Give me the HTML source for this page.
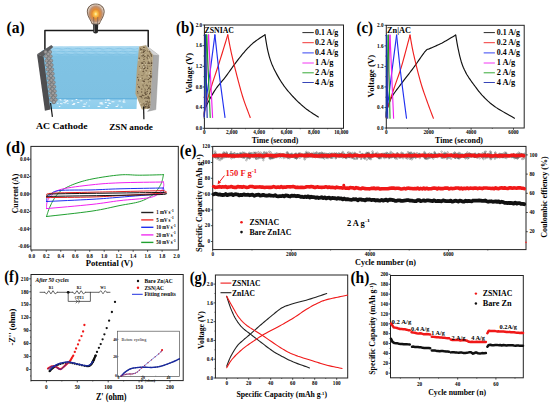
<!DOCTYPE html>
<html><head><meta charset="utf-8"><style>
html,body{margin:0;padding:0;background:#fff;}
body{width:550px;height:405px;overflow:hidden;}
svg{display:block;}
</style></head><body>
<svg width="550" height="405" viewBox="0 0 550 405">
<rect width="550" height="405" fill="#fff"/>
<text x="6.50" y="32.80" font-size="16" fill="#000" style="font-family:'Liberation Serif',serif;font-weight:bold" textLength="18.10" lengthAdjust="spacingAndGlyphs">(a)</text>
<polyline points="44.90,50.00 44.90,30.60 148.20,30.60 148.20,47.00" stroke="#1a1a1a" stroke-width="1.5" fill="none" stroke-linejoin="round" stroke-linecap="round" stroke-linecap="butt"/>
<defs><linearGradient id="wg" x1="0" y1="0" x2="0" y2="1"><stop offset="0" stop-color="#b2dcf2"/><stop offset="0.06" stop-color="#9ed3ee"/><stop offset="0.14" stop-color="#8dcae8"/><stop offset="0.16" stop-color="#80c3e4"/><stop offset="0.82" stop-color="#7ec1e2"/><stop offset="0.83" stop-color="#5eaedb"/><stop offset="0.86" stop-color="#98d1ee"/><stop offset="1" stop-color="#8ccdec"/></linearGradient><radialGradient id="bulb" cx="0.5" cy="0.5" r="0.55"><stop offset="0" stop-color="#fff4b8"/><stop offset="0.18" stop-color="#fcc44a"/><stop offset="0.42" stop-color="#e38a32"/><stop offset="0.68" stop-color="#c09070"/><stop offset="0.88" stop-color="#ddd0c4"/><stop offset="1" stop-color="#7a5a44"/></radialGradient><linearGradient id="plate" x1="0" y1="0" x2="1" y2="0"><stop offset="0" stop-color="#a8a8a8"/><stop offset="0.6" stop-color="#c8c8c8"/><stop offset="1" stop-color="#8a8a8a"/></linearGradient></defs>
<polygon points="41.50,51.00 52.00,46.20 139.50,46.00 136.50,109.00 47.50,109.00" fill="url(#wg)" stroke="none" stroke-width="1" />
<polyline points="53.00,47.40 54.80,47.85 56.60,47.80 58.40,47.32 60.20,46.92 62.00,47.05 63.80,47.56 65.60,47.89 67.40,47.69 69.20,47.17 71.00,46.90 72.80,47.18 74.60,47.70 76.40,47.89 78.20,47.55 80.00,47.04 81.80,46.93 83.60,47.33 85.40,47.81 87.20,47.84 89.00,47.40 90.80,46.95 92.60,47.00 94.40,47.48 96.20,47.88 98.00,47.75 99.80,47.24 101.60,46.91 103.40,47.11 105.20,47.63 107.00,47.90 108.80,47.62 110.60,47.10 112.40,46.91 114.20,47.25 116.00,47.76 117.80,47.87 119.60,47.47 121.40,46.99 123.20,46.96 125.00,47.41 126.80,47.85 128.60,47.80 130.40,47.31 132.20,46.92 134.00,47.05 135.80,47.56 137.60,47.90" stroke="#aad9f0" stroke-width="0.5" fill="none" stroke-linejoin="round" stroke-linecap="round" />
<polyline points="53.00,49.25 54.80,48.82 56.60,48.36 58.40,48.38 60.20,48.86 62.00,49.27 63.80,49.17 65.60,48.66 67.40,48.31 69.20,48.49 71.00,49.01 72.80,49.30 74.60,49.04 76.40,48.52 78.20,48.30 80.00,48.63 81.80,49.14 83.60,49.28 85.40,48.89 87.20,48.41 89.00,48.35 90.80,48.78 92.60,49.24 94.40,49.21 96.20,48.74 98.00,48.33 99.80,48.44 101.60,48.94 103.40,49.29 105.20,49.11 107.00,48.59 108.80,48.30 110.60,48.56 112.40,49.08 114.20,49.30 116.00,48.97 117.80,48.46 119.60,48.32 121.40,48.71 123.20,49.20 125.00,49.25 126.80,48.81 128.60,48.36 130.40,48.39 132.20,48.87 134.00,49.27 135.80,49.16 137.60,48.66" stroke="#6ab6de" stroke-width="0.5" fill="none" stroke-linejoin="round" stroke-linecap="round" />
<polyline points="53.00,49.82 54.80,49.74 56.60,50.16 58.40,50.63 60.20,50.63 62.00,50.16 63.80,49.74 65.60,49.82 67.40,50.32 69.20,50.69 71.00,50.53 72.80,50.01 74.60,49.70 76.40,49.94 78.20,50.46 80.00,50.70 81.80,50.39 83.60,49.87 85.40,49.71 87.20,50.08 89.00,50.58 90.80,50.66 92.60,50.24 94.40,49.77 96.20,49.78 98.00,50.24 99.80,50.66 101.60,50.58 103.40,50.08 105.20,49.71 107.00,49.88 108.80,50.40 110.60,50.70 112.40,50.46 114.20,49.93 116.00,49.70 117.80,50.01 119.60,50.53 121.40,50.68 123.20,50.31 125.00,49.82 126.80,49.74 128.60,50.17 130.40,50.63 132.20,50.62 134.00,50.15 135.80,49.74 137.60,49.82" stroke="#aad9f0" stroke-width="0.5" fill="none" stroke-linejoin="round" stroke-linecap="round" />
<polyline points="53.00,51.46 54.80,51.96 56.60,52.07 58.40,51.66 60.20,51.19 62.00,51.16 63.80,51.62 65.60,52.05 67.40,51.99 69.20,51.50 71.00,51.12 72.80,51.26 74.60,51.77 76.40,52.10 78.20,51.88 80.00,51.36 81.80,51.10 83.60,51.39 85.40,51.91 87.20,52.09 89.00,51.74 90.80,51.23 92.60,51.13 94.40,51.54 96.20,52.02 98.00,52.04 99.80,51.58 101.60,51.15 103.40,51.21 105.20,51.70 107.00,52.08 108.80,51.94 110.60,51.42 112.40,51.10 114.20,51.33 116.00,51.85 117.80,52.10 119.60,51.81 121.40,51.29 123.20,51.11 125.00,51.47 126.80,51.97 128.60,52.07 130.40,51.65 132.20,51.18 134.00,51.17 135.80,51.63 137.60,52.06" stroke="#6ab6de" stroke-width="0.5" fill="none" stroke-linejoin="round" stroke-linecap="round" />
<polyline points="53.00,53.49 54.80,53.16 56.60,52.65 58.40,52.52 60.20,52.92 62.00,53.40 63.80,53.45 65.60,53.00 67.40,52.56 69.20,52.59 71.00,53.07 72.80,53.47 74.60,53.36 76.40,52.85 78.20,52.51 80.00,52.70 81.80,53.23 83.60,53.50 85.40,53.23 87.20,52.71 89.00,52.51 90.80,52.84 92.60,53.35 94.40,53.48 96.20,53.08 98.00,52.60 99.80,52.55 101.60,53.00 103.40,53.45 105.20,53.40 107.00,52.92 108.80,52.52 110.60,52.65 112.40,53.16 114.20,53.49 116.00,53.29 117.80,52.77 119.60,52.50 121.40,52.78 123.20,53.30 125.00,53.49 126.80,53.15 128.60,52.64 130.40,52.53 132.20,52.93 134.00,53.41 135.80,53.44 137.60,53.00" stroke="#aad9f0" stroke-width="0.5" fill="none" stroke-linejoin="round" stroke-linecap="round" />
<polyline points="53.00,54.13 54.80,53.90 56.60,54.22 58.40,54.73 60.20,54.88 62.00,54.50 63.80,54.01 65.60,53.94 67.40,54.38 69.20,54.83 71.00,54.82 72.80,54.35 74.60,53.93 76.40,54.03 78.20,54.53 80.00,54.89 81.80,54.71 83.60,54.19 85.40,53.90 87.20,54.15 89.00,54.68 90.80,54.90 92.60,54.57 94.40,54.06 96.20,53.92 98.00,54.30 99.80,54.79 101.60,54.85 103.40,54.42 105.20,53.96 107.00,53.98 108.80,54.46 110.60,54.87 112.40,54.77 114.20,54.26 116.00,53.91 117.80,54.09 119.60,54.61 121.40,54.90 123.20,54.64 125.00,54.12 126.80,53.90 128.60,54.23 130.40,54.74 132.20,54.88 134.00,54.49 135.80,54.01 137.60,53.95" stroke="#6ab6de" stroke-width="0.5" fill="none" stroke-linejoin="round" stroke-linecap="round" />
<ellipse cx="81.3" cy="100.7" rx="1.3" ry="0.5" fill="#f4fbff"/>
<ellipse cx="61.7" cy="103.8" rx="1.0" ry="0.5" fill="#f4fbff"/>
<ellipse cx="60.5" cy="103.6" rx="0.5" ry="0.5" fill="#f4fbff"/>
<ellipse cx="89.8" cy="100.1" rx="0.6" ry="0.5" fill="#f4fbff"/>
<ellipse cx="89.1" cy="106.1" rx="0.7" ry="0.5" fill="#f4fbff"/>
<ellipse cx="73.4" cy="104.5" rx="1.7" ry="0.5" fill="#f4fbff"/>
<ellipse cx="101.0" cy="102.7" rx="1.8" ry="0.5" fill="#f4fbff"/>
<ellipse cx="59.6" cy="106.4" rx="0.9" ry="0.5" fill="#f4fbff"/>
<ellipse cx="67.3" cy="100.4" rx="0.9" ry="0.5" fill="#f4fbff"/>
<ellipse cx="119.7" cy="100.9" rx="1.3" ry="0.5" fill="#f4fbff"/>
<ellipse cx="105.8" cy="102.5" rx="1.2" ry="0.5" fill="#f4fbff"/>
<ellipse cx="60.9" cy="100.0" rx="0.8" ry="0.5" fill="#f4fbff"/>
<ellipse cx="109.1" cy="102.9" rx="0.9" ry="0.5" fill="#f4fbff"/>
<ellipse cx="101.7" cy="103.1" rx="0.9" ry="0.5" fill="#f4fbff"/>
<ellipse cx="118.0" cy="105.1" rx="0.8" ry="0.5" fill="#f4fbff"/>
<ellipse cx="100.8" cy="103.7" rx="1.6" ry="0.5" fill="#f4fbff"/>
<ellipse cx="112.9" cy="101.8" rx="1.8" ry="0.5" fill="#f4fbff"/>
<ellipse cx="65.2" cy="102.8" rx="1.5" ry="0.5" fill="#f4fbff"/>
<ellipse cx="67.9" cy="103.4" rx="0.6" ry="0.5" fill="#f4fbff"/>
<ellipse cx="108.1" cy="105.6" rx="1.2" ry="0.5" fill="#f4fbff"/>
<ellipse cx="124.3" cy="102.0" rx="1.4" ry="0.5" fill="#f4fbff"/>
<ellipse cx="102.4" cy="104.1" rx="1.1" ry="0.5" fill="#f4fbff"/>
<ellipse cx="121.5" cy="107.1" rx="1.1" ry="0.5" fill="#f4fbff"/>
<ellipse cx="107.8" cy="100.0" rx="1.4" ry="0.5" fill="#f4fbff"/>
<ellipse cx="106.5" cy="107.4" rx="1.6" ry="0.5" fill="#f4fbff"/>
<ellipse cx="78.2" cy="102.6" rx="1.4" ry="0.5" fill="#f4fbff"/>
<ellipse cx="57.8" cy="103.2" rx="0.7" ry="0.5" fill="#f4fbff"/>
<ellipse cx="65.1" cy="100.0" rx="1.5" ry="0.5" fill="#f4fbff"/>
<ellipse cx="66.1" cy="101.5" rx="1.0" ry="0.5" fill="#f4fbff"/>
<ellipse cx="124.0" cy="100.1" rx="1.1" ry="0.5" fill="#f4fbff"/>
<ellipse cx="98.9" cy="106.6" rx="1.6" ry="0.5" fill="#f4fbff"/>
<ellipse cx="123.4" cy="101.7" rx="1.0" ry="0.5" fill="#f4fbff"/>
<ellipse cx="84.0" cy="106.6" rx="1.7" ry="0.5" fill="#f4fbff"/>
<ellipse cx="67.8" cy="100.9" rx="0.8" ry="0.5" fill="#f4fbff"/>
<ellipse cx="74.2" cy="103.4" rx="1.3" ry="0.5" fill="#f4fbff"/>
<ellipse cx="76.5" cy="99.5" rx="1.0" ry="0.5" fill="#f4fbff"/>
<ellipse cx="84.8" cy="104.0" rx="1.7" ry="0.5" fill="#f4fbff"/>
<ellipse cx="109.9" cy="103.6" rx="1.3" ry="0.5" fill="#f4fbff"/>
<ellipse cx="108.7" cy="99.9" rx="1.7" ry="0.5" fill="#f4fbff"/>
<ellipse cx="116.8" cy="106.5" rx="1.5" ry="0.5" fill="#f4fbff"/>
<ellipse cx="86.6" cy="102.7" rx="0.6" ry="0.5" fill="#f4fbff"/>
<ellipse cx="105.5" cy="100.0" rx="0.6" ry="0.5" fill="#f4fbff"/>
<ellipse cx="72.3" cy="100.8" rx="0.9" ry="0.5" fill="#f4fbff"/>
<ellipse cx="60.1" cy="99.5" rx="0.7" ry="0.5" fill="#f4fbff"/>
<ellipse cx="63.9" cy="102.4" rx="0.5" ry="0.5" fill="#f4fbff"/>
<polygon points="37.00,54.20 43.60,56.60 50.40,109.60 44.90,110.80" fill="#4e4e50" stroke="none" stroke-width="1" />
<polygon points="37.00,54.20 51.40,45.00 53.20,47.00 42.90,56.80" fill="#5c5c5e" stroke="none" stroke-width="1" />
<circle cx="45.60" cy="52.00" r="1.7" fill="#a09e9e" stroke="#6a6868" stroke-width="0.5"/>
<circle cx="50.00" cy="52.00" r="1.7" fill="#a09e9e" stroke="#6a6868" stroke-width="0.5"/>
<circle cx="47.93" cy="54.17" r="1.7" fill="#a09e9e" stroke="#6a6868" stroke-width="0.5"/>
<circle cx="48.37" cy="54.17" r="1.7" fill="#a09e9e" stroke="#6a6868" stroke-width="0.5"/>
<circle cx="46.11" cy="56.35" r="1.7" fill="#a09e9e" stroke="#6a6868" stroke-width="0.5"/>
<circle cx="50.51" cy="56.35" r="1.7" fill="#a09e9e" stroke="#6a6868" stroke-width="0.5"/>
<circle cx="48.44" cy="58.52" r="1.7" fill="#a09e9e" stroke="#6a6868" stroke-width="0.5"/>
<circle cx="48.88" cy="58.52" r="1.7" fill="#a09e9e" stroke="#6a6868" stroke-width="0.5"/>
<circle cx="46.63" cy="60.70" r="1.7" fill="#a09e9e" stroke="#6a6868" stroke-width="0.5"/>
<circle cx="51.03" cy="60.70" r="1.7" fill="#a09e9e" stroke="#6a6868" stroke-width="0.5"/>
<circle cx="48.95" cy="62.87" r="1.7" fill="#a09e9e" stroke="#6a6868" stroke-width="0.5"/>
<circle cx="49.39" cy="62.87" r="1.7" fill="#a09e9e" stroke="#6a6868" stroke-width="0.5"/>
<circle cx="47.14" cy="65.04" r="1.7" fill="#a09e9e" stroke="#6a6868" stroke-width="0.5"/>
<circle cx="51.54" cy="65.04" r="1.7" fill="#a09e9e" stroke="#6a6868" stroke-width="0.5"/>
<circle cx="49.47" cy="67.22" r="1.7" fill="#a09e9e" stroke="#6a6868" stroke-width="0.5"/>
<circle cx="49.91" cy="67.22" r="1.7" fill="#a09e9e" stroke="#6a6868" stroke-width="0.5"/>
<circle cx="47.65" cy="69.39" r="1.7" fill="#a09e9e" stroke="#6a6868" stroke-width="0.5"/>
<circle cx="52.05" cy="69.39" r="1.7" fill="#a09e9e" stroke="#6a6868" stroke-width="0.5"/>
<circle cx="49.98" cy="71.57" r="1.7" fill="#a09e9e" stroke="#6a6868" stroke-width="0.5"/>
<circle cx="50.42" cy="71.57" r="1.7" fill="#a09e9e" stroke="#6a6868" stroke-width="0.5"/>
<circle cx="48.17" cy="73.74" r="1.7" fill="#a09e9e" stroke="#6a6868" stroke-width="0.5"/>
<circle cx="52.57" cy="73.74" r="1.7" fill="#a09e9e" stroke="#6a6868" stroke-width="0.5"/>
<circle cx="50.49" cy="75.91" r="1.7" fill="#a09e9e" stroke="#6a6868" stroke-width="0.5"/>
<circle cx="50.93" cy="75.91" r="1.7" fill="#a09e9e" stroke="#6a6868" stroke-width="0.5"/>
<circle cx="48.68" cy="78.09" r="1.7" fill="#a09e9e" stroke="#6a6868" stroke-width="0.5"/>
<circle cx="53.08" cy="78.09" r="1.7" fill="#a09e9e" stroke="#6a6868" stroke-width="0.5"/>
<circle cx="51.00" cy="80.26" r="1.7" fill="#a09e9e" stroke="#6a6868" stroke-width="0.5"/>
<circle cx="51.44" cy="80.26" r="1.7" fill="#a09e9e" stroke="#6a6868" stroke-width="0.5"/>
<circle cx="49.19" cy="82.43" r="1.7" fill="#a09e9e" stroke="#6a6868" stroke-width="0.5"/>
<circle cx="53.59" cy="82.43" r="1.7" fill="#a09e9e" stroke="#6a6868" stroke-width="0.5"/>
<circle cx="51.52" cy="84.61" r="1.7" fill="#a09e9e" stroke="#6a6868" stroke-width="0.5"/>
<circle cx="51.96" cy="84.61" r="1.7" fill="#a09e9e" stroke="#6a6868" stroke-width="0.5"/>
<circle cx="49.70" cy="86.78" r="1.7" fill="#a09e9e" stroke="#6a6868" stroke-width="0.5"/>
<circle cx="54.10" cy="86.78" r="1.7" fill="#a09e9e" stroke="#6a6868" stroke-width="0.5"/>
<circle cx="52.03" cy="88.96" r="1.7" fill="#a09e9e" stroke="#6a6868" stroke-width="0.5"/>
<circle cx="52.47" cy="88.96" r="1.7" fill="#a09e9e" stroke="#6a6868" stroke-width="0.5"/>
<circle cx="50.22" cy="91.13" r="1.7" fill="#a09e9e" stroke="#6a6868" stroke-width="0.5"/>
<circle cx="54.62" cy="91.13" r="1.7" fill="#a09e9e" stroke="#6a6868" stroke-width="0.5"/>
<circle cx="52.54" cy="93.30" r="1.7" fill="#a09e9e" stroke="#6a6868" stroke-width="0.5"/>
<circle cx="52.98" cy="93.30" r="1.7" fill="#a09e9e" stroke="#6a6868" stroke-width="0.5"/>
<circle cx="50.73" cy="95.48" r="1.7" fill="#a09e9e" stroke="#6a6868" stroke-width="0.5"/>
<circle cx="55.13" cy="95.48" r="1.7" fill="#a09e9e" stroke="#6a6868" stroke-width="0.5"/>
<circle cx="53.06" cy="97.65" r="1.7" fill="#a09e9e" stroke="#6a6868" stroke-width="0.5"/>
<circle cx="53.50" cy="97.65" r="1.7" fill="#a09e9e" stroke="#6a6868" stroke-width="0.5"/>
<circle cx="51.24" cy="99.83" r="1.7" fill="#a09e9e" stroke="#6a6868" stroke-width="0.5"/>
<circle cx="55.64" cy="99.83" r="1.7" fill="#a09e9e" stroke="#6a6868" stroke-width="0.5"/>
<circle cx="53.57" cy="102.00" r="1.7" fill="#a09e9e" stroke="#6a6868" stroke-width="0.5"/>
<circle cx="54.01" cy="102.00" r="1.7" fill="#a09e9e" stroke="#6a6868" stroke-width="0.5"/>
<line x1="50.60" y1="103.00" x2="52.40" y2="116.80" stroke="#111" stroke-width="1.2"/>
<polygon points="145.60,45.20 158.80,55.20 155.80,109.60 147.50,111.40 150.20,108.50 153.00,54.80" fill="#a9a9a9" stroke="#8c8c8c" stroke-width="0.4" />
<polygon points="145.60,45.20 158.80,55.20 153.00,54.80" fill="#d4d4d4" stroke="none" stroke-width="1" />
<polygon points="139.10,46.50 145.60,45.20 153.00,54.80 150.20,108.50 141.90,109.40 135.40,93.70 136.80,70.00" fill="#b3a27e" stroke="none" stroke-width="1" />
<circle cx="147.2" cy="100.8" r="0.37" fill="#5e4c36"/>
<circle cx="145.6" cy="62.9" r="0.46" fill="#5e4c36"/>
<circle cx="151.1" cy="55.0" r="0.75" fill="#5e4c36"/>
<circle cx="146.4" cy="75.9" r="0.34" fill="#5e4c36"/>
<circle cx="145.7" cy="53.7" r="0.42" fill="#5e4c36"/>
<circle cx="141.9" cy="98.1" r="0.31" fill="#5e4c36"/>
<circle cx="146.9" cy="105.5" r="0.37" fill="#5e4c36"/>
<circle cx="138.6" cy="80.6" r="0.54" fill="#5e4c36"/>
<circle cx="149.0" cy="107.2" r="0.61" fill="#5e4c36"/>
<circle cx="145.8" cy="63.4" r="0.38" fill="#5e4c36"/>
<circle cx="145.9" cy="94.6" r="0.65" fill="#5e4c36"/>
<circle cx="143.6" cy="67.6" r="0.67" fill="#5e4c36"/>
<circle cx="148.9" cy="107.6" r="0.66" fill="#5e4c36"/>
<circle cx="148.1" cy="97.4" r="0.40" fill="#5e4c36"/>
<circle cx="144.7" cy="79.1" r="0.31" fill="#5e4c36"/>
<circle cx="143.5" cy="49.2" r="0.42" fill="#5e4c36"/>
<circle cx="150.2" cy="89.7" r="0.50" fill="#5e4c36"/>
<circle cx="149.7" cy="104.7" r="0.73" fill="#5e4c36"/>
<circle cx="143.4" cy="69.7" r="0.40" fill="#5e4c36"/>
<circle cx="143.9" cy="59.5" r="0.58" fill="#5e4c36"/>
<circle cx="148.9" cy="102.4" r="0.52" fill="#5e4c36"/>
<circle cx="148.9" cy="87.3" r="0.34" fill="#5e4c36"/>
<circle cx="149.9" cy="87.8" r="0.65" fill="#5e4c36"/>
<circle cx="145.3" cy="93.3" r="0.38" fill="#5e4c36"/>
<circle cx="143.8" cy="95.6" r="0.66" fill="#5e4c36"/>
<circle cx="146.2" cy="106.8" r="0.48" fill="#5e4c36"/>
<circle cx="148.2" cy="105.3" r="0.38" fill="#5e4c36"/>
<circle cx="143.3" cy="55.2" r="0.71" fill="#5e4c36"/>
<circle cx="141.3" cy="96.7" r="0.67" fill="#5e4c36"/>
<circle cx="147.9" cy="107.3" r="0.46" fill="#5e4c36"/>
<circle cx="141.1" cy="81.0" r="0.31" fill="#5e4c36"/>
<circle cx="147.8" cy="106.7" r="0.54" fill="#5e4c36"/>
<circle cx="146.1" cy="104.5" r="0.69" fill="#5e4c36"/>
<circle cx="142.6" cy="97.9" r="0.41" fill="#5e4c36"/>
<circle cx="144.0" cy="65.4" r="0.56" fill="#5e4c36"/>
<circle cx="146.4" cy="63.3" r="0.36" fill="#5e4c36"/>
<circle cx="145.2" cy="103.0" r="0.51" fill="#5e4c36"/>
<circle cx="150.1" cy="83.1" r="0.49" fill="#5e4c36"/>
<circle cx="146.5" cy="103.5" r="0.54" fill="#5e4c36"/>
<circle cx="138.4" cy="79.4" r="0.50" fill="#5e4c36"/>
<circle cx="139.2" cy="58.7" r="0.66" fill="#5e4c36"/>
<circle cx="147.4" cy="58.0" r="0.63" fill="#5e4c36"/>
<circle cx="144.1" cy="81.4" r="0.53" fill="#5e4c36"/>
<circle cx="149.1" cy="81.4" r="0.35" fill="#5e4c36"/>
<circle cx="143.0" cy="81.7" r="0.42" fill="#5e4c36"/>
<circle cx="145.7" cy="94.6" r="0.55" fill="#5e4c36"/>
<circle cx="149.6" cy="93.9" r="0.50" fill="#5e4c36"/>
<circle cx="146.1" cy="84.9" r="0.53" fill="#5e4c36"/>
<circle cx="145.2" cy="89.8" r="0.54" fill="#5e4c36"/>
<circle cx="150.8" cy="76.7" r="0.61" fill="#5e4c36"/>
<circle cx="149.6" cy="101.0" r="0.42" fill="#5e4c36"/>
<circle cx="150.5" cy="81.6" r="0.68" fill="#5e4c36"/>
<circle cx="142.7" cy="55.9" r="0.50" fill="#5e4c36"/>
<circle cx="143.9" cy="51.9" r="0.33" fill="#5e4c36"/>
<circle cx="148.7" cy="88.3" r="0.70" fill="#5e4c36"/>
<circle cx="149.9" cy="56.9" r="0.60" fill="#5e4c36"/>
<circle cx="151.4" cy="56.2" r="0.74" fill="#5e4c36"/>
<circle cx="151.7" cy="60.9" r="0.48" fill="#5e4c36"/>
<circle cx="151.1" cy="77.2" r="0.67" fill="#5e4c36"/>
<circle cx="147.0" cy="57.3" r="0.53" fill="#5e4c36"/>
<circle cx="143.1" cy="68.2" r="0.44" fill="#5e4c36"/>
<circle cx="137.5" cy="91.6" r="0.55" fill="#5e4c36"/>
<circle cx="138.8" cy="74.4" r="0.45" fill="#5e4c36"/>
<circle cx="146.1" cy="85.6" r="0.33" fill="#5e4c36"/>
<circle cx="148.6" cy="107.6" r="0.74" fill="#5e4c36"/>
<circle cx="144.8" cy="53.9" r="0.32" fill="#5e4c36"/>
<circle cx="142.8" cy="95.0" r="0.36" fill="#5e4c36"/>
<circle cx="150.7" cy="73.3" r="0.67" fill="#5e4c36"/>
<circle cx="142.7" cy="63.3" r="0.71" fill="#5e4c36"/>
<circle cx="148.3" cy="82.3" r="0.34" fill="#5e4c36"/>
<circle cx="147.4" cy="51.0" r="0.49" fill="#5e4c36"/>
<circle cx="149.8" cy="51.9" r="0.59" fill="#5e4c36"/>
<circle cx="140.1" cy="96.4" r="0.69" fill="#5e4c36"/>
<circle cx="149.0" cy="51.6" r="0.50" fill="#5e4c36"/>
<circle cx="147.6" cy="68.2" r="0.72" fill="#5e4c36"/>
<circle cx="142.3" cy="63.8" r="0.54" fill="#5e4c36"/>
<circle cx="142.1" cy="62.0" r="0.37" fill="#5e4c36"/>
<circle cx="143.1" cy="50.6" r="0.44" fill="#5e4c36"/>
<circle cx="149.7" cy="66.1" r="0.43" fill="#5e4c36"/>
<circle cx="142.2" cy="78.0" r="0.46" fill="#5e4c36"/>
<circle cx="143.1" cy="48.6" r="0.31" fill="#5e4c36"/>
<circle cx="146.1" cy="92.2" r="0.39" fill="#5e4c36"/>
<circle cx="150.7" cy="76.5" r="0.35" fill="#5e4c36"/>
<circle cx="145.2" cy="97.5" r="0.52" fill="#5e4c36"/>
<circle cx="144.9" cy="98.4" r="0.53" fill="#5e4c36"/>
<circle cx="150.4" cy="89.5" r="0.45" fill="#5e4c36"/>
<circle cx="147.8" cy="98.3" r="0.59" fill="#5e4c36"/>
<circle cx="145.0" cy="72.2" r="0.32" fill="#5e4c36"/>
<circle cx="141.7" cy="55.4" r="0.63" fill="#5e4c36"/>
<circle cx="143.0" cy="63.1" r="0.34" fill="#5e4c36"/>
<circle cx="149.1" cy="98.8" r="0.60" fill="#5e4c36"/>
<circle cx="144.1" cy="64.7" r="0.43" fill="#5e4c36"/>
<circle cx="142.0" cy="75.5" r="0.50" fill="#5e4c36"/>
<circle cx="151.6" cy="63.6" r="0.74" fill="#5e4c36"/>
<circle cx="143.0" cy="80.9" r="0.73" fill="#5e4c36"/>
<circle cx="145.5" cy="66.4" r="0.30" fill="#5e4c36"/>
<circle cx="146.6" cy="70.8" r="0.53" fill="#5e4c36"/>
<circle cx="147.6" cy="59.8" r="0.30" fill="#5e4c36"/>
<circle cx="141.6" cy="63.6" r="0.48" fill="#5e4c36"/>
<circle cx="140.4" cy="50.0" r="0.44" fill="#5e4c36"/>
<circle cx="148.3" cy="61.7" r="0.54" fill="#5e4c36"/>
<circle cx="147.2" cy="93.3" r="0.62" fill="#5e4c36"/>
<circle cx="145.3" cy="101.1" r="0.45" fill="#5e4c36"/>
<circle cx="144.3" cy="107.6" r="0.63" fill="#5e4c36"/>
<circle cx="138.7" cy="86.7" r="0.68" fill="#5e4c36"/>
<circle cx="147.4" cy="101.9" r="0.63" fill="#5e4c36"/>
<circle cx="141.3" cy="97.0" r="0.54" fill="#5e4c36"/>
<circle cx="149.7" cy="78.3" r="0.66" fill="#5e4c36"/>
<circle cx="146.7" cy="97.9" r="0.70" fill="#5e4c36"/>
<circle cx="147.8" cy="89.2" r="0.40" fill="#5e4c36"/>
<circle cx="142.1" cy="49.4" r="0.46" fill="#5e4c36"/>
<circle cx="150.4" cy="53.9" r="0.55" fill="#5e4c36"/>
<circle cx="147.3" cy="85.8" r="0.61" fill="#5e4c36"/>
<circle cx="137.7" cy="77.3" r="0.66" fill="#5e4c36"/>
<circle cx="145.5" cy="93.1" r="0.54" fill="#5e4c36"/>
<circle cx="139.3" cy="87.7" r="0.63" fill="#5e4c36"/>
<circle cx="141.3" cy="62.9" r="0.42" fill="#5e4c36"/>
<circle cx="141.7" cy="92.0" r="0.63" fill="#5e4c36"/>
<circle cx="146.9" cy="107.0" r="0.47" fill="#5e4c36"/>
<circle cx="148.4" cy="76.7" r="0.65" fill="#5e4c36"/>
<circle cx="147.5" cy="85.1" r="0.33" fill="#5e4c36"/>
<circle cx="144.8" cy="56.5" r="0.63" fill="#5e4c36"/>
<circle cx="147.9" cy="66.1" r="0.31" fill="#5e4c36"/>
<circle cx="144.0" cy="51.2" r="0.60" fill="#5e4c36"/>
<circle cx="147.6" cy="89.7" r="0.43" fill="#5e4c36"/>
<circle cx="146.0" cy="79.0" r="0.51" fill="#5e4c36"/>
<circle cx="151.5" cy="54.7" r="0.39" fill="#5e4c36"/>
<circle cx="149.4" cy="107.2" r="0.31" fill="#5e4c36"/>
<circle cx="149.8" cy="75.5" r="0.74" fill="#5e4c36"/>
<circle cx="143.8" cy="74.9" r="0.39" fill="#5e4c36"/>
<circle cx="144.3" cy="105.2" r="0.56" fill="#5e4c36"/>
<circle cx="148.0" cy="56.1" r="0.73" fill="#5e4c36"/>
<circle cx="150.9" cy="55.6" r="0.53" fill="#5e4c36"/>
<circle cx="147.9" cy="101.6" r="0.40" fill="#5e4c36"/>
<circle cx="146.3" cy="102.3" r="0.31" fill="#5e4c36"/>
<circle cx="144.4" cy="47.7" r="0.50" fill="#5e4c36"/>
<circle cx="142.4" cy="65.9" r="0.45" fill="#5e4c36"/>
<circle cx="150.4" cy="66.8" r="0.30" fill="#5e4c36"/>
<circle cx="149.0" cy="93.3" r="0.35" fill="#5e4c36"/>
<circle cx="148.1" cy="104.0" r="0.71" fill="#5e4c36"/>
<circle cx="145.8" cy="65.2" r="0.48" fill="#5e4c36"/>
<circle cx="147.6" cy="108.4" r="0.46" fill="#5e4c36"/>
<circle cx="144.0" cy="73.6" r="0.32" fill="#5e4c36"/>
<circle cx="150.3" cy="53.7" r="0.43" fill="#5e4c36"/>
<circle cx="144.5" cy="104.6" r="0.42" fill="#5e4c36"/>
<circle cx="142.3" cy="78.7" r="0.47" fill="#5e4c36"/>
<circle cx="149.1" cy="105.8" r="0.67" fill="#5e4c36"/>
<circle cx="150.0" cy="86.0" r="0.72" fill="#5e4c36"/>
<circle cx="148.5" cy="81.0" r="0.32" fill="#5e4c36"/>
<circle cx="145.0" cy="92.2" r="0.64" fill="#5e4c36"/>
<circle cx="143.2" cy="86.8" r="0.32" fill="#5e4c36"/>
<circle cx="143.1" cy="104.0" r="0.51" fill="#5e4c36"/>
<circle cx="144.6" cy="68.5" r="0.63" fill="#5e4c36"/>
<circle cx="145.2" cy="107.1" r="0.60" fill="#5e4c36"/>
<circle cx="147.8" cy="65.9" r="0.48" fill="#5e4c36"/>
<circle cx="143.3" cy="57.7" r="0.39" fill="#5e4c36"/>
<circle cx="146.4" cy="102.8" r="0.40" fill="#5e4c36"/>
<circle cx="149.9" cy="102.8" r="0.50" fill="#5e4c36"/>
<circle cx="143.9" cy="56.0" r="0.34" fill="#5e4c36"/>
<circle cx="141.2" cy="68.4" r="0.41" fill="#5e4c36"/>
<circle cx="148.1" cy="63.3" r="0.70" fill="#5e4c36"/>
<circle cx="144.5" cy="93.2" r="0.49" fill="#5e4c36"/>
<circle cx="144.9" cy="79.5" r="0.45" fill="#5e4c36"/>
<circle cx="144.1" cy="51.3" r="0.74" fill="#5e4c36"/>
<circle cx="147.9" cy="55.2" r="0.58" fill="#5e4c36"/>
<circle cx="143.2" cy="100.1" r="0.42" fill="#5e4c36"/>
<circle cx="146.3" cy="62.7" r="0.50" fill="#5e4c36"/>
<circle cx="148.9" cy="105.7" r="0.69" fill="#5e4c36"/>
<circle cx="140.6" cy="48.8" r="0.62" fill="#5e4c36"/>
<circle cx="146.2" cy="102.1" r="0.56" fill="#5e4c36"/>
<circle cx="143.7" cy="47.5" r="0.72" fill="#5e4c36"/>
<circle cx="149.0" cy="97.9" r="0.74" fill="#5e4c36"/>
<circle cx="142.0" cy="62.7" r="0.37" fill="#5e4c36"/>
<circle cx="148.2" cy="79.4" r="0.72" fill="#5e4c36"/>
<circle cx="147.2" cy="91.5" r="0.64" fill="#5e4c36"/>
<circle cx="147.2" cy="75.4" r="0.32" fill="#5e4c36"/>
<circle cx="142.3" cy="95.2" r="0.71" fill="#5e4c36"/>
<circle cx="143.5" cy="86.9" r="0.36" fill="#5e4c36"/>
<circle cx="148.8" cy="62.9" r="0.61" fill="#5e4c36"/>
<circle cx="141.7" cy="54.3" r="0.54" fill="#5e4c36"/>
<circle cx="144.8" cy="83.1" r="0.40" fill="#5e4c36"/>
<circle cx="137.7" cy="84.2" r="0.44" fill="#5e4c36"/>
<circle cx="151.0" cy="75.6" r="0.59" fill="#5e4c36"/>
<circle cx="146.1" cy="101.4" r="0.41" fill="#5e4c36"/>
<circle cx="151.7" cy="62.6" r="0.62" fill="#5e4c36"/>
<circle cx="139.5" cy="66.3" r="0.52" fill="#5e4c36"/>
<circle cx="144.9" cy="88.6" r="0.42" fill="#5e4c36"/>
<circle cx="150.0" cy="88.2" r="0.40" fill="#5e4c36"/>
<circle cx="144.1" cy="49.6" r="0.49" fill="#5e4c36"/>
<circle cx="141.8" cy="89.1" r="0.66" fill="#5e4c36"/>
<circle cx="145.6" cy="92.6" r="0.39" fill="#5e4c36"/>
<circle cx="145.5" cy="106.7" r="0.67" fill="#5e4c36"/>
<circle cx="144.0" cy="61.6" r="0.64" fill="#5e4c36"/>
<circle cx="151.4" cy="65.5" r="0.52" fill="#5e4c36"/>
<circle cx="144.2" cy="58.9" r="0.49" fill="#5e4c36"/>
<circle cx="150.2" cy="88.1" r="0.37" fill="#5e4c36"/>
<circle cx="143.2" cy="71.5" r="0.74" fill="#5e4c36"/>
<circle cx="141.2" cy="56.2" r="0.33" fill="#5e4c36"/>
<circle cx="150.7" cy="71.5" r="0.70" fill="#5e4c36"/>
<circle cx="150.4" cy="92.2" r="0.72" fill="#5e4c36"/>
<circle cx="143.0" cy="67.6" r="0.72" fill="#5e4c36"/>
<circle cx="137.9" cy="93.0" r="0.60" fill="#5e4c36"/>
<circle cx="145.4" cy="70.6" r="0.45" fill="#5e4c36"/>
<circle cx="139.2" cy="57.8" r="0.43" fill="#5e4c36"/>
<circle cx="151.3" cy="68.9" r="0.36" fill="#5e4c36"/>
<circle cx="144.5" cy="106.3" r="0.46" fill="#5e4c36"/>
<circle cx="148.8" cy="97.6" r="0.49" fill="#5e4c36"/>
<circle cx="145.6" cy="50.5" r="0.47" fill="#5e4c36"/>
<circle cx="143.7" cy="103.6" r="0.46" fill="#5e4c36"/>
<circle cx="140.8" cy="102.2" r="0.48" fill="#5e4c36"/>
<circle cx="148.3" cy="97.0" r="0.32" fill="#5e4c36"/>
<circle cx="141.2" cy="49.6" r="0.71" fill="#5e4c36"/>
<circle cx="149.8" cy="63.2" r="0.70" fill="#5e4c36"/>
<circle cx="144.3" cy="68.2" r="0.73" fill="#5e4c36"/>
<circle cx="143.0" cy="85.1" r="0.62" fill="#5e4c36"/>
<circle cx="144.4" cy="66.8" r="0.30" fill="#5e4c36"/>
<circle cx="149.6" cy="93.6" r="0.59" fill="#5e4c36"/>
<circle cx="141.7" cy="105.0" r="0.41" fill="#5e4c36"/>
<circle cx="150.9" cy="76.5" r="0.73" fill="#5e4c36"/>
<circle cx="143.8" cy="71.1" r="0.49" fill="#5e4c36"/>
<circle cx="150.6" cy="77.6" r="0.38" fill="#5e4c36"/>
<circle cx="148.1" cy="96.5" r="0.67" fill="#5e4c36"/>
<circle cx="146.7" cy="94.6" r="0.45" fill="#5e4c36"/>
<circle cx="145.5" cy="67.0" r="0.65" fill="#5e4c36"/>
<circle cx="143.5" cy="52.3" r="0.64" fill="#5e4c36"/>
<circle cx="141.1" cy="62.6" r="0.32" fill="#5e4c36"/>
<circle cx="144.1" cy="81.2" r="0.74" fill="#5e4c36"/>
<circle cx="149.9" cy="101.4" r="0.42" fill="#5e4c36"/>
<circle cx="142.0" cy="52.6" r="0.52" fill="#5e4c36"/>
<circle cx="145.0" cy="90.8" r="0.41" fill="#5e4c36"/>
<circle cx="146.2" cy="72.9" r="0.67" fill="#cfc2a4"/>
<circle cx="148.2" cy="93.1" r="0.67" fill="#cfc2a4"/>
<circle cx="150.3" cy="54.9" r="0.52" fill="#cfc2a4"/>
<circle cx="142.2" cy="82.1" r="0.70" fill="#cfc2a4"/>
<circle cx="142.0" cy="59.7" r="0.50" fill="#cfc2a4"/>
<circle cx="150.7" cy="56.9" r="0.63" fill="#cfc2a4"/>
<circle cx="143.5" cy="67.4" r="0.80" fill="#cfc2a4"/>
<circle cx="140.4" cy="78.4" r="0.72" fill="#cfc2a4"/>
<circle cx="150.6" cy="87.4" r="0.44" fill="#cfc2a4"/>
<circle cx="148.8" cy="76.5" r="0.74" fill="#cfc2a4"/>
<circle cx="140.4" cy="103.3" r="0.52" fill="#cfc2a4"/>
<circle cx="141.6" cy="54.8" r="0.79" fill="#cfc2a4"/>
<circle cx="149.9" cy="83.1" r="0.55" fill="#cfc2a4"/>
<circle cx="143.8" cy="100.3" r="0.50" fill="#cfc2a4"/>
<circle cx="149.6" cy="94.9" r="0.44" fill="#cfc2a4"/>
<circle cx="145.5" cy="83.9" r="0.49" fill="#cfc2a4"/>
<circle cx="139.8" cy="70.0" r="0.48" fill="#cfc2a4"/>
<circle cx="146.5" cy="63.0" r="0.66" fill="#cfc2a4"/>
<circle cx="138.8" cy="59.9" r="0.53" fill="#cfc2a4"/>
<circle cx="139.0" cy="88.9" r="0.52" fill="#cfc2a4"/>
<circle cx="149.4" cy="59.9" r="0.62" fill="#cfc2a4"/>
<circle cx="140.4" cy="51.4" r="0.56" fill="#cfc2a4"/>
<circle cx="146.0" cy="81.1" r="0.44" fill="#cfc2a4"/>
<circle cx="148.2" cy="57.5" r="0.56" fill="#cfc2a4"/>
<circle cx="142.5" cy="64.8" r="0.78" fill="#cfc2a4"/>
<circle cx="145.9" cy="66.6" r="0.54" fill="#cfc2a4"/>
<circle cx="149.6" cy="72.9" r="0.80" fill="#cfc2a4"/>
<circle cx="140.6" cy="69.7" r="0.69" fill="#cfc2a4"/>
<circle cx="138.7" cy="59.9" r="0.76" fill="#cfc2a4"/>
<circle cx="148.9" cy="73.3" r="0.56" fill="#cfc2a4"/>
<circle cx="144.1" cy="101.4" r="0.47" fill="#cfc2a4"/>
<circle cx="143.9" cy="48.4" r="0.66" fill="#cfc2a4"/>
<circle cx="140.7" cy="103.0" r="0.65" fill="#cfc2a4"/>
<circle cx="144.8" cy="70.1" r="0.46" fill="#cfc2a4"/>
<circle cx="145.4" cy="64.8" r="0.77" fill="#cfc2a4"/>
<circle cx="145.4" cy="54.1" r="0.72" fill="#cfc2a4"/>
<circle cx="143.0" cy="106.5" r="0.45" fill="#cfc2a4"/>
<circle cx="149.6" cy="105.0" r="0.59" fill="#cfc2a4"/>
<circle cx="148.6" cy="50.8" r="0.56" fill="#cfc2a4"/>
<circle cx="146.0" cy="102.7" r="0.73" fill="#cfc2a4"/>
<line x1="143.60" y1="106.50" x2="143.90" y2="119.30" stroke="#111" stroke-width="1.2"/>
<path d="M92.2,24 C91.2,20.5 87.3,16.8 87.3,11.8 C87.3,6.8 91,4.0 95.7,4.0 C100.4,4.0 104.2,6.8 104.2,11.8 C104.2,16.8 100.3,20.5 99.3,24 Z" fill="url(#bulb)" stroke="#5e4634" stroke-width="0.8"/>
<path d="M93.6,17 L93.9,24 M97.8,17 L97.5,24" stroke="#6a5a50" stroke-width="0.6" fill="none"/>
<path d="M93.0,24.3 L98.2,24.3 L97.9,32.4 Q95.6,34.4 93.3,32.4 Z" fill="#262626"/>
<path d="M94.2,25 L94.5,32" stroke="#9a9a9a" stroke-width="0.6"/>
<text x="35.90" y="128.80" font-size="8.8" fill="#000" style="font-family:'Liberation Serif',serif;font-weight:bold" textLength="51.70" lengthAdjust="spacingAndGlyphs">AC Cathode</text>
<text x="109.20" y="129.50" font-size="8.8" fill="#000" style="font-family:'Liberation Serif',serif;font-weight:bold" textLength="43.70" lengthAdjust="spacingAndGlyphs">ZSN anode</text>
<rect x="204.40" y="25.00" width="139.10" height="103.30" stroke="#222" stroke-width="1" fill="none"/>
<line x1="202.60" y1="128.30" x2="204.40" y2="128.30" stroke="#222" stroke-width="0.8"/>
<text x="202.20" y="130.02" font-size="5.2" fill="#000" style="font-family:'Liberation Serif',serif;font-weight:bold" text-anchor="end">0.0</text>
<line x1="202.60" y1="107.64" x2="204.40" y2="107.64" stroke="#222" stroke-width="0.8"/>
<text x="202.20" y="109.36" font-size="5.2" fill="#000" style="font-family:'Liberation Serif',serif;font-weight:bold" text-anchor="end">0.4</text>
<line x1="202.60" y1="86.98" x2="204.40" y2="86.98" stroke="#222" stroke-width="0.8"/>
<text x="202.20" y="88.70" font-size="5.2" fill="#000" style="font-family:'Liberation Serif',serif;font-weight:bold" text-anchor="end">0.8</text>
<line x1="202.60" y1="66.32" x2="204.40" y2="66.32" stroke="#222" stroke-width="0.8"/>
<text x="202.20" y="68.04" font-size="5.2" fill="#000" style="font-family:'Liberation Serif',serif;font-weight:bold" text-anchor="end">1.2</text>
<line x1="202.60" y1="45.66" x2="204.40" y2="45.66" stroke="#222" stroke-width="0.8"/>
<text x="202.20" y="47.38" font-size="5.2" fill="#000" style="font-family:'Liberation Serif',serif;font-weight:bold" text-anchor="end">1.6</text>
<line x1="202.60" y1="25.00" x2="204.40" y2="25.00" stroke="#222" stroke-width="0.8"/>
<text x="202.20" y="26.72" font-size="5.2" fill="#000" style="font-family:'Liberation Serif',serif;font-weight:bold" text-anchor="end">2.0</text>
<line x1="203.40" y1="117.97" x2="204.40" y2="117.97" stroke="#222" stroke-width="0.6"/>
<line x1="203.40" y1="97.31" x2="204.40" y2="97.31" stroke="#222" stroke-width="0.6"/>
<line x1="203.40" y1="76.65" x2="204.40" y2="76.65" stroke="#222" stroke-width="0.6"/>
<line x1="203.40" y1="55.99" x2="204.40" y2="55.99" stroke="#222" stroke-width="0.6"/>
<line x1="203.40" y1="35.33" x2="204.40" y2="35.33" stroke="#222" stroke-width="0.6"/>
<line x1="204.40" y1="128.30" x2="204.40" y2="130.10" stroke="#222" stroke-width="0.8"/>
<text x="204.40" y="134.12" font-size="5.2" fill="#000" style="font-family:'Liberation Serif',serif;font-weight:bold" text-anchor="middle">0</text>
<line x1="231.78" y1="128.30" x2="231.78" y2="130.10" stroke="#222" stroke-width="0.8"/>
<text x="231.78" y="134.12" font-size="5.2" fill="#000" style="font-family:'Liberation Serif',serif;font-weight:bold" text-anchor="middle">2,000</text>
<line x1="259.16" y1="128.30" x2="259.16" y2="130.10" stroke="#222" stroke-width="0.8"/>
<text x="259.16" y="134.12" font-size="5.2" fill="#000" style="font-family:'Liberation Serif',serif;font-weight:bold" text-anchor="middle">4,000</text>
<line x1="286.55" y1="128.30" x2="286.55" y2="130.10" stroke="#222" stroke-width="0.8"/>
<text x="286.55" y="134.12" font-size="5.2" fill="#000" style="font-family:'Liberation Serif',serif;font-weight:bold" text-anchor="middle">6,000</text>
<line x1="313.93" y1="128.30" x2="313.93" y2="130.10" stroke="#222" stroke-width="0.8"/>
<text x="313.93" y="134.12" font-size="5.2" fill="#000" style="font-family:'Liberation Serif',serif;font-weight:bold" text-anchor="middle">8,000</text>
<line x1="341.31" y1="128.30" x2="341.31" y2="130.10" stroke="#222" stroke-width="0.8"/>
<text x="341.31" y="134.12" font-size="5.2" fill="#000" style="font-family:'Liberation Serif',serif;font-weight:bold" text-anchor="middle">10,000</text>
<line x1="218.09" y1="128.30" x2="218.09" y2="129.30" stroke="#222" stroke-width="0.6"/>
<line x1="245.47" y1="128.30" x2="245.47" y2="129.30" stroke="#222" stroke-width="0.6"/>
<line x1="272.85" y1="128.30" x2="272.85" y2="129.30" stroke="#222" stroke-width="0.6"/>
<line x1="300.24" y1="128.30" x2="300.24" y2="129.30" stroke="#222" stroke-width="0.6"/>
<line x1="327.62" y1="128.30" x2="327.62" y2="129.30" stroke="#222" stroke-width="0.6"/>
<text x="251.80" y="142.91" font-size="7.6" fill="#000" style="font-family:'Liberation Serif',serif;font-weight:bold" textLength="46.50" lengthAdjust="spacingAndGlyphs">Time (second)</text>
<text transform="translate(191.81,73.10) rotate(-90)" x="0" y="0" font-size="7.6" fill="#000" style="font-family:'Liberation Serif',serif;font-weight:bold" text-anchor="middle" textLength="40.20" lengthAdjust="spacingAndGlyphs">Voltage (V)</text>
<text x="176.00" y="33.00" font-size="16" fill="#000" style="font-family:'Liberation Serif',serif;font-weight:bold" textLength="18.20" lengthAdjust="spacingAndGlyphs">(b)</text>
<text x="204.60" y="33.24" font-size="8.3" fill="#000" style="font-family:'Liberation Serif',serif;font-weight:bold" textLength="29.40" lengthAdjust="spacingAndGlyphs">ZSNIAC</text>
<line x1="302.40" y1="32.60" x2="313.80" y2="32.60" stroke="#111" stroke-width="0.9"/>
<text x="315.00" y="34.98" font-size="7.2" fill="#000" style="font-family:'Liberation Serif',serif;font-weight:bold" textLength="23.30" lengthAdjust="spacingAndGlyphs">0.1 A/g</text>
<line x1="302.40" y1="42.70" x2="313.80" y2="42.70" stroke="#f02020" stroke-width="0.9"/>
<text x="315.00" y="45.08" font-size="7.2" fill="#000" style="font-family:'Liberation Serif',serif;font-weight:bold" textLength="23.30" lengthAdjust="spacingAndGlyphs">0.2 A/g</text>
<line x1="302.40" y1="52.90" x2="313.80" y2="52.90" stroke="#2030f0" stroke-width="0.9"/>
<text x="315.00" y="55.28" font-size="7.2" fill="#000" style="font-family:'Liberation Serif',serif;font-weight:bold" textLength="23.30" lengthAdjust="spacingAndGlyphs">0.4 A/g</text>
<line x1="302.40" y1="63.00" x2="313.80" y2="63.00" stroke="#f020f0" stroke-width="0.9"/>
<text x="315.00" y="65.38" font-size="7.2" fill="#000" style="font-family:'Liberation Serif',serif;font-weight:bold" textLength="18.41" lengthAdjust="spacingAndGlyphs">1 A/g</text>
<line x1="302.40" y1="72.80" x2="313.80" y2="72.80" stroke="#20a020" stroke-width="0.9"/>
<text x="315.00" y="75.18" font-size="7.2" fill="#000" style="font-family:'Liberation Serif',serif;font-weight:bold" textLength="18.41" lengthAdjust="spacingAndGlyphs">2 A/g</text>
<line x1="302.40" y1="82.50" x2="313.80" y2="82.50" stroke="#2030b0" stroke-width="0.9"/>
<text x="315.00" y="84.88" font-size="7.2" fill="#000" style="font-family:'Liberation Serif',serif;font-weight:bold" textLength="18.41" lengthAdjust="spacingAndGlyphs">4 A/g</text>
<polyline points="204.40,116.42 204.41,116.05 204.39,115.58 204.37,115.04 204.35,114.43 204.34,113.76 204.35,113.04 204.39,112.29 204.47,111.51 204.61,110.71 204.80,109.91 205.06,109.09 205.36,108.24 205.71,107.36 206.09,106.44 206.51,105.50 206.96,104.53 207.44,103.53 207.96,102.51 208.49,101.47 209.05,100.41 209.63,99.32 210.24,98.18 210.89,97.01 211.56,95.82 212.26,94.60 212.98,93.38 213.73,92.15 214.51,90.93 215.30,89.72 216.11,88.53 216.96,87.36 217.84,86.20 218.76,85.05 219.70,83.91 220.66,82.76 221.63,81.61 222.61,80.45 223.59,79.27 224.55,78.08 225.50,76.86 226.44,75.61 227.38,74.33 228.32,73.03 229.26,71.71 230.20,70.39 231.14,69.06 232.09,67.74 233.03,66.44 233.97,65.15 234.91,63.89 235.85,62.65 236.79,61.41 237.73,60.17 238.67,58.95 239.61,57.73 240.55,56.54 241.49,55.36 242.43,54.22 243.37,53.10 244.31,52.01 245.24,50.96 246.16,49.94 247.07,48.95 247.98,47.98 248.89,47.03 249.81,46.10 250.74,45.19 251.70,44.30 252.68,43.43 253.70,42.56 254.80,41.68 256.02,40.78 257.31,39.87 258.63,38.97 259.94,38.10 261.21,37.27 262.39,36.51 263.44,35.84 264.33,35.27 265.01,34.81" stroke="#111" stroke-width="1.15" fill="none" stroke-linejoin="round" stroke-linecap="round" />
<polyline points="265.01,34.81 265.17,35.77 265.37,37.01 265.61,38.48 265.87,40.13 266.16,41.90 266.47,43.73 266.80,45.58 267.13,47.38 267.47,49.08 267.81,50.62 268.14,52.04 268.47,53.41 268.82,54.74 269.16,56.05 269.53,57.33 269.91,58.60 270.31,59.86 270.74,61.12 271.21,62.40 271.70,63.69 272.23,64.99 272.80,66.30 273.39,67.62 274.01,68.94 274.66,70.25 275.32,71.55 276.00,72.85 276.69,74.13 277.39,75.40 278.10,76.65 278.81,77.88 279.53,79.08 280.26,80.28 281.00,81.45 281.75,82.62 282.53,83.78 283.33,84.94 284.15,86.10 285.01,87.26 285.90,88.43 286.84,89.61 287.82,90.80 288.84,92.00 289.88,93.20 290.95,94.40 292.03,95.58 293.11,96.75 294.19,97.88 295.26,98.99 296.31,100.05 297.34,101.07 298.35,102.06 299.36,103.01 300.37,103.94 301.38,104.85 302.39,105.74 303.42,106.62 304.46,107.48 305.52,108.34 306.60,109.19 307.77,110.06 309.04,110.97 310.38,111.89 311.74,112.80 313.10,113.69 314.40,114.53 315.61,115.30 316.69,115.99 317.60,116.58 318.30,117.04" stroke="#111" stroke-width="1.15" fill="none" stroke-linejoin="round" stroke-linecap="round" />
<polyline points="204.40,116.94 204.41,116.51 204.38,116.04 204.34,115.50 204.30,114.90 204.28,114.19 204.28,113.38 204.34,112.44 204.46,111.35 204.66,110.10 204.96,108.67 205.35,107.03 205.84,105.17 206.40,103.13 207.02,100.94 207.69,98.63 208.40,96.24 209.14,93.79 209.90,91.33 210.65,88.87 211.40,86.46 212.15,84.06 212.94,81.62 213.76,79.13 214.59,76.61 215.45,74.07 216.31,71.50 217.17,68.92 218.02,66.33 218.87,63.74 219.70,61.16 220.56,58.44 221.46,55.53 222.40,52.50 223.34,49.43 224.27,46.40 225.15,43.50 225.97,40.81 226.70,38.41 227.32,36.39 227.80,34.81" stroke="#f02020" stroke-width="1.15" fill="none" stroke-linejoin="round" stroke-linecap="round" />
<polyline points="227.80,34.81 228.00,35.89 228.25,37.24 228.55,38.83 228.87,40.61 229.24,42.56 229.63,44.62 230.05,46.76 230.48,48.94 230.94,51.12 231.40,53.25 231.89,55.41 232.42,57.68 232.98,60.03 233.56,62.44 234.16,64.88 234.77,67.34 235.39,69.79 236.00,72.21 236.61,74.57 237.20,76.86 237.78,79.08 238.36,81.28 238.93,83.44 239.50,85.59 240.07,87.71 240.65,89.81 241.24,91.89 241.84,93.95 242.46,96.00 243.10,98.03 243.79,100.13 244.56,102.34 245.37,104.60 246.20,106.86 247.02,109.07 247.82,111.17 248.56,113.11 249.22,114.84 249.78,116.31 250.21,117.45" stroke="#f02020" stroke-width="1.15" fill="none" stroke-linejoin="round" stroke-linecap="round" />
<polyline points="204.40,116.94 204.40,116.64 204.38,116.43 204.35,116.24 204.31,116.00 204.29,115.65 204.29,115.10 204.33,114.30 204.42,113.19 204.58,111.67 204.82,109.71 205.14,107.20 205.55,104.19 206.02,100.77 206.55,97.01 207.11,93.02 207.69,88.87 208.29,84.66 208.87,80.47 209.44,76.39 209.96,72.52 210.49,68.60 211.04,64.41 211.62,60.06 212.19,55.66 212.76,51.34 213.29,47.21 213.79,43.37 214.23,39.95 214.61,37.06 214.90,34.81" stroke="#2030f0" stroke-width="1.15" fill="none" stroke-linejoin="round" stroke-linecap="round" />
<polyline points="214.90,34.81 215.18,37.32 215.53,40.55 215.95,44.38 216.41,48.67 216.92,53.30 217.45,58.13 217.99,63.03 218.54,67.87 219.09,72.52 219.60,76.86 220.14,81.16 220.73,85.72 221.34,90.42 221.97,95.15 222.60,99.78 223.20,104.21 223.76,108.30 224.26,111.96 224.68,115.04 225.00,117.45" stroke="#2030f0" stroke-width="1.15" fill="none" stroke-linejoin="round" stroke-linecap="round" />
<polyline points="204.40,116.94 204.67,111.68 205.04,104.45 205.48,95.75 205.98,86.06 206.50,75.88 207.02,65.69 207.52,56.00 207.96,47.30 208.33,40.07 208.60,34.81" stroke="#f020f0" stroke-width="1.15" fill="none" stroke-linejoin="round" stroke-linecap="round" />
<polyline points="208.60,34.81 208.71,37.31 208.86,40.52 209.03,44.32 209.22,48.59 209.43,53.18 209.65,57.98 209.87,62.86 210.10,67.68 210.31,72.32 210.52,76.65 210.73,80.96 210.96,85.53 211.20,90.25 211.44,95.00 211.68,99.67 211.91,104.12 212.12,108.24 212.31,111.92 212.47,115.03 212.59,117.45" stroke="#f020f0" stroke-width="1.15" fill="none" stroke-linejoin="round" stroke-linecap="round" />
<polyline points="204.40,116.94 204.55,111.68 204.75,104.45 204.99,95.75 205.26,86.06 205.55,75.88 205.83,65.69 206.10,56.00 206.35,47.30 206.55,40.07 206.70,34.81" stroke="#20a020" stroke-width="1.15" fill="none" stroke-linejoin="round" stroke-linecap="round" />
<polyline points="206.70,34.81 206.92,40.10 207.23,47.37 207.60,56.13 208.01,65.89 208.45,76.13 208.88,86.38 209.30,96.13 209.67,104.89 209.98,112.16 210.20,117.45" stroke="#20a020" stroke-width="1.15" fill="none" stroke-linejoin="round" stroke-linecap="round" />
<polyline points="204.40,116.94 204.46,111.68 204.54,104.45 204.63,95.75 204.74,86.06 204.85,75.88 204.96,65.69 205.07,56.00 205.17,47.30 205.25,40.07 205.30,34.81" stroke="#2030b0" stroke-width="1.15" fill="none" stroke-linejoin="round" stroke-linecap="round" />
<polyline points="205.30,34.81 205.42,40.10 205.59,47.37 205.79,56.13 206.01,65.89 206.24,76.13 206.48,86.38 206.70,96.13 206.90,104.89 207.06,112.16 207.18,117.45" stroke="#2030b0" stroke-width="1.15" fill="none" stroke-linejoin="round" stroke-linecap="round" />
<rect x="386.30" y="25.30" width="137.90" height="102.70" stroke="#222" stroke-width="1" fill="none"/>
<line x1="384.50" y1="128.00" x2="386.30" y2="128.00" stroke="#222" stroke-width="0.8"/>
<text x="383.50" y="129.72" font-size="5.2" fill="#000" style="font-family:'Liberation Serif',serif;font-weight:bold" text-anchor="end">0.0</text>
<line x1="384.50" y1="107.46" x2="386.30" y2="107.46" stroke="#222" stroke-width="0.8"/>
<text x="383.50" y="109.18" font-size="5.2" fill="#000" style="font-family:'Liberation Serif',serif;font-weight:bold" text-anchor="end">0.4</text>
<line x1="384.50" y1="86.92" x2="386.30" y2="86.92" stroke="#222" stroke-width="0.8"/>
<text x="383.50" y="88.64" font-size="5.2" fill="#000" style="font-family:'Liberation Serif',serif;font-weight:bold" text-anchor="end">0.8</text>
<line x1="384.50" y1="66.38" x2="386.30" y2="66.38" stroke="#222" stroke-width="0.8"/>
<text x="383.50" y="68.10" font-size="5.2" fill="#000" style="font-family:'Liberation Serif',serif;font-weight:bold" text-anchor="end">1.2</text>
<line x1="384.50" y1="45.84" x2="386.30" y2="45.84" stroke="#222" stroke-width="0.8"/>
<text x="383.50" y="47.56" font-size="5.2" fill="#000" style="font-family:'Liberation Serif',serif;font-weight:bold" text-anchor="end">1.6</text>
<line x1="384.50" y1="25.30" x2="386.30" y2="25.30" stroke="#222" stroke-width="0.8"/>
<text x="383.50" y="27.02" font-size="5.2" fill="#000" style="font-family:'Liberation Serif',serif;font-weight:bold" text-anchor="end">2.0</text>
<line x1="385.30" y1="117.73" x2="386.30" y2="117.73" stroke="#222" stroke-width="0.6"/>
<line x1="385.30" y1="97.19" x2="386.30" y2="97.19" stroke="#222" stroke-width="0.6"/>
<line x1="385.30" y1="76.65" x2="386.30" y2="76.65" stroke="#222" stroke-width="0.6"/>
<line x1="385.30" y1="56.11" x2="386.30" y2="56.11" stroke="#222" stroke-width="0.6"/>
<line x1="385.30" y1="35.57" x2="386.30" y2="35.57" stroke="#222" stroke-width="0.6"/>
<line x1="386.30" y1="128.00" x2="386.30" y2="129.80" stroke="#222" stroke-width="0.8"/>
<text x="386.30" y="133.82" font-size="5.2" fill="#000" style="font-family:'Liberation Serif',serif;font-weight:bold" text-anchor="middle">0</text>
<line x1="428.70" y1="128.00" x2="428.70" y2="129.80" stroke="#222" stroke-width="0.8"/>
<text x="428.70" y="133.82" font-size="5.2" fill="#000" style="font-family:'Liberation Serif',serif;font-weight:bold" text-anchor="middle">2000</text>
<line x1="471.10" y1="128.00" x2="471.10" y2="129.80" stroke="#222" stroke-width="0.8"/>
<text x="471.10" y="133.82" font-size="5.2" fill="#000" style="font-family:'Liberation Serif',serif;font-weight:bold" text-anchor="middle">4000</text>
<line x1="513.49" y1="128.00" x2="513.49" y2="129.80" stroke="#222" stroke-width="0.8"/>
<text x="513.49" y="133.82" font-size="5.2" fill="#000" style="font-family:'Liberation Serif',serif;font-weight:bold" text-anchor="middle">6000</text>
<line x1="407.50" y1="128.00" x2="407.50" y2="129.00" stroke="#222" stroke-width="0.6"/>
<line x1="449.90" y1="128.00" x2="449.90" y2="129.00" stroke="#222" stroke-width="0.6"/>
<line x1="492.30" y1="128.00" x2="492.30" y2="129.00" stroke="#222" stroke-width="0.6"/>
<text x="435.00" y="143.31" font-size="7.6" fill="#000" style="font-family:'Liberation Serif',serif;font-weight:bold" textLength="48.00" lengthAdjust="spacingAndGlyphs">Time (second)</text>
<text transform="translate(374.01,76.05) rotate(-90)" x="0" y="0" font-size="7.6" fill="#000" style="font-family:'Liberation Serif',serif;font-weight:bold" text-anchor="middle" textLength="42.70" lengthAdjust="spacingAndGlyphs">Voltage (V)</text>
<text x="356.50" y="33.00" font-size="16" fill="#000" style="font-family:'Liberation Serif',serif;font-weight:bold" textLength="16.60" lengthAdjust="spacingAndGlyphs">(c)</text>
<text x="387.00" y="33.24" font-size="8.3" fill="#000" style="font-family:'Liberation Serif',serif;font-weight:bold" textLength="24.00" lengthAdjust="spacingAndGlyphs">Zn|AC</text>
<line x1="483.70" y1="32.60" x2="494.90" y2="32.60" stroke="#111" stroke-width="0.9"/>
<text x="496.80" y="34.98" font-size="7.2" fill="#000" style="font-family:'Liberation Serif',serif;font-weight:bold" textLength="23.20" lengthAdjust="spacingAndGlyphs">0.1 A/g</text>
<line x1="483.70" y1="42.70" x2="494.90" y2="42.70" stroke="#f02020" stroke-width="0.9"/>
<text x="496.80" y="45.08" font-size="7.2" fill="#000" style="font-family:'Liberation Serif',serif;font-weight:bold" textLength="23.20" lengthAdjust="spacingAndGlyphs">0.2 A/g</text>
<line x1="483.70" y1="52.90" x2="494.90" y2="52.90" stroke="#2030f0" stroke-width="0.9"/>
<text x="496.80" y="55.28" font-size="7.2" fill="#000" style="font-family:'Liberation Serif',serif;font-weight:bold" textLength="23.20" lengthAdjust="spacingAndGlyphs">0.4 A/g</text>
<line x1="483.70" y1="63.00" x2="494.90" y2="63.00" stroke="#f020f0" stroke-width="0.9"/>
<text x="496.80" y="65.38" font-size="7.2" fill="#000" style="font-family:'Liberation Serif',serif;font-weight:bold" textLength="18.33" lengthAdjust="spacingAndGlyphs">1 A/g</text>
<line x1="483.70" y1="72.80" x2="494.90" y2="72.80" stroke="#20a020" stroke-width="0.9"/>
<text x="496.80" y="75.18" font-size="7.2" fill="#000" style="font-family:'Liberation Serif',serif;font-weight:bold" textLength="18.33" lengthAdjust="spacingAndGlyphs">2 A/g</text>
<line x1="483.70" y1="82.50" x2="494.90" y2="82.50" stroke="#2030b0" stroke-width="0.9"/>
<text x="496.80" y="84.88" font-size="7.2" fill="#000" style="font-family:'Liberation Serif',serif;font-weight:bold" textLength="18.33" lengthAdjust="spacingAndGlyphs">4 A/g</text>
<polyline points="386.30,116.70 386.30,116.37 386.29,115.96 386.27,115.46 386.26,114.91 386.24,114.31 386.25,113.68 386.26,113.02 386.31,112.36 386.38,111.70 386.49,111.05 386.64,110.42 386.81,109.77 387.02,109.11 387.24,108.44 387.49,107.75 387.75,107.05 388.03,106.34 388.31,105.61 388.61,104.87 388.90,104.12 389.18,103.37 389.44,102.64 389.68,101.90 389.94,101.15 390.21,100.38 390.52,99.59 390.87,98.75 391.30,97.87 391.80,96.92 392.39,95.91 393.08,94.82 393.86,93.67 394.71,92.47 395.62,91.22 396.58,89.93 397.59,88.60 398.62,87.25 399.68,85.87 400.74,84.47 401.80,83.07 402.88,81.64 403.99,80.18 405.14,78.69 406.32,77.18 407.51,75.64 408.71,74.08 409.92,72.51 411.12,70.94 412.32,69.35 413.50,67.77 414.70,66.11 415.95,64.34 417.23,62.50 418.51,60.64 419.78,58.80 421.02,57.01 422.20,55.34 423.30,53.81 424.31,52.48 425.19,51.39 425.91,50.57 426.47,49.99 426.89,49.62 427.23,49.40 427.53,49.29 427.83,49.23 428.18,49.17 428.61,49.07 429.16,48.89 429.89,48.56 430.77,48.14 431.76,47.69 432.84,47.22 433.99,46.72 435.21,46.20 436.47,45.65 437.76,45.07 439.07,44.46 440.39,43.83 441.69,43.17 443.06,42.43 444.57,41.59 446.17,40.68 447.80,39.73 449.43,38.78 450.99,37.85 452.45,36.98 453.75,36.20 454.85,35.55 455.69,35.06" stroke="#111" stroke-width="1.15" fill="none" stroke-linejoin="round" stroke-linecap="round" />
<polyline points="455.69,35.06 455.84,35.89 456.02,36.96 456.23,38.23 456.47,39.66 456.73,41.19 457.01,42.80 457.30,44.43 457.60,46.05 457.90,47.61 458.21,49.08 458.51,50.49 458.82,51.93 459.14,53.37 459.47,54.83 459.82,56.27 460.17,57.70 460.53,59.10 460.91,60.46 461.29,61.78 461.70,63.04 462.11,64.24 462.52,65.38 462.94,66.48 463.37,67.54 463.82,68.57 464.28,69.58 464.77,70.59 465.28,71.60 465.82,72.63 466.39,73.67 466.99,74.73 467.62,75.77 468.28,76.81 468.95,77.85 469.66,78.90 470.38,79.94 471.13,81.00 471.90,82.07 472.69,83.15 473.50,84.25 474.33,85.38 475.18,86.53 476.05,87.70 476.94,88.89 477.86,90.08 478.80,91.27 479.76,92.46 480.75,93.63 481.76,94.78 482.80,95.91 483.85,97.00 484.87,98.06 485.91,99.11 486.96,100.14 488.04,101.16 489.18,102.18 490.39,103.22 491.69,104.26 493.09,105.33 494.60,106.43 496.35,107.62 498.38,108.90 500.60,110.25 502.93,111.63 505.28,113.00 507.58,114.31 509.73,115.53 511.65,116.62 513.27,117.53 514.48,118.24" stroke="#111" stroke-width="1.15" fill="none" stroke-linejoin="round" stroke-linecap="round" />
<polyline points="386.30,116.70 386.36,116.21 386.40,115.63 386.44,114.98 386.49,114.24 386.56,113.40 386.67,112.45 386.82,111.39 387.04,110.21 387.32,108.90 387.70,107.46 388.17,105.83 388.74,104.01 389.38,102.01 390.09,99.89 390.84,97.67 391.62,95.39 392.41,93.09 393.20,90.81 393.97,88.56 394.70,86.41 395.40,84.34 396.09,82.34 396.79,80.38 397.48,78.43 398.17,76.46 398.88,74.44 399.59,72.35 400.31,70.16 401.05,67.83 401.80,65.35 402.62,62.56 403.50,59.40 404.44,55.99 405.40,52.45 406.35,48.89 407.26,45.44 408.11,42.21 408.87,39.32 409.51,36.90 410.01,35.06" stroke="#f02020" stroke-width="1.15" fill="none" stroke-linejoin="round" stroke-linecap="round" />
<polyline points="410.01,35.06 410.20,36.13 410.43,37.45 410.69,39.00 410.98,40.74 411.32,42.65 411.68,44.70 412.08,46.86 412.52,49.11 412.99,51.42 413.50,53.75 414.05,56.20 414.67,58.87 415.34,61.69 416.04,64.63 416.77,67.62 417.52,70.62 418.28,73.59 419.03,76.47 419.78,79.22 420.50,81.78 421.21,84.20 421.93,86.53 422.66,88.79 423.40,90.98 424.13,93.10 424.85,95.16 425.57,97.16 426.26,99.10 426.95,100.99 427.60,102.84 428.26,104.68 428.94,106.53 429.62,108.36 430.29,110.15 430.95,111.86 431.56,113.46 432.13,114.93 432.63,116.24 433.06,117.35 433.40,118.24" stroke="#f02020" stroke-width="1.15" fill="none" stroke-linejoin="round" stroke-linecap="round" />
<polyline points="386.30,116.70 386.51,115.00 386.76,112.92 387.05,110.50 387.37,107.78 387.74,104.76 388.13,101.50 388.56,98.00 389.02,94.30 389.50,90.43 390.00,86.41 390.57,81.89 391.24,76.66 391.98,70.93 392.75,64.92 393.53,58.84 394.30,52.91 395.01,47.35 395.66,42.38 396.19,38.21 396.60,35.06" stroke="#2030f0" stroke-width="1.15" fill="none" stroke-linejoin="round" stroke-linecap="round" />
<polyline points="396.60,35.06 396.83,37.25 397.11,40.02 397.44,43.29 397.82,46.96 398.23,50.94 398.67,55.16 399.13,59.51 399.61,63.92 400.10,68.29 400.60,72.54 401.14,76.99 401.75,81.89 402.41,87.09 403.10,92.42 403.80,97.74 404.47,102.86 405.10,107.63 405.66,111.90 406.14,115.49 406.50,118.24" stroke="#2030f0" stroke-width="1.15" fill="none" stroke-linejoin="round" stroke-linecap="round" />
<polyline points="386.30,116.70 386.54,111.48 386.86,104.29 387.25,95.64 387.69,86.00 388.15,75.88 388.61,65.76 389.05,56.12 389.44,47.47 389.76,40.28 390.00,35.06" stroke="#f020f0" stroke-width="1.15" fill="none" stroke-linejoin="round" stroke-linecap="round" />
<polyline points="390.00,35.06 390.23,40.38 390.55,47.70 390.93,56.52 391.35,66.33 391.80,76.65 392.24,86.97 392.67,96.78 393.05,105.60 393.37,112.92 393.60,118.24" stroke="#f020f0" stroke-width="1.15" fill="none" stroke-linejoin="round" stroke-linecap="round" />
<polyline points="386.30,116.70 386.42,111.48 386.59,104.29 386.79,95.64 387.02,86.00 387.25,75.88 387.49,65.76 387.71,56.12 387.91,47.47 388.08,40.28 388.20,35.06" stroke="#20a020" stroke-width="1.15" fill="none" stroke-linejoin="round" stroke-linecap="round" />
<polyline points="388.20,35.06 388.32,40.38 388.48,47.70 388.67,56.52 388.88,66.33 389.10,76.65 389.32,86.97 389.54,96.78 389.73,105.60 389.89,112.92 390.00,118.24" stroke="#20a020" stroke-width="1.15" fill="none" stroke-linejoin="round" stroke-linecap="round" />
<polyline points="386.30,116.70 386.31,111.48 386.33,104.29 386.35,95.64 386.37,86.00 386.40,75.88 386.42,65.76 386.44,56.12 386.46,47.47 386.48,40.28 386.49,35.06" stroke="#2030b0" stroke-width="1.15" fill="none" stroke-linejoin="round" stroke-linecap="round" />
<polyline points="386.49,35.06 386.57,40.38 386.67,47.70 386.80,56.52 386.94,66.33 387.09,76.65 387.24,86.97 387.38,96.78 387.51,105.60 387.62,112.92 387.70,118.24" stroke="#2030b0" stroke-width="1.15" fill="none" stroke-linejoin="round" stroke-linecap="round" />
<rect x="30.90" y="146.40" width="147.40" height="103.60" stroke="#222" stroke-width="1" fill="none"/>
<text x="6.10" y="152.80" font-size="16" fill="#000" style="font-family:'Liberation Serif',serif;font-weight:bold" textLength="19.20" lengthAdjust="spacingAndGlyphs">(d)</text>
<line x1="29.10" y1="159.20" x2="30.90" y2="159.20" stroke="#222" stroke-width="0.8"/>
<text x="29.00" y="160.92" font-size="5.2" fill="#000" style="font-family:'Liberation Serif',serif;font-weight:bold" text-anchor="end">0.04</text>
<line x1="29.10" y1="176.60" x2="30.90" y2="176.60" stroke="#222" stroke-width="0.8"/>
<text x="29.00" y="178.32" font-size="5.2" fill="#000" style="font-family:'Liberation Serif',serif;font-weight:bold" text-anchor="end">0.02</text>
<line x1="29.10" y1="194.00" x2="30.90" y2="194.00" stroke="#222" stroke-width="0.8"/>
<text x="29.00" y="195.72" font-size="5.2" fill="#000" style="font-family:'Liberation Serif',serif;font-weight:bold" text-anchor="end">0.00</text>
<line x1="29.10" y1="211.40" x2="30.90" y2="211.40" stroke="#222" stroke-width="0.8"/>
<text x="29.00" y="213.12" font-size="5.2" fill="#000" style="font-family:'Liberation Serif',serif;font-weight:bold" text-anchor="end">-0.02</text>
<line x1="29.10" y1="228.80" x2="30.90" y2="228.80" stroke="#222" stroke-width="0.8"/>
<text x="29.00" y="230.52" font-size="5.2" fill="#000" style="font-family:'Liberation Serif',serif;font-weight:bold" text-anchor="end">-0.04</text>
<line x1="29.10" y1="246.20" x2="30.90" y2="246.20" stroke="#222" stroke-width="0.8"/>
<text x="29.00" y="247.92" font-size="5.2" fill="#000" style="font-family:'Liberation Serif',serif;font-weight:bold" text-anchor="end">-0.06</text>
<line x1="31.80" y1="250.00" x2="31.80" y2="251.80" stroke="#222" stroke-width="0.8"/>
<line x1="46.28" y1="250.00" x2="46.28" y2="251.80" stroke="#222" stroke-width="0.8"/>
<line x1="60.76" y1="250.00" x2="60.76" y2="251.80" stroke="#222" stroke-width="0.8"/>
<line x1="75.24" y1="250.00" x2="75.24" y2="251.80" stroke="#222" stroke-width="0.8"/>
<line x1="89.72" y1="250.00" x2="89.72" y2="251.80" stroke="#222" stroke-width="0.8"/>
<line x1="104.20" y1="250.00" x2="104.20" y2="251.80" stroke="#222" stroke-width="0.8"/>
<line x1="118.68" y1="250.00" x2="118.68" y2="251.80" stroke="#222" stroke-width="0.8"/>
<line x1="133.16" y1="250.00" x2="133.16" y2="251.80" stroke="#222" stroke-width="0.8"/>
<line x1="147.64" y1="250.00" x2="147.64" y2="251.80" stroke="#222" stroke-width="0.8"/>
<line x1="162.12" y1="250.00" x2="162.12" y2="251.80" stroke="#222" stroke-width="0.8"/>
<text x="31.80" y="257.72" font-size="5.2" fill="#000" style="font-family:'Liberation Serif',serif;font-weight:bold" text-anchor="middle">0.0</text>
<text x="46.28" y="257.72" font-size="5.2" fill="#000" style="font-family:'Liberation Serif',serif;font-weight:bold" text-anchor="middle">0.2</text>
<text x="60.76" y="257.72" font-size="5.2" fill="#000" style="font-family:'Liberation Serif',serif;font-weight:bold" text-anchor="middle">0.4</text>
<text x="75.24" y="257.72" font-size="5.2" fill="#000" style="font-family:'Liberation Serif',serif;font-weight:bold" text-anchor="middle">0.6</text>
<text x="89.72" y="257.72" font-size="5.2" fill="#000" style="font-family:'Liberation Serif',serif;font-weight:bold" text-anchor="middle">0.8</text>
<text x="104.20" y="257.72" font-size="5.2" fill="#000" style="font-family:'Liberation Serif',serif;font-weight:bold" text-anchor="middle">1.0</text>
<text x="118.68" y="257.72" font-size="5.2" fill="#000" style="font-family:'Liberation Serif',serif;font-weight:bold" text-anchor="middle">1.2</text>
<text x="133.16" y="257.72" font-size="5.2" fill="#000" style="font-family:'Liberation Serif',serif;font-weight:bold" text-anchor="middle">1.4</text>
<text x="147.64" y="257.72" font-size="5.2" fill="#000" style="font-family:'Liberation Serif',serif;font-weight:bold" text-anchor="middle">1.6</text>
<text x="162.12" y="257.72" font-size="5.2" fill="#000" style="font-family:'Liberation Serif',serif;font-weight:bold" text-anchor="middle">1.8</text>
<text x="176.60" y="257.72" font-size="5.2" fill="#000" style="font-family:'Liberation Serif',serif;font-weight:bold" text-anchor="middle">2.0</text>
<text x="85.80" y="266.41" font-size="8.5" fill="#000" style="font-family:'Liberation Serif',serif;font-weight:bold" textLength="47.10" lengthAdjust="spacingAndGlyphs">Potential (V)</text>
<text transform="translate(17.77,193.50) rotate(-90)" x="0" y="0" font-size="7.8" fill="#000" style="font-family:'Liberation Serif',serif;font-weight:bold" text-anchor="middle" textLength="39.40" lengthAdjust="spacingAndGlyphs">Current (A)</text>
<polyline points="46.50,216.50 46.73,215.79 47.03,214.86 47.38,213.75 47.77,212.51 48.21,211.19 48.68,209.85 49.18,208.54 49.70,207.30 50.25,206.09 50.83,204.85 51.45,203.58 52.10,202.31 52.77,201.06 53.47,199.85 54.18,198.69 54.90,197.60 55.60,196.59 56.27,195.65 56.93,194.76 57.62,193.90 58.38,193.07 59.22,192.25 60.19,191.43 61.30,190.60 62.56,189.75 63.93,188.91 65.41,188.06 66.98,187.23 68.65,186.41 70.39,185.61 72.21,184.84 74.10,184.10 76.02,183.39 77.98,182.70 80.00,182.04 82.10,181.40 84.32,180.78 86.70,180.17 89.24,179.58 92.00,179.00 95.07,178.41 98.48,177.80 102.12,177.20 105.88,176.61 109.66,176.07 113.34,175.59 116.82,175.20 120.00,174.90 122.84,174.73 125.44,174.68 127.85,174.73 130.17,174.82 132.45,174.95 134.77,175.08 137.19,175.17 139.80,175.20 142.74,175.17 146.01,175.12 149.44,175.05 152.89,174.97 156.18,174.89 159.15,174.81 161.64,174.74 163.50,174.70" stroke="#20a030" stroke-width="1.0" fill="none" stroke-linejoin="round" stroke-linecap="round" />
<polyline points="163.50,174.70 163.36,175.33 163.19,176.18 162.98,177.20 162.75,178.32 162.48,179.49 162.19,180.67 161.86,181.79 161.50,182.80 161.11,183.73 160.69,184.63 160.23,185.51 159.74,186.38 159.23,187.23 158.68,188.07 158.10,188.89 157.50,189.70 156.89,190.49 156.30,191.27 155.69,192.02 155.04,192.76 154.33,193.50 153.53,194.23 152.63,194.96 151.60,195.70 150.46,196.46 149.25,197.23 147.96,198.01 146.57,198.78 145.07,199.54 143.45,200.27 141.70,200.96 139.80,201.60 137.76,202.17 135.60,202.68 133.32,203.13 130.91,203.57 128.38,204.00 125.71,204.45 122.92,204.94 120.00,205.50 117.01,206.12 113.99,206.79 110.87,207.48 107.61,208.21 104.14,208.94 100.42,209.67 96.39,210.40 92.00,211.10 86.84,211.82 80.79,212.59 74.22,213.38 67.50,214.15 61.00,214.88 55.09,215.53 50.13,216.08 46.50,216.50" stroke="#20a030" stroke-width="1.0" fill="none" stroke-linejoin="round" stroke-linecap="round" />
<polyline points="46.50,208.60 46.52,208.10 46.53,207.43 46.54,206.63 46.56,205.75 46.61,204.82 46.70,203.87 46.86,202.95 47.10,202.10 47.39,201.30 47.69,200.49 48.04,199.69 48.44,198.89 48.92,198.10 49.50,197.30 50.18,196.50 51.00,195.70 51.84,194.89 52.65,194.06 53.50,193.22 54.47,192.38 55.66,191.56 57.14,190.77 58.99,190.01 61.30,189.30 64.18,188.63 67.60,187.98 71.44,187.36 75.54,186.78 79.79,186.22 84.04,185.70 88.15,185.23 92.00,184.80 95.52,184.42 98.83,184.10 102.02,183.81 105.20,183.57 108.48,183.35 111.97,183.16 115.78,182.98 120.00,182.80 124.99,182.64 130.80,182.50 137.09,182.38 143.50,182.28 149.69,182.19 155.32,182.12 160.04,182.05 163.50,182.00" stroke="#f020f0" stroke-width="1.0" fill="none" stroke-linejoin="round" stroke-linecap="round" />
<polyline points="163.50,182.00 163.53,182.36 163.59,182.84 163.68,183.40 163.75,184.03 163.79,184.71 163.78,185.41 163.69,186.11 163.50,186.80 163.23,187.49 162.92,188.22 162.55,188.98 162.12,189.74 161.61,190.51 161.01,191.27 160.31,192.00 159.50,192.70 158.68,193.37 157.90,194.04 157.09,194.69 156.15,195.33 155.01,195.95 153.60,196.53 151.82,197.09 149.60,197.60 146.83,198.06 143.55,198.46 139.87,198.83 135.93,199.17 131.85,199.50 127.75,199.84 123.76,200.20 120.00,200.60 116.54,201.03 113.30,201.48 110.15,201.95 106.99,202.43 103.71,202.91 100.19,203.40 96.33,203.90 92.00,204.40 86.84,204.93 80.79,205.52 74.22,206.13 67.50,206.74 61.00,207.32 55.09,207.84 50.13,208.27 46.50,208.60" stroke="#f020f0" stroke-width="1.0" fill="none" stroke-linejoin="round" stroke-linecap="round" />
<polyline points="46.50,201.50 46.53,201.19 46.56,200.77 46.59,200.26 46.64,199.71 46.70,199.13 46.80,198.57 46.93,198.05 47.10,197.60 47.29,197.23 47.46,196.92 47.65,196.65 47.88,196.39 48.17,196.12 48.55,195.83 49.06,195.50 49.70,195.10 50.35,194.61 50.93,194.03 51.54,193.39 52.28,192.74 53.26,192.10 54.59,191.50 56.37,190.99 58.70,190.60 61.74,190.33 65.44,190.17 69.64,190.08 74.16,190.04 78.83,190.02 83.48,190.01 87.93,189.98 92.00,189.90 95.65,189.78 99.01,189.65 102.21,189.50 105.36,189.36 108.60,189.21 112.03,189.06 115.79,188.93 120.00,188.80 124.99,188.68 130.80,188.56 137.09,188.44 143.50,188.33 149.69,188.23 155.32,188.14 160.04,188.06 163.50,188.00" stroke="#2030f0" stroke-width="1.0" fill="none" stroke-linejoin="round" stroke-linecap="round" />
<polyline points="163.50,188.00 163.53,188.25 163.59,188.59 163.68,189.00 163.75,189.44 163.79,189.91 163.78,190.37 163.69,190.81 163.50,191.20 163.43,191.54 163.61,191.85 163.85,192.14 163.97,192.43 163.78,192.72 163.09,193.02 161.73,193.34 159.50,193.70 156.18,194.10 151.85,194.54 146.78,195.00 141.25,195.47 135.53,195.95 129.90,196.40 124.63,196.82 120.00,197.20 116.07,197.53 112.60,197.82 109.43,198.09 106.38,198.33 103.28,198.57 99.96,198.80 96.26,199.04 92.00,199.30 86.84,199.59 80.79,199.89 74.22,200.21 67.50,200.53 61.00,200.83 55.09,201.10 50.13,201.33 46.50,201.50" stroke="#2030f0" stroke-width="1.0" fill="none" stroke-linejoin="round" stroke-linecap="round" />
<polyline points="46.50,197.60 46.52,197.46 46.53,197.27 46.54,197.05 46.56,196.80 46.61,196.53 46.70,196.25 46.86,195.97 47.10,195.70 47.18,195.42 46.97,195.10 46.69,194.78 46.53,194.45 46.68,194.13 47.34,193.82 48.71,193.54 51.00,193.30 54.44,193.10 58.95,192.92 64.23,192.77 69.99,192.64 75.95,192.52 81.79,192.41 87.24,192.30 92.00,192.20 96.02,192.10 99.55,192.02 102.77,191.96 105.84,191.89 108.94,191.83 112.21,191.77 115.85,191.69 120.00,191.60 124.99,191.49 130.80,191.35 137.09,191.21 143.50,191.06 149.69,190.92 155.32,190.79 160.04,190.68 163.50,190.60" stroke="#e02020" stroke-width="1.0" fill="none" stroke-linejoin="round" stroke-linecap="round" />
<polyline points="163.50,190.60 163.78,190.78 164.47,191.03 165.33,191.32 166.11,191.64 166.54,191.98 166.39,192.33 165.39,192.67 163.30,193.00 159.85,193.32 155.15,193.66 149.55,194.01 143.39,194.36 137.01,194.70 130.76,195.03 124.98,195.33 120.00,195.60 115.89,195.84 112.33,196.05 109.15,196.25 106.14,196.43 103.11,196.59 99.87,196.73 96.23,196.87 92.00,197.00 86.84,197.12 80.79,197.22 74.22,197.31 67.50,197.39 61.00,197.45 55.09,197.51 50.13,197.56 46.50,197.60" stroke="#e02020" stroke-width="1.0" fill="none" stroke-linejoin="round" stroke-linecap="round" />
<polyline points="46.80,196.60 46.86,196.44 46.88,196.21 46.88,195.94 46.93,195.65 47.07,195.35 47.35,195.06 47.81,194.81 48.50,194.60 49.14,194.44 49.55,194.32 49.96,194.21 50.61,194.12 51.70,194.05 53.49,193.97 56.17,193.89 60.00,193.80 65.29,193.70 71.98,193.60 79.67,193.49 88.00,193.39 96.58,193.29 105.02,193.19 112.96,193.09 120.00,193.00 126.52,192.91 133.05,192.82 139.43,192.73 145.50,192.65 151.10,192.57 156.07,192.50 160.26,192.44 163.50,192.40" stroke="#111" stroke-width="1.0" fill="none" stroke-linejoin="round" stroke-linecap="round" />
<polyline points="163.50,192.40 163.78,192.56 164.47,192.79 165.33,193.05 166.11,193.34 166.54,193.64 166.39,193.93 165.39,194.19 163.30,194.40 160.06,194.57 155.90,194.70 150.95,194.82 145.39,194.92 139.35,195.01 133.01,195.10 126.51,195.20 120.00,195.30 112.98,195.42 105.08,195.54 96.67,195.66 88.12,195.78 79.81,195.90 72.10,196.01 65.37,196.11 60.00,196.20 56.02,196.28 53.10,196.34 51.04,196.40 49.65,196.46 48.73,196.50 48.07,196.54 47.50,196.57 46.80,196.60" stroke="#111" stroke-width="1.0" fill="none" stroke-linejoin="round" stroke-linecap="round" />
<line x1="141.20" y1="212.50" x2="153.40" y2="212.50" stroke="#222" stroke-width="1.4"/>
<text x="156.30" y="214.28" font-size="5.4" fill="#000" style="font-family:'Liberation Serif',serif;font-weight:bold" textLength="14.20" lengthAdjust="spacingAndGlyphs">1 mV s</text>
<text x="170.80" y="212.02" font-size="3.4" fill="#000" style="font-family:'Liberation Serif',serif;font-weight:bold" text-anchor="start">-1</text>
<line x1="141.20" y1="219.90" x2="153.40" y2="219.90" stroke="#f03030" stroke-width="1.4"/>
<text x="156.30" y="221.68" font-size="5.4" fill="#000" style="font-family:'Liberation Serif',serif;font-weight:bold" textLength="14.20" lengthAdjust="spacingAndGlyphs">5 mV s</text>
<text x="170.80" y="219.42" font-size="3.4" fill="#000" style="font-family:'Liberation Serif',serif;font-weight:bold" text-anchor="start">-1</text>
<line x1="141.20" y1="227.30" x2="153.40" y2="227.30" stroke="#2030f0" stroke-width="1.4"/>
<text x="156.30" y="229.08" font-size="5.4" fill="#000" style="font-family:'Liberation Serif',serif;font-weight:bold" textLength="16.20" lengthAdjust="spacingAndGlyphs">10 mV s</text>
<text x="172.80" y="226.82" font-size="3.4" fill="#000" style="font-family:'Liberation Serif',serif;font-weight:bold" text-anchor="start">-1</text>
<line x1="141.20" y1="234.90" x2="153.40" y2="234.90" stroke="#f030f0" stroke-width="1.4"/>
<text x="156.30" y="236.68" font-size="5.4" fill="#000" style="font-family:'Liberation Serif',serif;font-weight:bold" textLength="16.20" lengthAdjust="spacingAndGlyphs">20 mV s</text>
<text x="172.80" y="234.42" font-size="3.4" fill="#000" style="font-family:'Liberation Serif',serif;font-weight:bold" text-anchor="start">-1</text>
<line x1="141.20" y1="242.40" x2="153.40" y2="242.40" stroke="#20a030" stroke-width="1.4"/>
<text x="156.30" y="244.18" font-size="5.4" fill="#000" style="font-family:'Liberation Serif',serif;font-weight:bold" textLength="16.20" lengthAdjust="spacingAndGlyphs">50 mV s</text>
<text x="172.80" y="241.92" font-size="3.4" fill="#000" style="font-family:'Liberation Serif',serif;font-weight:bold" text-anchor="start">-1</text>
<rect x="212.70" y="146.40" width="313.30" height="103.20" stroke="#222" stroke-width="1" fill="none"/>
<text x="179.80" y="156.00" font-size="16" fill="#000" style="font-family:'Liberation Serif',serif;font-weight:bold" textLength="16.70" lengthAdjust="spacingAndGlyphs">(e)</text>
<line x1="210.90" y1="241.50" x2="212.70" y2="241.50" stroke="#222" stroke-width="0.8"/>
<text x="210.00" y="243.22" font-size="5.2" fill="#000" style="font-family:'Liberation Serif',serif;font-weight:bold" text-anchor="end">0</text>
<line x1="210.90" y1="225.70" x2="212.70" y2="225.70" stroke="#222" stroke-width="0.8"/>
<text x="210.00" y="227.42" font-size="5.2" fill="#000" style="font-family:'Liberation Serif',serif;font-weight:bold" text-anchor="end">20</text>
<line x1="210.90" y1="209.90" x2="212.70" y2="209.90" stroke="#222" stroke-width="0.8"/>
<text x="210.00" y="211.62" font-size="5.2" fill="#000" style="font-family:'Liberation Serif',serif;font-weight:bold" text-anchor="end">40</text>
<line x1="210.90" y1="194.10" x2="212.70" y2="194.10" stroke="#222" stroke-width="0.8"/>
<text x="210.00" y="195.82" font-size="5.2" fill="#000" style="font-family:'Liberation Serif',serif;font-weight:bold" text-anchor="end">60</text>
<line x1="210.90" y1="178.30" x2="212.70" y2="178.30" stroke="#222" stroke-width="0.8"/>
<text x="210.00" y="180.02" font-size="5.2" fill="#000" style="font-family:'Liberation Serif',serif;font-weight:bold" text-anchor="end">80</text>
<line x1="210.90" y1="162.50" x2="212.70" y2="162.50" stroke="#222" stroke-width="0.8"/>
<text x="210.00" y="164.22" font-size="5.2" fill="#000" style="font-family:'Liberation Serif',serif;font-weight:bold" text-anchor="end">100</text>
<line x1="210.90" y1="146.70" x2="212.70" y2="146.70" stroke="#222" stroke-width="0.8"/>
<text x="210.00" y="148.42" font-size="5.2" fill="#000" style="font-family:'Liberation Serif',serif;font-weight:bold" text-anchor="end">120</text>
<line x1="526.00" y1="231.70" x2="527.80" y2="231.70" stroke="#222" stroke-width="0.8"/>
<text x="529.50" y="233.42" font-size="5.2" fill="#000" style="font-family:'Liberation Serif',serif;font-weight:bold" text-anchor="start">20</text>
<line x1="526.00" y1="212.50" x2="527.80" y2="212.50" stroke="#222" stroke-width="0.8"/>
<text x="529.50" y="214.22" font-size="5.2" fill="#000" style="font-family:'Liberation Serif',serif;font-weight:bold" text-anchor="start">40</text>
<line x1="526.00" y1="193.30" x2="527.80" y2="193.30" stroke="#222" stroke-width="0.8"/>
<text x="529.50" y="195.02" font-size="5.2" fill="#000" style="font-family:'Liberation Serif',serif;font-weight:bold" text-anchor="start">60</text>
<line x1="526.00" y1="174.10" x2="527.80" y2="174.10" stroke="#222" stroke-width="0.8"/>
<text x="529.50" y="175.82" font-size="5.2" fill="#000" style="font-family:'Liberation Serif',serif;font-weight:bold" text-anchor="start">80</text>
<line x1="526.00" y1="154.90" x2="527.80" y2="154.90" stroke="#222" stroke-width="0.8"/>
<text x="529.50" y="156.62" font-size="5.2" fill="#000" style="font-family:'Liberation Serif',serif;font-weight:bold" text-anchor="start">100</text>
<line x1="212.70" y1="249.60" x2="212.70" y2="251.40" stroke="#222" stroke-width="0.8"/>
<text x="212.70" y="255.92" font-size="5.2" fill="#000" style="font-family:'Liberation Serif',serif;font-weight:bold" text-anchor="middle">0</text>
<line x1="291.30" y1="249.60" x2="291.30" y2="251.40" stroke="#222" stroke-width="0.8"/>
<text x="291.30" y="255.92" font-size="5.2" fill="#000" style="font-family:'Liberation Serif',serif;font-weight:bold" text-anchor="middle">2000</text>
<line x1="369.90" y1="249.60" x2="369.90" y2="251.40" stroke="#222" stroke-width="0.8"/>
<text x="369.90" y="255.92" font-size="5.2" fill="#000" style="font-family:'Liberation Serif',serif;font-weight:bold" text-anchor="middle">4000</text>
<line x1="448.50" y1="249.60" x2="448.50" y2="251.40" stroke="#222" stroke-width="0.8"/>
<text x="448.50" y="255.92" font-size="5.2" fill="#000" style="font-family:'Liberation Serif',serif;font-weight:bold" text-anchor="middle">6000</text>
<line x1="252.00" y1="249.60" x2="252.00" y2="250.60" stroke="#222" stroke-width="0.6"/>
<line x1="330.60" y1="249.60" x2="330.60" y2="250.60" stroke="#222" stroke-width="0.6"/>
<line x1="409.20" y1="249.60" x2="409.20" y2="250.60" stroke="#222" stroke-width="0.6"/>
<line x1="487.80" y1="249.60" x2="487.80" y2="250.60" stroke="#222" stroke-width="0.6"/>
<text x="355.00" y="265.41" font-size="8.5" fill="#000" style="font-family:'Liberation Serif',serif;font-weight:bold" textLength="61.00" lengthAdjust="spacingAndGlyphs">Cycle number (n)</text>
<text transform="translate(201.81,203.10) rotate(-90)" x="0" y="0" font-size="7.6" fill="#000" style="font-family:'Liberation Serif',serif;font-weight:bold" text-anchor="middle" textLength="97.80" lengthAdjust="spacingAndGlyphs">Specific Capacity (mAh g<tspan baseline-shift="super" font-size="5">-1</tspan>)</text>
<text transform="translate(547.44,197.05) rotate(-90)" x="0" y="0" font-size="8.0" fill="#000" style="font-family:'Liberation Serif',serif;font-weight:bold" text-anchor="middle" textLength="81.50" lengthAdjust="spacingAndGlyphs">Coulombic effiency (%)</text>
<circle cx="263.6" cy="155.8" r="0.8" fill="none" stroke="#5a5a5a" stroke-width="0.4"/>
<circle cx="339.6" cy="154.6" r="0.8" fill="none" stroke="#5a5a5a" stroke-width="0.4"/>
<circle cx="477.2" cy="156.1" r="0.8" fill="none" stroke="#5a5a5a" stroke-width="0.4"/>
<circle cx="281.6" cy="154.8" r="0.8" fill="none" stroke="#5a5a5a" stroke-width="0.4"/>
<circle cx="338.1" cy="154.1" r="0.8" fill="none" stroke="#5a5a5a" stroke-width="0.4"/>
<circle cx="252.0" cy="155.4" r="0.8" fill="none" stroke="#5a5a5a" stroke-width="0.4"/>
<circle cx="290.6" cy="155.1" r="0.8" fill="none" stroke="#5a5a5a" stroke-width="0.4"/>
<circle cx="226.5" cy="152.4" r="0.8" fill="none" stroke="#5a5a5a" stroke-width="0.4"/>
<circle cx="388.8" cy="155.6" r="0.8" fill="none" stroke="#5a5a5a" stroke-width="0.4"/>
<circle cx="474.6" cy="155.2" r="0.8" fill="none" stroke="#5a5a5a" stroke-width="0.4"/>
<circle cx="250.3" cy="154.1" r="0.8" fill="none" stroke="#5a5a5a" stroke-width="0.4"/>
<circle cx="408.9" cy="154.5" r="0.8" fill="none" stroke="#5a5a5a" stroke-width="0.4"/>
<circle cx="309.0" cy="153.9" r="0.8" fill="none" stroke="#5a5a5a" stroke-width="0.4"/>
<circle cx="346.2" cy="156.6" r="0.8" fill="none" stroke="#5a5a5a" stroke-width="0.4"/>
<circle cx="418.8" cy="154.1" r="0.8" fill="none" stroke="#5a5a5a" stroke-width="0.4"/>
<circle cx="221.0" cy="156.1" r="0.8" fill="none" stroke="#5a5a5a" stroke-width="0.4"/>
<circle cx="406.4" cy="154.5" r="0.8" fill="none" stroke="#5a5a5a" stroke-width="0.4"/>
<circle cx="451.4" cy="155.7" r="0.8" fill="none" stroke="#5a5a5a" stroke-width="0.4"/>
<circle cx="456.5" cy="154.7" r="0.8" fill="none" stroke="#5a5a5a" stroke-width="0.4"/>
<circle cx="361.0" cy="155.8" r="0.8" fill="none" stroke="#5a5a5a" stroke-width="0.4"/>
<circle cx="247.0" cy="156.7" r="0.8" fill="none" stroke="#5a5a5a" stroke-width="0.4"/>
<circle cx="242.3" cy="156.7" r="0.8" fill="none" stroke="#5a5a5a" stroke-width="0.4"/>
<circle cx="351.3" cy="155.2" r="0.8" fill="none" stroke="#5a5a5a" stroke-width="0.4"/>
<circle cx="411.8" cy="155.6" r="0.8" fill="none" stroke="#5a5a5a" stroke-width="0.4"/>
<circle cx="239.3" cy="155.3" r="0.8" fill="none" stroke="#5a5a5a" stroke-width="0.4"/>
<circle cx="372.9" cy="153.0" r="0.8" fill="none" stroke="#5a5a5a" stroke-width="0.4"/>
<circle cx="230.6" cy="154.1" r="0.8" fill="none" stroke="#5a5a5a" stroke-width="0.4"/>
<circle cx="509.7" cy="155.6" r="0.8" fill="none" stroke="#5a5a5a" stroke-width="0.4"/>
<circle cx="256.1" cy="158.7" r="0.8" fill="none" stroke="#5a5a5a" stroke-width="0.4"/>
<circle cx="441.6" cy="151.7" r="0.8" fill="none" stroke="#5a5a5a" stroke-width="0.4"/>
<circle cx="467.4" cy="157.1" r="0.8" fill="none" stroke="#5a5a5a" stroke-width="0.4"/>
<circle cx="366.8" cy="159.6" r="0.8" fill="none" stroke="#5a5a5a" stroke-width="0.4"/>
<circle cx="511.5" cy="156.4" r="0.8" fill="none" stroke="#5a5a5a" stroke-width="0.4"/>
<circle cx="459.1" cy="155.1" r="0.8" fill="none" stroke="#5a5a5a" stroke-width="0.4"/>
<circle cx="503.4" cy="156.9" r="0.8" fill="none" stroke="#5a5a5a" stroke-width="0.4"/>
<circle cx="449.1" cy="156.2" r="0.8" fill="none" stroke="#5a5a5a" stroke-width="0.4"/>
<circle cx="263.1" cy="156.6" r="0.8" fill="none" stroke="#5a5a5a" stroke-width="0.4"/>
<circle cx="467.6" cy="154.9" r="0.8" fill="none" stroke="#5a5a5a" stroke-width="0.4"/>
<circle cx="258.4" cy="152.2" r="0.8" fill="none" stroke="#5a5a5a" stroke-width="0.4"/>
<circle cx="278.6" cy="155.6" r="0.8" fill="none" stroke="#5a5a5a" stroke-width="0.4"/>
<circle cx="295.5" cy="154.3" r="0.8" fill="none" stroke="#5a5a5a" stroke-width="0.4"/>
<circle cx="225.2" cy="155.6" r="0.8" fill="none" stroke="#5a5a5a" stroke-width="0.4"/>
<circle cx="270.4" cy="157.5" r="0.8" fill="none" stroke="#5a5a5a" stroke-width="0.4"/>
<circle cx="425.3" cy="158.6" r="0.8" fill="none" stroke="#5a5a5a" stroke-width="0.4"/>
<circle cx="492.4" cy="156.9" r="0.8" fill="none" stroke="#5a5a5a" stroke-width="0.4"/>
<circle cx="249.5" cy="157.9" r="0.8" fill="none" stroke="#5a5a5a" stroke-width="0.4"/>
<circle cx="378.9" cy="154.7" r="0.8" fill="none" stroke="#5a5a5a" stroke-width="0.4"/>
<circle cx="485.4" cy="154.5" r="0.8" fill="none" stroke="#5a5a5a" stroke-width="0.4"/>
<circle cx="386.5" cy="152.9" r="0.8" fill="none" stroke="#5a5a5a" stroke-width="0.4"/>
<circle cx="246.3" cy="154.1" r="0.8" fill="none" stroke="#5a5a5a" stroke-width="0.4"/>
<circle cx="522.8" cy="154.6" r="0.8" fill="none" stroke="#5a5a5a" stroke-width="0.4"/>
<circle cx="462.0" cy="154.5" r="0.8" fill="none" stroke="#5a5a5a" stroke-width="0.4"/>
<circle cx="296.1" cy="157.6" r="0.8" fill="none" stroke="#5a5a5a" stroke-width="0.4"/>
<circle cx="325.8" cy="155.5" r="0.8" fill="none" stroke="#5a5a5a" stroke-width="0.4"/>
<circle cx="451.7" cy="154.7" r="0.8" fill="none" stroke="#5a5a5a" stroke-width="0.4"/>
<circle cx="445.2" cy="155.9" r="0.8" fill="none" stroke="#5a5a5a" stroke-width="0.4"/>
<circle cx="228.7" cy="156.1" r="0.8" fill="none" stroke="#5a5a5a" stroke-width="0.4"/>
<circle cx="412.7" cy="154.6" r="0.8" fill="none" stroke="#5a5a5a" stroke-width="0.4"/>
<circle cx="520.0" cy="153.7" r="0.8" fill="none" stroke="#5a5a5a" stroke-width="0.4"/>
<circle cx="311.0" cy="154.5" r="0.8" fill="none" stroke="#5a5a5a" stroke-width="0.4"/>
<circle cx="214.3" cy="156.4" r="0.8" fill="none" stroke="#5a5a5a" stroke-width="0.4"/>
<circle cx="405.5" cy="155.8" r="0.8" fill="none" stroke="#5a5a5a" stroke-width="0.4"/>
<circle cx="348.3" cy="152.4" r="0.8" fill="none" stroke="#5a5a5a" stroke-width="0.4"/>
<circle cx="254.8" cy="155.3" r="0.8" fill="none" stroke="#5a5a5a" stroke-width="0.4"/>
<circle cx="284.4" cy="155.4" r="0.8" fill="none" stroke="#5a5a5a" stroke-width="0.4"/>
<circle cx="214.5" cy="155.3" r="0.8" fill="none" stroke="#5a5a5a" stroke-width="0.4"/>
<circle cx="324.2" cy="156.7" r="0.8" fill="none" stroke="#5a5a5a" stroke-width="0.4"/>
<circle cx="283.5" cy="156.5" r="0.8" fill="none" stroke="#5a5a5a" stroke-width="0.4"/>
<circle cx="395.4" cy="154.7" r="0.8" fill="none" stroke="#5a5a5a" stroke-width="0.4"/>
<circle cx="407.9" cy="155.1" r="0.8" fill="none" stroke="#5a5a5a" stroke-width="0.4"/>
<circle cx="361.5" cy="157.9" r="0.8" fill="none" stroke="#5a5a5a" stroke-width="0.4"/>
<circle cx="289.5" cy="158.2" r="0.8" fill="none" stroke="#5a5a5a" stroke-width="0.4"/>
<circle cx="260.2" cy="157.4" r="0.8" fill="none" stroke="#5a5a5a" stroke-width="0.4"/>
<circle cx="484.9" cy="156.8" r="0.8" fill="none" stroke="#5a5a5a" stroke-width="0.4"/>
<circle cx="457.2" cy="154.6" r="0.8" fill="none" stroke="#5a5a5a" stroke-width="0.4"/>
<circle cx="217.3" cy="156.3" r="0.8" fill="none" stroke="#5a5a5a" stroke-width="0.4"/>
<circle cx="414.5" cy="154.3" r="0.8" fill="none" stroke="#5a5a5a" stroke-width="0.4"/>
<circle cx="414.7" cy="155.1" r="0.8" fill="none" stroke="#5a5a5a" stroke-width="0.4"/>
<circle cx="351.8" cy="157.9" r="0.8" fill="none" stroke="#5a5a5a" stroke-width="0.4"/>
<circle cx="291.1" cy="154.7" r="0.8" fill="none" stroke="#5a5a5a" stroke-width="0.4"/>
<circle cx="495.0" cy="157.4" r="0.8" fill="none" stroke="#5a5a5a" stroke-width="0.4"/>
<circle cx="340.1" cy="156.1" r="0.8" fill="none" stroke="#5a5a5a" stroke-width="0.4"/>
<circle cx="287.7" cy="158.0" r="0.8" fill="none" stroke="#5a5a5a" stroke-width="0.4"/>
<circle cx="217.5" cy="156.5" r="0.8" fill="none" stroke="#5a5a5a" stroke-width="0.4"/>
<circle cx="385.2" cy="156.4" r="0.8" fill="none" stroke="#5a5a5a" stroke-width="0.4"/>
<circle cx="275.8" cy="155.3" r="0.8" fill="none" stroke="#5a5a5a" stroke-width="0.4"/>
<circle cx="403.0" cy="153.5" r="0.8" fill="none" stroke="#5a5a5a" stroke-width="0.4"/>
<circle cx="466.9" cy="155.5" r="0.8" fill="none" stroke="#5a5a5a" stroke-width="0.4"/>
<circle cx="268.1" cy="155.1" r="0.8" fill="none" stroke="#5a5a5a" stroke-width="0.4"/>
<circle cx="228.8" cy="156.8" r="0.8" fill="none" stroke="#5a5a5a" stroke-width="0.4"/>
<circle cx="490.6" cy="156.1" r="0.8" fill="none" stroke="#5a5a5a" stroke-width="0.4"/>
<circle cx="215.7" cy="153.3" r="0.8" fill="none" stroke="#5a5a5a" stroke-width="0.4"/>
<circle cx="476.6" cy="155.5" r="0.8" fill="none" stroke="#5a5a5a" stroke-width="0.4"/>
<circle cx="444.6" cy="153.9" r="0.8" fill="none" stroke="#5a5a5a" stroke-width="0.4"/>
<circle cx="354.6" cy="155.7" r="0.8" fill="none" stroke="#5a5a5a" stroke-width="0.4"/>
<circle cx="286.0" cy="156.3" r="0.8" fill="none" stroke="#5a5a5a" stroke-width="0.4"/>
<circle cx="225.8" cy="154.3" r="0.8" fill="none" stroke="#5a5a5a" stroke-width="0.4"/>
<circle cx="430.1" cy="157.7" r="0.8" fill="none" stroke="#5a5a5a" stroke-width="0.4"/>
<circle cx="476.9" cy="155.3" r="0.8" fill="none" stroke="#5a5a5a" stroke-width="0.4"/>
<circle cx="386.1" cy="154.5" r="0.8" fill="none" stroke="#5a5a5a" stroke-width="0.4"/>
<circle cx="349.4" cy="156.0" r="0.8" fill="none" stroke="#5a5a5a" stroke-width="0.4"/>
<circle cx="296.3" cy="153.8" r="0.8" fill="none" stroke="#5a5a5a" stroke-width="0.4"/>
<circle cx="413.6" cy="156.6" r="0.8" fill="none" stroke="#5a5a5a" stroke-width="0.4"/>
<circle cx="487.7" cy="155.4" r="0.8" fill="none" stroke="#5a5a5a" stroke-width="0.4"/>
<circle cx="218.4" cy="155.5" r="0.8" fill="none" stroke="#5a5a5a" stroke-width="0.4"/>
<circle cx="445.3" cy="156.7" r="0.8" fill="none" stroke="#5a5a5a" stroke-width="0.4"/>
<circle cx="507.8" cy="155.6" r="0.8" fill="none" stroke="#5a5a5a" stroke-width="0.4"/>
<circle cx="487.7" cy="154.3" r="0.8" fill="none" stroke="#5a5a5a" stroke-width="0.4"/>
<circle cx="316.0" cy="155.8" r="0.8" fill="none" stroke="#5a5a5a" stroke-width="0.4"/>
<circle cx="410.0" cy="158.9" r="0.8" fill="none" stroke="#5a5a5a" stroke-width="0.4"/>
<circle cx="429.4" cy="153.5" r="0.8" fill="none" stroke="#5a5a5a" stroke-width="0.4"/>
<circle cx="359.9" cy="152.0" r="0.8" fill="none" stroke="#5a5a5a" stroke-width="0.4"/>
<circle cx="475.1" cy="154.6" r="0.8" fill="none" stroke="#5a5a5a" stroke-width="0.4"/>
<circle cx="349.8" cy="152.8" r="0.8" fill="none" stroke="#5a5a5a" stroke-width="0.4"/>
<circle cx="439.3" cy="154.4" r="0.8" fill="none" stroke="#5a5a5a" stroke-width="0.4"/>
<circle cx="279.7" cy="155.0" r="0.8" fill="none" stroke="#5a5a5a" stroke-width="0.4"/>
<circle cx="407.5" cy="158.5" r="0.8" fill="none" stroke="#5a5a5a" stroke-width="0.4"/>
<circle cx="258.7" cy="157.1" r="0.8" fill="none" stroke="#5a5a5a" stroke-width="0.4"/>
<circle cx="222.1" cy="158.3" r="0.8" fill="none" stroke="#5a5a5a" stroke-width="0.4"/>
<circle cx="321.1" cy="157.7" r="0.8" fill="none" stroke="#5a5a5a" stroke-width="0.4"/>
<circle cx="257.9" cy="156.0" r="0.8" fill="none" stroke="#5a5a5a" stroke-width="0.4"/>
<circle cx="429.3" cy="155.7" r="0.8" fill="none" stroke="#5a5a5a" stroke-width="0.4"/>
<circle cx="411.0" cy="154.8" r="0.8" fill="none" stroke="#5a5a5a" stroke-width="0.4"/>
<circle cx="234.2" cy="153.3" r="0.8" fill="none" stroke="#5a5a5a" stroke-width="0.4"/>
<circle cx="397.5" cy="153.8" r="0.8" fill="none" stroke="#5a5a5a" stroke-width="0.4"/>
<circle cx="468.8" cy="157.7" r="0.8" fill="none" stroke="#5a5a5a" stroke-width="0.4"/>
<circle cx="491.2" cy="158.4" r="0.8" fill="none" stroke="#5a5a5a" stroke-width="0.4"/>
<circle cx="498.4" cy="156.8" r="0.8" fill="none" stroke="#5a5a5a" stroke-width="0.4"/>
<circle cx="507.7" cy="156.4" r="0.8" fill="none" stroke="#5a5a5a" stroke-width="0.4"/>
<circle cx="248.6" cy="156.2" r="0.8" fill="none" stroke="#5a5a5a" stroke-width="0.4"/>
<circle cx="224.4" cy="157.2" r="0.8" fill="none" stroke="#5a5a5a" stroke-width="0.4"/>
<circle cx="411.1" cy="153.4" r="0.8" fill="none" stroke="#5a5a5a" stroke-width="0.4"/>
<circle cx="470.5" cy="154.8" r="0.8" fill="none" stroke="#5a5a5a" stroke-width="0.4"/>
<circle cx="244.8" cy="154.7" r="0.8" fill="none" stroke="#5a5a5a" stroke-width="0.4"/>
<circle cx="244.2" cy="155.6" r="0.8" fill="none" stroke="#5a5a5a" stroke-width="0.4"/>
<circle cx="313.0" cy="154.6" r="0.8" fill="none" stroke="#5a5a5a" stroke-width="0.4"/>
<circle cx="345.6" cy="156.7" r="0.8" fill="none" stroke="#5a5a5a" stroke-width="0.4"/>
<circle cx="301.7" cy="155.8" r="0.8" fill="none" stroke="#5a5a5a" stroke-width="0.4"/>
<circle cx="436.5" cy="154.7" r="0.8" fill="none" stroke="#5a5a5a" stroke-width="0.4"/>
<circle cx="513.8" cy="156.6" r="0.8" fill="none" stroke="#5a5a5a" stroke-width="0.4"/>
<circle cx="370.5" cy="156.8" r="0.8" fill="none" stroke="#5a5a5a" stroke-width="0.4"/>
<circle cx="223.3" cy="153.9" r="0.8" fill="none" stroke="#5a5a5a" stroke-width="0.4"/>
<circle cx="342.2" cy="153.2" r="0.8" fill="none" stroke="#5a5a5a" stroke-width="0.4"/>
<circle cx="321.7" cy="156.6" r="0.8" fill="none" stroke="#5a5a5a" stroke-width="0.4"/>
<circle cx="433.1" cy="154.6" r="0.8" fill="none" stroke="#5a5a5a" stroke-width="0.4"/>
<circle cx="482.1" cy="155.4" r="0.8" fill="none" stroke="#5a5a5a" stroke-width="0.4"/>
<circle cx="242.0" cy="156.0" r="0.8" fill="none" stroke="#5a5a5a" stroke-width="0.4"/>
<circle cx="214.1" cy="154.8" r="0.8" fill="none" stroke="#5a5a5a" stroke-width="0.4"/>
<circle cx="276.6" cy="155.9" r="0.8" fill="none" stroke="#5a5a5a" stroke-width="0.4"/>
<circle cx="215.1" cy="151.5" r="0.8" fill="none" stroke="#5a5a5a" stroke-width="0.4"/>
<circle cx="366.5" cy="152.9" r="0.8" fill="none" stroke="#5a5a5a" stroke-width="0.4"/>
<circle cx="271.1" cy="155.7" r="0.8" fill="none" stroke="#5a5a5a" stroke-width="0.4"/>
<circle cx="367.7" cy="154.0" r="0.8" fill="none" stroke="#5a5a5a" stroke-width="0.4"/>
<circle cx="294.8" cy="157.9" r="0.8" fill="none" stroke="#5a5a5a" stroke-width="0.4"/>
<circle cx="507.5" cy="155.4" r="0.8" fill="none" stroke="#5a5a5a" stroke-width="0.4"/>
<circle cx="431.4" cy="156.6" r="0.8" fill="none" stroke="#5a5a5a" stroke-width="0.4"/>
<circle cx="368.8" cy="157.2" r="0.8" fill="none" stroke="#5a5a5a" stroke-width="0.4"/>
<circle cx="238.9" cy="157.0" r="0.8" fill="none" stroke="#5a5a5a" stroke-width="0.4"/>
<circle cx="459.0" cy="154.7" r="0.8" fill="none" stroke="#5a5a5a" stroke-width="0.4"/>
<circle cx="409.2" cy="153.1" r="0.8" fill="none" stroke="#5a5a5a" stroke-width="0.4"/>
<circle cx="324.4" cy="154.4" r="0.8" fill="none" stroke="#5a5a5a" stroke-width="0.4"/>
<circle cx="490.9" cy="156.5" r="0.8" fill="none" stroke="#5a5a5a" stroke-width="0.4"/>
<circle cx="240.5" cy="155.9" r="0.8" fill="none" stroke="#5a5a5a" stroke-width="0.4"/>
<circle cx="277.9" cy="155.4" r="0.8" fill="none" stroke="#5a5a5a" stroke-width="0.4"/>
<circle cx="295.6" cy="157.0" r="0.8" fill="none" stroke="#5a5a5a" stroke-width="0.4"/>
<circle cx="331.8" cy="154.6" r="0.8" fill="none" stroke="#5a5a5a" stroke-width="0.4"/>
<circle cx="488.9" cy="155.8" r="0.8" fill="none" stroke="#5a5a5a" stroke-width="0.4"/>
<circle cx="379.2" cy="157.3" r="0.8" fill="none" stroke="#5a5a5a" stroke-width="0.4"/>
<circle cx="448.6" cy="155.6" r="0.8" fill="none" stroke="#5a5a5a" stroke-width="0.4"/>
<circle cx="322.2" cy="153.4" r="0.8" fill="none" stroke="#5a5a5a" stroke-width="0.4"/>
<circle cx="315.4" cy="157.2" r="0.8" fill="none" stroke="#5a5a5a" stroke-width="0.4"/>
<circle cx="419.8" cy="158.0" r="0.8" fill="none" stroke="#5a5a5a" stroke-width="0.4"/>
<circle cx="444.7" cy="156.4" r="0.8" fill="none" stroke="#5a5a5a" stroke-width="0.4"/>
<circle cx="454.5" cy="157.0" r="0.8" fill="none" stroke="#5a5a5a" stroke-width="0.4"/>
<circle cx="394.0" cy="156.8" r="0.8" fill="none" stroke="#5a5a5a" stroke-width="0.4"/>
<circle cx="489.2" cy="156.8" r="0.8" fill="none" stroke="#5a5a5a" stroke-width="0.4"/>
<circle cx="287.8" cy="156.1" r="0.8" fill="none" stroke="#5a5a5a" stroke-width="0.4"/>
<circle cx="432.6" cy="156.8" r="0.8" fill="none" stroke="#5a5a5a" stroke-width="0.4"/>
<circle cx="476.3" cy="156.1" r="0.8" fill="none" stroke="#5a5a5a" stroke-width="0.4"/>
<circle cx="290.8" cy="156.3" r="0.8" fill="none" stroke="#5a5a5a" stroke-width="0.4"/>
<circle cx="315.4" cy="154.7" r="0.8" fill="none" stroke="#5a5a5a" stroke-width="0.4"/>
<circle cx="315.8" cy="155.5" r="0.8" fill="none" stroke="#5a5a5a" stroke-width="0.4"/>
<circle cx="272.6" cy="158.0" r="0.8" fill="none" stroke="#5a5a5a" stroke-width="0.4"/>
<circle cx="245.4" cy="155.2" r="0.8" fill="none" stroke="#5a5a5a" stroke-width="0.4"/>
<circle cx="513.3" cy="156.8" r="0.8" fill="none" stroke="#5a5a5a" stroke-width="0.4"/>
<circle cx="520.0" cy="156.5" r="0.8" fill="none" stroke="#5a5a5a" stroke-width="0.4"/>
<circle cx="461.1" cy="155.4" r="0.8" fill="none" stroke="#5a5a5a" stroke-width="0.4"/>
<circle cx="274.8" cy="154.0" r="0.8" fill="none" stroke="#5a5a5a" stroke-width="0.4"/>
<circle cx="412.3" cy="156.4" r="0.8" fill="none" stroke="#5a5a5a" stroke-width="0.4"/>
<circle cx="334.6" cy="156.2" r="0.8" fill="none" stroke="#5a5a5a" stroke-width="0.4"/>
<circle cx="224.3" cy="153.5" r="0.8" fill="none" stroke="#5a5a5a" stroke-width="0.4"/>
<circle cx="429.6" cy="157.2" r="0.8" fill="none" stroke="#5a5a5a" stroke-width="0.4"/>
<circle cx="369.5" cy="154.5" r="0.8" fill="none" stroke="#5a5a5a" stroke-width="0.4"/>
<circle cx="257.8" cy="154.4" r="0.8" fill="none" stroke="#5a5a5a" stroke-width="0.4"/>
<circle cx="401.6" cy="153.6" r="0.8" fill="none" stroke="#5a5a5a" stroke-width="0.4"/>
<circle cx="496.4" cy="157.0" r="0.8" fill="none" stroke="#5a5a5a" stroke-width="0.4"/>
<circle cx="347.6" cy="153.4" r="0.8" fill="none" stroke="#5a5a5a" stroke-width="0.4"/>
<circle cx="344.8" cy="154.5" r="0.8" fill="none" stroke="#5a5a5a" stroke-width="0.4"/>
<circle cx="284.9" cy="155.1" r="0.8" fill="none" stroke="#5a5a5a" stroke-width="0.4"/>
<circle cx="454.7" cy="152.6" r="0.8" fill="none" stroke="#5a5a5a" stroke-width="0.4"/>
<circle cx="431.6" cy="157.0" r="0.8" fill="none" stroke="#5a5a5a" stroke-width="0.4"/>
<circle cx="413.4" cy="153.8" r="0.8" fill="none" stroke="#5a5a5a" stroke-width="0.4"/>
<circle cx="355.0" cy="154.8" r="0.8" fill="none" stroke="#5a5a5a" stroke-width="0.4"/>
<circle cx="244.2" cy="157.5" r="0.8" fill="none" stroke="#5a5a5a" stroke-width="0.4"/>
<circle cx="344.3" cy="156.1" r="0.8" fill="none" stroke="#5a5a5a" stroke-width="0.4"/>
<circle cx="409.7" cy="153.3" r="0.8" fill="none" stroke="#5a5a5a" stroke-width="0.4"/>
<circle cx="291.5" cy="154.1" r="0.8" fill="none" stroke="#5a5a5a" stroke-width="0.4"/>
<circle cx="407.2" cy="156.4" r="0.8" fill="none" stroke="#5a5a5a" stroke-width="0.4"/>
<circle cx="341.1" cy="154.0" r="0.8" fill="none" stroke="#5a5a5a" stroke-width="0.4"/>
<circle cx="270.7" cy="152.5" r="0.8" fill="none" stroke="#5a5a5a" stroke-width="0.4"/>
<circle cx="417.4" cy="155.9" r="0.8" fill="none" stroke="#5a5a5a" stroke-width="0.4"/>
<circle cx="366.2" cy="154.1" r="0.8" fill="none" stroke="#5a5a5a" stroke-width="0.4"/>
<circle cx="517.1" cy="157.4" r="0.8" fill="none" stroke="#5a5a5a" stroke-width="0.4"/>
<circle cx="263.8" cy="156.0" r="0.8" fill="none" stroke="#5a5a5a" stroke-width="0.4"/>
<circle cx="457.1" cy="157.3" r="0.8" fill="none" stroke="#5a5a5a" stroke-width="0.4"/>
<circle cx="245.2" cy="154.9" r="0.8" fill="none" stroke="#5a5a5a" stroke-width="0.4"/>
<circle cx="392.6" cy="153.3" r="0.8" fill="none" stroke="#5a5a5a" stroke-width="0.4"/>
<circle cx="373.1" cy="155.0" r="0.8" fill="none" stroke="#5a5a5a" stroke-width="0.4"/>
<circle cx="412.7" cy="156.5" r="0.8" fill="none" stroke="#5a5a5a" stroke-width="0.4"/>
<circle cx="341.4" cy="154.0" r="0.8" fill="none" stroke="#5a5a5a" stroke-width="0.4"/>
<circle cx="508.8" cy="156.2" r="0.8" fill="none" stroke="#5a5a5a" stroke-width="0.4"/>
<circle cx="335.9" cy="157.8" r="0.8" fill="none" stroke="#5a5a5a" stroke-width="0.4"/>
<circle cx="451.1" cy="158.7" r="0.8" fill="none" stroke="#5a5a5a" stroke-width="0.4"/>
<circle cx="324.4" cy="158.6" r="0.8" fill="none" stroke="#5a5a5a" stroke-width="0.4"/>
<circle cx="231.3" cy="155.4" r="0.8" fill="none" stroke="#5a5a5a" stroke-width="0.4"/>
<circle cx="217.8" cy="157.1" r="0.8" fill="none" stroke="#5a5a5a" stroke-width="0.4"/>
<circle cx="344.0" cy="153.6" r="0.8" fill="none" stroke="#5a5a5a" stroke-width="0.4"/>
<circle cx="323.3" cy="156.7" r="0.8" fill="none" stroke="#5a5a5a" stroke-width="0.4"/>
<circle cx="296.2" cy="156.0" r="0.8" fill="none" stroke="#5a5a5a" stroke-width="0.4"/>
<circle cx="506.3" cy="158.0" r="0.8" fill="none" stroke="#5a5a5a" stroke-width="0.4"/>
<circle cx="377.8" cy="156.1" r="0.8" fill="none" stroke="#5a5a5a" stroke-width="0.4"/>
<circle cx="335.7" cy="158.2" r="0.8" fill="none" stroke="#5a5a5a" stroke-width="0.4"/>
<circle cx="279.7" cy="157.4" r="0.8" fill="none" stroke="#5a5a5a" stroke-width="0.4"/>
<circle cx="465.7" cy="157.5" r="0.8" fill="none" stroke="#5a5a5a" stroke-width="0.4"/>
<circle cx="411.2" cy="153.7" r="0.8" fill="none" stroke="#5a5a5a" stroke-width="0.4"/>
<circle cx="284.0" cy="156.0" r="0.8" fill="none" stroke="#5a5a5a" stroke-width="0.4"/>
<circle cx="513.8" cy="154.3" r="0.8" fill="none" stroke="#5a5a5a" stroke-width="0.4"/>
<circle cx="468.6" cy="157.3" r="0.8" fill="none" stroke="#5a5a5a" stroke-width="0.4"/>
<circle cx="467.8" cy="154.4" r="0.8" fill="none" stroke="#5a5a5a" stroke-width="0.4"/>
<circle cx="384.4" cy="155.8" r="0.8" fill="none" stroke="#5a5a5a" stroke-width="0.4"/>
<circle cx="252.7" cy="156.3" r="0.8" fill="none" stroke="#5a5a5a" stroke-width="0.4"/>
<circle cx="478.5" cy="154.4" r="0.8" fill="none" stroke="#5a5a5a" stroke-width="0.4"/>
<circle cx="296.9" cy="154.8" r="0.8" fill="none" stroke="#5a5a5a" stroke-width="0.4"/>
<circle cx="346.3" cy="156.4" r="0.8" fill="none" stroke="#5a5a5a" stroke-width="0.4"/>
<circle cx="271.6" cy="158.0" r="0.8" fill="none" stroke="#5a5a5a" stroke-width="0.4"/>
<circle cx="301.2" cy="155.6" r="0.8" fill="none" stroke="#5a5a5a" stroke-width="0.4"/>
<circle cx="290.0" cy="155.1" r="0.8" fill="none" stroke="#5a5a5a" stroke-width="0.4"/>
<circle cx="347.1" cy="157.2" r="0.8" fill="none" stroke="#5a5a5a" stroke-width="0.4"/>
<circle cx="412.1" cy="154.8" r="0.8" fill="none" stroke="#5a5a5a" stroke-width="0.4"/>
<circle cx="502.8" cy="154.4" r="0.8" fill="none" stroke="#5a5a5a" stroke-width="0.4"/>
<circle cx="479.7" cy="158.2" r="0.8" fill="none" stroke="#5a5a5a" stroke-width="0.4"/>
<circle cx="495.7" cy="156.6" r="0.8" fill="none" stroke="#5a5a5a" stroke-width="0.4"/>
<circle cx="457.8" cy="157.4" r="0.8" fill="none" stroke="#5a5a5a" stroke-width="0.4"/>
<circle cx="410.8" cy="157.8" r="0.8" fill="none" stroke="#5a5a5a" stroke-width="0.4"/>
<circle cx="218.4" cy="159.3" r="0.8" fill="none" stroke="#5a5a5a" stroke-width="0.4"/>
<circle cx="417.9" cy="155.9" r="0.8" fill="none" stroke="#5a5a5a" stroke-width="0.4"/>
<circle cx="291.5" cy="156.3" r="0.8" fill="none" stroke="#5a5a5a" stroke-width="0.4"/>
<circle cx="286.4" cy="156.1" r="0.8" fill="none" stroke="#5a5a5a" stroke-width="0.4"/>
<circle cx="455.4" cy="155.1" r="0.8" fill="none" stroke="#5a5a5a" stroke-width="0.4"/>
<circle cx="495.1" cy="156.3" r="0.8" fill="none" stroke="#5a5a5a" stroke-width="0.4"/>
<circle cx="460.1" cy="157.2" r="0.8" fill="none" stroke="#5a5a5a" stroke-width="0.4"/>
<circle cx="403.1" cy="158.3" r="0.8" fill="none" stroke="#5a5a5a" stroke-width="0.4"/>
<circle cx="456.9" cy="154.0" r="0.8" fill="none" stroke="#5a5a5a" stroke-width="0.4"/>
<circle cx="459.0" cy="152.8" r="0.8" fill="none" stroke="#5a5a5a" stroke-width="0.4"/>
<circle cx="474.8" cy="156.3" r="0.8" fill="none" stroke="#5a5a5a" stroke-width="0.4"/>
<circle cx="378.9" cy="157.8" r="0.8" fill="none" stroke="#5a5a5a" stroke-width="0.4"/>
<circle cx="444.7" cy="152.7" r="0.8" fill="none" stroke="#5a5a5a" stroke-width="0.4"/>
<circle cx="386.5" cy="156.8" r="0.8" fill="none" stroke="#5a5a5a" stroke-width="0.4"/>
<circle cx="296.0" cy="155.7" r="0.8" fill="none" stroke="#5a5a5a" stroke-width="0.4"/>
<circle cx="367.2" cy="156.4" r="0.8" fill="none" stroke="#5a5a5a" stroke-width="0.4"/>
<circle cx="231.9" cy="154.8" r="0.8" fill="none" stroke="#5a5a5a" stroke-width="0.4"/>
<circle cx="366.7" cy="155.8" r="0.8" fill="none" stroke="#5a5a5a" stroke-width="0.4"/>
<circle cx="368.8" cy="152.7" r="0.8" fill="none" stroke="#5a5a5a" stroke-width="0.4"/>
<circle cx="215.8" cy="154.9" r="0.8" fill="none" stroke="#5a5a5a" stroke-width="0.4"/>
<circle cx="475.4" cy="153.7" r="0.8" fill="none" stroke="#5a5a5a" stroke-width="0.4"/>
<circle cx="420.8" cy="156.0" r="0.8" fill="none" stroke="#5a5a5a" stroke-width="0.4"/>
<circle cx="475.4" cy="154.5" r="0.8" fill="none" stroke="#5a5a5a" stroke-width="0.4"/>
<circle cx="512.7" cy="156.7" r="0.8" fill="none" stroke="#5a5a5a" stroke-width="0.4"/>
<circle cx="237.2" cy="154.2" r="0.8" fill="none" stroke="#5a5a5a" stroke-width="0.4"/>
<circle cx="222.6" cy="154.0" r="0.8" fill="none" stroke="#5a5a5a" stroke-width="0.4"/>
<circle cx="403.5" cy="154.2" r="0.8" fill="none" stroke="#5a5a5a" stroke-width="0.4"/>
<circle cx="316.6" cy="152.4" r="0.8" fill="none" stroke="#5a5a5a" stroke-width="0.4"/>
<circle cx="519.3" cy="153.9" r="0.8" fill="none" stroke="#5a5a5a" stroke-width="0.4"/>
<circle cx="493.1" cy="155.5" r="0.8" fill="none" stroke="#5a5a5a" stroke-width="0.4"/>
<circle cx="224.3" cy="155.2" r="0.8" fill="none" stroke="#5a5a5a" stroke-width="0.4"/>
<circle cx="319.1" cy="153.5" r="0.8" fill="none" stroke="#5a5a5a" stroke-width="0.4"/>
<circle cx="481.9" cy="154.5" r="0.8" fill="none" stroke="#5a5a5a" stroke-width="0.4"/>
<circle cx="377.3" cy="156.9" r="0.8" fill="none" stroke="#5a5a5a" stroke-width="0.4"/>
<circle cx="453.6" cy="156.0" r="0.8" fill="none" stroke="#5a5a5a" stroke-width="0.4"/>
<circle cx="345.2" cy="157.2" r="0.8" fill="none" stroke="#5a5a5a" stroke-width="0.4"/>
<circle cx="386.2" cy="156.2" r="0.8" fill="none" stroke="#5a5a5a" stroke-width="0.4"/>
<circle cx="471.4" cy="154.5" r="0.8" fill="none" stroke="#5a5a5a" stroke-width="0.4"/>
<circle cx="339.4" cy="154.4" r="0.8" fill="none" stroke="#5a5a5a" stroke-width="0.4"/>
<circle cx="371.3" cy="155.6" r="0.8" fill="none" stroke="#5a5a5a" stroke-width="0.4"/>
<circle cx="517.2" cy="154.1" r="0.8" fill="none" stroke="#5a5a5a" stroke-width="0.4"/>
<circle cx="316.7" cy="153.4" r="0.8" fill="none" stroke="#5a5a5a" stroke-width="0.4"/>
<circle cx="312.4" cy="155.0" r="0.8" fill="none" stroke="#5a5a5a" stroke-width="0.4"/>
<circle cx="411.3" cy="157.5" r="0.8" fill="none" stroke="#5a5a5a" stroke-width="0.4"/>
<circle cx="457.8" cy="157.9" r="0.8" fill="none" stroke="#5a5a5a" stroke-width="0.4"/>
<circle cx="489.4" cy="156.2" r="0.8" fill="none" stroke="#5a5a5a" stroke-width="0.4"/>
<circle cx="383.5" cy="156.8" r="0.8" fill="none" stroke="#5a5a5a" stroke-width="0.4"/>
<circle cx="215.6" cy="156.0" r="0.8" fill="none" stroke="#5a5a5a" stroke-width="0.4"/>
<circle cx="272.8" cy="157.4" r="0.8" fill="none" stroke="#5a5a5a" stroke-width="0.4"/>
<circle cx="418.5" cy="154.6" r="0.8" fill="none" stroke="#5a5a5a" stroke-width="0.4"/>
<circle cx="459.3" cy="157.3" r="0.8" fill="none" stroke="#5a5a5a" stroke-width="0.4"/>
<circle cx="405.7" cy="154.5" r="0.8" fill="none" stroke="#5a5a5a" stroke-width="0.4"/>
<circle cx="408.8" cy="154.9" r="0.8" fill="none" stroke="#5a5a5a" stroke-width="0.4"/>
<circle cx="425.7" cy="153.7" r="0.8" fill="none" stroke="#5a5a5a" stroke-width="0.4"/>
<circle cx="279.9" cy="154.8" r="0.8" fill="none" stroke="#5a5a5a" stroke-width="0.4"/>
<circle cx="451.1" cy="154.2" r="0.8" fill="none" stroke="#5a5a5a" stroke-width="0.4"/>
<circle cx="245.3" cy="155.8" r="0.8" fill="none" stroke="#5a5a5a" stroke-width="0.4"/>
<circle cx="454.8" cy="156.0" r="0.8" fill="none" stroke="#5a5a5a" stroke-width="0.4"/>
<circle cx="498.3" cy="154.8" r="0.8" fill="none" stroke="#5a5a5a" stroke-width="0.4"/>
<circle cx="469.8" cy="154.4" r="0.8" fill="none" stroke="#5a5a5a" stroke-width="0.4"/>
<circle cx="458.5" cy="154.5" r="0.8" fill="none" stroke="#5a5a5a" stroke-width="0.4"/>
<circle cx="307.7" cy="155.2" r="0.8" fill="none" stroke="#5a5a5a" stroke-width="0.4"/>
<circle cx="345.0" cy="154.9" r="0.8" fill="none" stroke="#5a5a5a" stroke-width="0.4"/>
<circle cx="413.5" cy="157.0" r="0.8" fill="none" stroke="#5a5a5a" stroke-width="0.4"/>
<circle cx="504.4" cy="157.4" r="0.8" fill="none" stroke="#5a5a5a" stroke-width="0.4"/>
<circle cx="226.0" cy="156.3" r="0.8" fill="none" stroke="#5a5a5a" stroke-width="0.4"/>
<circle cx="250.7" cy="156.3" r="0.8" fill="none" stroke="#5a5a5a" stroke-width="0.4"/>
<circle cx="499.7" cy="153.8" r="0.8" fill="none" stroke="#5a5a5a" stroke-width="0.4"/>
<circle cx="352.7" cy="157.1" r="0.8" fill="none" stroke="#5a5a5a" stroke-width="0.4"/>
<circle cx="398.0" cy="155.7" r="0.8" fill="none" stroke="#5a5a5a" stroke-width="0.4"/>
<circle cx="505.6" cy="157.3" r="0.8" fill="none" stroke="#5a5a5a" stroke-width="0.4"/>
<circle cx="342.1" cy="155.4" r="0.8" fill="none" stroke="#5a5a5a" stroke-width="0.4"/>
<circle cx="245.5" cy="155.0" r="0.8" fill="none" stroke="#5a5a5a" stroke-width="0.4"/>
<circle cx="260.9" cy="154.8" r="0.8" fill="none" stroke="#5a5a5a" stroke-width="0.4"/>
<circle cx="218.5" cy="157.9" r="0.8" fill="none" stroke="#5a5a5a" stroke-width="0.4"/>
<circle cx="251.6" cy="155.7" r="0.8" fill="none" stroke="#5a5a5a" stroke-width="0.4"/>
<circle cx="514.5" cy="158.2" r="0.8" fill="none" stroke="#5a5a5a" stroke-width="0.4"/>
<circle cx="253.8" cy="157.2" r="0.8" fill="none" stroke="#5a5a5a" stroke-width="0.4"/>
<circle cx="219.2" cy="155.4" r="0.8" fill="none" stroke="#5a5a5a" stroke-width="0.4"/>
<circle cx="442.1" cy="154.5" r="0.8" fill="none" stroke="#5a5a5a" stroke-width="0.4"/>
<circle cx="272.0" cy="158.1" r="0.8" fill="none" stroke="#5a5a5a" stroke-width="0.4"/>
<circle cx="435.8" cy="156.4" r="0.8" fill="none" stroke="#5a5a5a" stroke-width="0.4"/>
<circle cx="480.0" cy="155.5" r="0.8" fill="none" stroke="#5a5a5a" stroke-width="0.4"/>
<circle cx="409.4" cy="155.0" r="0.8" fill="none" stroke="#5a5a5a" stroke-width="0.4"/>
<circle cx="434.5" cy="152.2" r="0.8" fill="none" stroke="#5a5a5a" stroke-width="0.4"/>
<circle cx="292.8" cy="156.5" r="0.8" fill="none" stroke="#5a5a5a" stroke-width="0.4"/>
<circle cx="513.9" cy="155.6" r="0.8" fill="none" stroke="#5a5a5a" stroke-width="0.4"/>
<circle cx="218.3" cy="155.4" r="0.8" fill="none" stroke="#5a5a5a" stroke-width="0.4"/>
<circle cx="416.3" cy="155.9" r="0.8" fill="none" stroke="#5a5a5a" stroke-width="0.4"/>
<circle cx="310.5" cy="155.0" r="0.8" fill="none" stroke="#5a5a5a" stroke-width="0.4"/>
<circle cx="440.8" cy="157.1" r="0.8" fill="none" stroke="#5a5a5a" stroke-width="0.4"/>
<circle cx="365.1" cy="158.2" r="0.8" fill="none" stroke="#5a5a5a" stroke-width="0.4"/>
<circle cx="232.3" cy="154.3" r="0.8" fill="none" stroke="#5a5a5a" stroke-width="0.4"/>
<circle cx="350.3" cy="157.1" r="0.8" fill="none" stroke="#5a5a5a" stroke-width="0.4"/>
<circle cx="424.4" cy="157.2" r="0.8" fill="none" stroke="#5a5a5a" stroke-width="0.4"/>
<circle cx="326.8" cy="157.7" r="0.8" fill="none" stroke="#5a5a5a" stroke-width="0.4"/>
<circle cx="414.5" cy="154.5" r="0.8" fill="none" stroke="#5a5a5a" stroke-width="0.4"/>
<circle cx="333.8" cy="154.5" r="0.8" fill="none" stroke="#5a5a5a" stroke-width="0.4"/>
<circle cx="458.5" cy="158.1" r="0.8" fill="none" stroke="#5a5a5a" stroke-width="0.4"/>
<circle cx="390.1" cy="154.7" r="0.8" fill="none" stroke="#5a5a5a" stroke-width="0.4"/>
<circle cx="304.7" cy="159.4" r="0.8" fill="none" stroke="#5a5a5a" stroke-width="0.4"/>
<circle cx="432.6" cy="157.1" r="0.8" fill="none" stroke="#5a5a5a" stroke-width="0.4"/>
<circle cx="471.3" cy="154.6" r="0.8" fill="none" stroke="#5a5a5a" stroke-width="0.4"/>
<circle cx="518.0" cy="157.4" r="0.8" fill="none" stroke="#5a5a5a" stroke-width="0.4"/>
<circle cx="472.5" cy="154.6" r="0.8" fill="none" stroke="#5a5a5a" stroke-width="0.4"/>
<circle cx="347.1" cy="154.8" r="0.8" fill="none" stroke="#5a5a5a" stroke-width="0.4"/>
<circle cx="490.2" cy="154.0" r="0.8" fill="none" stroke="#5a5a5a" stroke-width="0.4"/>
<circle cx="401.0" cy="157.2" r="0.8" fill="none" stroke="#5a5a5a" stroke-width="0.4"/>
<circle cx="492.7" cy="156.0" r="0.8" fill="none" stroke="#5a5a5a" stroke-width="0.4"/>
<circle cx="214.2" cy="154.5" r="0.8" fill="none" stroke="#5a5a5a" stroke-width="0.4"/>
<circle cx="295.6" cy="153.8" r="0.8" fill="none" stroke="#5a5a5a" stroke-width="0.4"/>
<circle cx="467.7" cy="156.5" r="0.8" fill="none" stroke="#5a5a5a" stroke-width="0.4"/>
<circle cx="490.0" cy="158.3" r="0.8" fill="none" stroke="#5a5a5a" stroke-width="0.4"/>
<circle cx="466.4" cy="156.3" r="0.8" fill="none" stroke="#5a5a5a" stroke-width="0.4"/>
<circle cx="483.7" cy="154.5" r="0.8" fill="none" stroke="#5a5a5a" stroke-width="0.4"/>
<circle cx="478.7" cy="155.1" r="0.8" fill="none" stroke="#5a5a5a" stroke-width="0.4"/>
<circle cx="464.9" cy="154.3" r="0.8" fill="none" stroke="#5a5a5a" stroke-width="0.4"/>
<circle cx="321.7" cy="152.6" r="0.8" fill="none" stroke="#5a5a5a" stroke-width="0.4"/>
<circle cx="240.2" cy="153.1" r="0.8" fill="none" stroke="#5a5a5a" stroke-width="0.4"/>
<circle cx="276.1" cy="154.7" r="0.8" fill="none" stroke="#5a5a5a" stroke-width="0.4"/>
<circle cx="447.2" cy="156.6" r="0.8" fill="none" stroke="#5a5a5a" stroke-width="0.4"/>
<circle cx="402.6" cy="155.1" r="0.8" fill="none" stroke="#5a5a5a" stroke-width="0.4"/>
<circle cx="424.7" cy="154.6" r="0.8" fill="none" stroke="#5a5a5a" stroke-width="0.4"/>
<circle cx="293.0" cy="155.8" r="0.8" fill="none" stroke="#5a5a5a" stroke-width="0.4"/>
<circle cx="447.5" cy="156.0" r="0.8" fill="none" stroke="#5a5a5a" stroke-width="0.4"/>
<circle cx="241.0" cy="154.0" r="0.8" fill="none" stroke="#5a5a5a" stroke-width="0.4"/>
<circle cx="464.8" cy="155.8" r="0.8" fill="none" stroke="#5a5a5a" stroke-width="0.4"/>
<circle cx="394.1" cy="154.5" r="0.8" fill="none" stroke="#5a5a5a" stroke-width="0.4"/>
<circle cx="492.9" cy="157.0" r="0.8" fill="none" stroke="#5a5a5a" stroke-width="0.4"/>
<circle cx="362.1" cy="154.4" r="0.8" fill="none" stroke="#5a5a5a" stroke-width="0.4"/>
<circle cx="397.2" cy="156.0" r="0.8" fill="none" stroke="#5a5a5a" stroke-width="0.4"/>
<circle cx="269.9" cy="156.5" r="0.8" fill="none" stroke="#5a5a5a" stroke-width="0.4"/>
<circle cx="431.9" cy="154.3" r="0.8" fill="none" stroke="#5a5a5a" stroke-width="0.4"/>
<circle cx="339.0" cy="157.1" r="0.8" fill="none" stroke="#5a5a5a" stroke-width="0.4"/>
<circle cx="374.7" cy="155.9" r="0.8" fill="none" stroke="#5a5a5a" stroke-width="0.4"/>
<circle cx="524.1" cy="156.0" r="0.8" fill="none" stroke="#5a5a5a" stroke-width="0.4"/>
<circle cx="330.1" cy="157.3" r="0.8" fill="none" stroke="#5a5a5a" stroke-width="0.4"/>
<circle cx="458.8" cy="156.9" r="0.8" fill="none" stroke="#5a5a5a" stroke-width="0.4"/>
<circle cx="262.3" cy="154.5" r="0.8" fill="none" stroke="#5a5a5a" stroke-width="0.4"/>
<circle cx="375.4" cy="154.8" r="0.8" fill="none" stroke="#5a5a5a" stroke-width="0.4"/>
<circle cx="220.1" cy="160.1" r="0.8" fill="none" stroke="#5a5a5a" stroke-width="0.4"/>
<circle cx="483.3" cy="156.6" r="0.8" fill="none" stroke="#5a5a5a" stroke-width="0.4"/>
<circle cx="365.1" cy="154.5" r="0.8" fill="none" stroke="#5a5a5a" stroke-width="0.4"/>
<circle cx="456.3" cy="155.1" r="0.8" fill="none" stroke="#5a5a5a" stroke-width="0.4"/>
<circle cx="346.3" cy="158.0" r="0.8" fill="none" stroke="#5a5a5a" stroke-width="0.4"/>
<circle cx="468.6" cy="154.8" r="0.8" fill="none" stroke="#5a5a5a" stroke-width="0.4"/>
<circle cx="513.6" cy="155.6" r="0.8" fill="none" stroke="#5a5a5a" stroke-width="0.4"/>
<circle cx="276.3" cy="156.0" r="0.8" fill="none" stroke="#5a5a5a" stroke-width="0.4"/>
<circle cx="270.0" cy="156.0" r="0.8" fill="none" stroke="#5a5a5a" stroke-width="0.4"/>
<circle cx="387.2" cy="155.8" r="0.8" fill="none" stroke="#5a5a5a" stroke-width="0.4"/>
<circle cx="484.7" cy="152.1" r="0.8" fill="none" stroke="#5a5a5a" stroke-width="0.4"/>
<circle cx="497.0" cy="156.5" r="0.8" fill="none" stroke="#5a5a5a" stroke-width="0.4"/>
<circle cx="233.7" cy="154.4" r="0.8" fill="none" stroke="#5a5a5a" stroke-width="0.4"/>
<circle cx="251.0" cy="154.7" r="0.8" fill="none" stroke="#5a5a5a" stroke-width="0.4"/>
<circle cx="512.3" cy="155.5" r="0.8" fill="none" stroke="#5a5a5a" stroke-width="0.4"/>
<circle cx="413.1" cy="157.5" r="0.8" fill="none" stroke="#5a5a5a" stroke-width="0.4"/>
<circle cx="511.4" cy="154.9" r="0.8" fill="none" stroke="#5a5a5a" stroke-width="0.4"/>
<circle cx="353.3" cy="154.3" r="0.8" fill="none" stroke="#5a5a5a" stroke-width="0.4"/>
<circle cx="263.4" cy="160.1" r="0.8" fill="none" stroke="#5a5a5a" stroke-width="0.4"/>
<circle cx="282.7" cy="154.6" r="0.8" fill="none" stroke="#5a5a5a" stroke-width="0.4"/>
<circle cx="225.7" cy="155.5" r="0.8" fill="none" stroke="#5a5a5a" stroke-width="0.4"/>
<circle cx="494.7" cy="157.0" r="0.8" fill="none" stroke="#5a5a5a" stroke-width="0.4"/>
<circle cx="495.3" cy="155.8" r="0.8" fill="none" stroke="#5a5a5a" stroke-width="0.4"/>
<circle cx="458.5" cy="155.2" r="0.8" fill="none" stroke="#5a5a5a" stroke-width="0.4"/>
<circle cx="434.6" cy="153.0" r="0.8" fill="none" stroke="#5a5a5a" stroke-width="0.4"/>
<circle cx="231.1" cy="152.1" r="0.8" fill="none" stroke="#5a5a5a" stroke-width="0.4"/>
<circle cx="258.8" cy="155.7" r="0.8" fill="none" stroke="#5a5a5a" stroke-width="0.4"/>
<circle cx="424.4" cy="152.1" r="0.8" fill="none" stroke="#5a5a5a" stroke-width="0.4"/>
<circle cx="306.7" cy="153.5" r="0.8" fill="none" stroke="#5a5a5a" stroke-width="0.4"/>
<circle cx="246.5" cy="154.2" r="0.8" fill="none" stroke="#5a5a5a" stroke-width="0.4"/>
<circle cx="314.5" cy="155.6" r="0.8" fill="none" stroke="#5a5a5a" stroke-width="0.4"/>
<circle cx="363.5" cy="156.4" r="0.8" fill="none" stroke="#5a5a5a" stroke-width="0.4"/>
<circle cx="266.2" cy="155.7" r="0.8" fill="none" stroke="#5a5a5a" stroke-width="0.4"/>
<circle cx="424.7" cy="156.4" r="0.8" fill="none" stroke="#5a5a5a" stroke-width="0.4"/>
<circle cx="217.6" cy="155.4" r="0.8" fill="none" stroke="#5a5a5a" stroke-width="0.4"/>
<circle cx="224.9" cy="154.6" r="0.8" fill="none" stroke="#5a5a5a" stroke-width="0.4"/>
<circle cx="502.5" cy="156.2" r="0.8" fill="none" stroke="#5a5a5a" stroke-width="0.4"/>
<circle cx="483.5" cy="159.0" r="0.8" fill="none" stroke="#5a5a5a" stroke-width="0.4"/>
<circle cx="490.4" cy="156.6" r="0.8" fill="none" stroke="#5a5a5a" stroke-width="0.4"/>
<circle cx="243.9" cy="156.9" r="0.8" fill="none" stroke="#5a5a5a" stroke-width="0.4"/>
<circle cx="502.8" cy="156.8" r="0.8" fill="none" stroke="#5a5a5a" stroke-width="0.4"/>
<circle cx="354.5" cy="153.8" r="0.8" fill="none" stroke="#5a5a5a" stroke-width="0.4"/>
<circle cx="319.5" cy="156.4" r="0.8" fill="none" stroke="#5a5a5a" stroke-width="0.4"/>
<circle cx="409.3" cy="154.1" r="0.8" fill="none" stroke="#5a5a5a" stroke-width="0.4"/>
<circle cx="258.1" cy="155.7" r="0.8" fill="none" stroke="#5a5a5a" stroke-width="0.4"/>
<circle cx="435.9" cy="156.1" r="0.8" fill="none" stroke="#5a5a5a" stroke-width="0.4"/>
<circle cx="386.0" cy="157.5" r="0.8" fill="none" stroke="#5a5a5a" stroke-width="0.4"/>
<circle cx="296.6" cy="158.0" r="0.8" fill="none" stroke="#5a5a5a" stroke-width="0.4"/>
<circle cx="341.9" cy="156.3" r="0.8" fill="none" stroke="#5a5a5a" stroke-width="0.4"/>
<circle cx="475.1" cy="156.6" r="0.8" fill="none" stroke="#5a5a5a" stroke-width="0.4"/>
<circle cx="317.8" cy="156.5" r="0.8" fill="none" stroke="#5a5a5a" stroke-width="0.4"/>
<circle cx="312.7" cy="157.1" r="0.8" fill="none" stroke="#5a5a5a" stroke-width="0.4"/>
<circle cx="494.9" cy="158.7" r="0.8" fill="none" stroke="#5a5a5a" stroke-width="0.4"/>
<circle cx="231.4" cy="158.3" r="0.8" fill="none" stroke="#5a5a5a" stroke-width="0.4"/>
<circle cx="492.3" cy="155.1" r="0.8" fill="none" stroke="#5a5a5a" stroke-width="0.4"/>
<circle cx="362.3" cy="154.7" r="0.8" fill="none" stroke="#5a5a5a" stroke-width="0.4"/>
<circle cx="302.8" cy="155.6" r="0.8" fill="none" stroke="#5a5a5a" stroke-width="0.4"/>
<circle cx="327.1" cy="156.6" r="0.8" fill="none" stroke="#5a5a5a" stroke-width="0.4"/>
<circle cx="522.2" cy="159.0" r="0.8" fill="none" stroke="#5a5a5a" stroke-width="0.4"/>
<circle cx="244.1" cy="155.6" r="0.8" fill="none" stroke="#5a5a5a" stroke-width="0.4"/>
<circle cx="303.8" cy="156.0" r="0.8" fill="none" stroke="#5a5a5a" stroke-width="0.4"/>
<circle cx="439.9" cy="155.3" r="0.8" fill="none" stroke="#5a5a5a" stroke-width="0.4"/>
<circle cx="305.1" cy="155.9" r="0.8" fill="none" stroke="#5a5a5a" stroke-width="0.4"/>
<circle cx="464.9" cy="155.6" r="0.8" fill="none" stroke="#5a5a5a" stroke-width="0.4"/>
<circle cx="319.8" cy="155.7" r="0.8" fill="none" stroke="#5a5a5a" stroke-width="0.4"/>
<circle cx="472.8" cy="155.7" r="0.8" fill="none" stroke="#5a5a5a" stroke-width="0.4"/>
<circle cx="377.6" cy="156.2" r="0.8" fill="none" stroke="#5a5a5a" stroke-width="0.4"/>
<circle cx="497.6" cy="157.1" r="0.8" fill="none" stroke="#5a5a5a" stroke-width="0.4"/>
<circle cx="281.6" cy="154.9" r="0.8" fill="none" stroke="#5a5a5a" stroke-width="0.4"/>
<circle cx="269.8" cy="155.2" r="0.8" fill="none" stroke="#5a5a5a" stroke-width="0.4"/>
<circle cx="453.5" cy="155.4" r="0.8" fill="none" stroke="#5a5a5a" stroke-width="0.4"/>
<circle cx="238.4" cy="154.6" r="0.8" fill="none" stroke="#5a5a5a" stroke-width="0.4"/>
<circle cx="240.9" cy="154.2" r="0.8" fill="none" stroke="#5a5a5a" stroke-width="0.4"/>
<circle cx="299.0" cy="154.5" r="0.8" fill="none" stroke="#5a5a5a" stroke-width="0.4"/>
<circle cx="277.8" cy="153.8" r="0.8" fill="none" stroke="#5a5a5a" stroke-width="0.4"/>
<circle cx="466.3" cy="154.1" r="0.8" fill="none" stroke="#5a5a5a" stroke-width="0.4"/>
<circle cx="395.2" cy="155.8" r="0.8" fill="none" stroke="#5a5a5a" stroke-width="0.4"/>
<circle cx="441.8" cy="156.1" r="0.8" fill="none" stroke="#5a5a5a" stroke-width="0.4"/>
<circle cx="340.7" cy="155.5" r="0.8" fill="none" stroke="#5a5a5a" stroke-width="0.4"/>
<circle cx="466.1" cy="155.1" r="0.8" fill="none" stroke="#5a5a5a" stroke-width="0.4"/>
<circle cx="318.1" cy="157.2" r="0.8" fill="none" stroke="#5a5a5a" stroke-width="0.4"/>
<circle cx="367.2" cy="153.1" r="0.8" fill="none" stroke="#5a5a5a" stroke-width="0.4"/>
<circle cx="218.5" cy="157.0" r="0.8" fill="none" stroke="#5a5a5a" stroke-width="0.4"/>
<circle cx="485.2" cy="154.7" r="0.8" fill="none" stroke="#5a5a5a" stroke-width="0.4"/>
<circle cx="296.6" cy="156.7" r="0.8" fill="none" stroke="#5a5a5a" stroke-width="0.4"/>
<circle cx="328.0" cy="158.2" r="0.8" fill="none" stroke="#5a5a5a" stroke-width="0.4"/>
<circle cx="264.6" cy="154.2" r="0.8" fill="none" stroke="#5a5a5a" stroke-width="0.4"/>
<circle cx="215.1" cy="157.1" r="0.8" fill="none" stroke="#5a5a5a" stroke-width="0.4"/>
<circle cx="375.5" cy="153.9" r="0.8" fill="none" stroke="#5a5a5a" stroke-width="0.4"/>
<circle cx="251.3" cy="156.2" r="0.8" fill="none" stroke="#5a5a5a" stroke-width="0.4"/>
<circle cx="436.2" cy="156.8" r="0.8" fill="none" stroke="#5a5a5a" stroke-width="0.4"/>
<circle cx="313.6" cy="152.9" r="0.8" fill="none" stroke="#5a5a5a" stroke-width="0.4"/>
<circle cx="435.1" cy="153.8" r="0.8" fill="none" stroke="#5a5a5a" stroke-width="0.4"/>
<circle cx="232.8" cy="157.3" r="0.8" fill="none" stroke="#5a5a5a" stroke-width="0.4"/>
<circle cx="485.4" cy="157.3" r="0.8" fill="none" stroke="#5a5a5a" stroke-width="0.4"/>
<circle cx="373.5" cy="155.1" r="0.8" fill="none" stroke="#5a5a5a" stroke-width="0.4"/>
<circle cx="378.8" cy="155.3" r="0.8" fill="none" stroke="#5a5a5a" stroke-width="0.4"/>
<circle cx="514.9" cy="155.5" r="0.8" fill="none" stroke="#5a5a5a" stroke-width="0.4"/>
<circle cx="283.3" cy="155.9" r="0.8" fill="none" stroke="#5a5a5a" stroke-width="0.4"/>
<circle cx="291.7" cy="156.2" r="0.8" fill="none" stroke="#5a5a5a" stroke-width="0.4"/>
<circle cx="468.1" cy="156.3" r="0.8" fill="none" stroke="#5a5a5a" stroke-width="0.4"/>
<circle cx="431.3" cy="155.7" r="0.8" fill="none" stroke="#5a5a5a" stroke-width="0.4"/>
<circle cx="274.4" cy="157.6" r="0.8" fill="none" stroke="#5a5a5a" stroke-width="0.4"/>
<circle cx="393.2" cy="155.8" r="0.8" fill="none" stroke="#5a5a5a" stroke-width="0.4"/>
<circle cx="376.5" cy="155.4" r="0.8" fill="none" stroke="#5a5a5a" stroke-width="0.4"/>
<circle cx="484.4" cy="154.9" r="0.8" fill="none" stroke="#5a5a5a" stroke-width="0.4"/>
<circle cx="436.9" cy="156.3" r="0.8" fill="none" stroke="#5a5a5a" stroke-width="0.4"/>
<circle cx="367.4" cy="155.8" r="0.8" fill="none" stroke="#5a5a5a" stroke-width="0.4"/>
<circle cx="369.6" cy="155.5" r="0.8" fill="none" stroke="#5a5a5a" stroke-width="0.4"/>
<circle cx="340.0" cy="156.4" r="0.8" fill="none" stroke="#5a5a5a" stroke-width="0.4"/>
<circle cx="256.3" cy="153.1" r="0.8" fill="none" stroke="#5a5a5a" stroke-width="0.4"/>
<circle cx="259.5" cy="154.0" r="0.8" fill="none" stroke="#5a5a5a" stroke-width="0.4"/>
<circle cx="392.0" cy="155.6" r="0.8" fill="none" stroke="#5a5a5a" stroke-width="0.4"/>
<circle cx="470.8" cy="154.7" r="0.8" fill="none" stroke="#5a5a5a" stroke-width="0.4"/>
<circle cx="505.6" cy="154.4" r="0.8" fill="none" stroke="#5a5a5a" stroke-width="0.4"/>
<circle cx="475.1" cy="156.6" r="0.8" fill="none" stroke="#5a5a5a" stroke-width="0.4"/>
<circle cx="377.3" cy="152.8" r="0.8" fill="none" stroke="#5a5a5a" stroke-width="0.4"/>
<circle cx="455.6" cy="157.8" r="0.8" fill="none" stroke="#5a5a5a" stroke-width="0.4"/>
<circle cx="319.1" cy="155.7" r="0.8" fill="none" stroke="#5a5a5a" stroke-width="0.4"/>
<circle cx="349.3" cy="157.0" r="0.8" fill="none" stroke="#5a5a5a" stroke-width="0.4"/>
<circle cx="519.2" cy="156.7" r="0.8" fill="none" stroke="#5a5a5a" stroke-width="0.4"/>
<circle cx="467.4" cy="152.5" r="0.8" fill="none" stroke="#5a5a5a" stroke-width="0.4"/>
<circle cx="477.6" cy="157.3" r="0.8" fill="none" stroke="#5a5a5a" stroke-width="0.4"/>
<circle cx="511.9" cy="156.2" r="0.8" fill="none" stroke="#5a5a5a" stroke-width="0.4"/>
<circle cx="504.6" cy="155.6" r="0.8" fill="none" stroke="#5a5a5a" stroke-width="0.4"/>
<circle cx="410.7" cy="157.2" r="0.8" fill="none" stroke="#5a5a5a" stroke-width="0.4"/>
<circle cx="327.1" cy="155.0" r="0.8" fill="none" stroke="#5a5a5a" stroke-width="0.4"/>
<circle cx="348.5" cy="155.5" r="0.8" fill="none" stroke="#5a5a5a" stroke-width="0.4"/>
<circle cx="370.8" cy="156.4" r="0.8" fill="none" stroke="#5a5a5a" stroke-width="0.4"/>
<circle cx="515.6" cy="155.7" r="0.8" fill="none" stroke="#5a5a5a" stroke-width="0.4"/>
<circle cx="455.4" cy="157.6" r="0.8" fill="none" stroke="#5a5a5a" stroke-width="0.4"/>
<circle cx="465.6" cy="154.8" r="0.8" fill="none" stroke="#5a5a5a" stroke-width="0.4"/>
<circle cx="489.0" cy="155.9" r="0.8" fill="none" stroke="#5a5a5a" stroke-width="0.4"/>
<circle cx="413.4" cy="155.3" r="0.8" fill="none" stroke="#5a5a5a" stroke-width="0.4"/>
<circle cx="296.4" cy="155.1" r="0.8" fill="none" stroke="#5a5a5a" stroke-width="0.4"/>
<circle cx="382.5" cy="154.5" r="0.8" fill="none" stroke="#5a5a5a" stroke-width="0.4"/>
<circle cx="501.5" cy="154.8" r="0.8" fill="none" stroke="#5a5a5a" stroke-width="0.4"/>
<circle cx="375.7" cy="154.8" r="0.8" fill="none" stroke="#5a5a5a" stroke-width="0.4"/>
<circle cx="348.7" cy="156.8" r="0.8" fill="none" stroke="#5a5a5a" stroke-width="0.4"/>
<circle cx="308.8" cy="155.2" r="0.8" fill="none" stroke="#5a5a5a" stroke-width="0.4"/>
<circle cx="415.3" cy="157.1" r="0.8" fill="none" stroke="#5a5a5a" stroke-width="0.4"/>
<circle cx="511.3" cy="157.0" r="0.8" fill="none" stroke="#5a5a5a" stroke-width="0.4"/>
<circle cx="373.6" cy="155.4" r="0.8" fill="none" stroke="#5a5a5a" stroke-width="0.4"/>
<circle cx="379.9" cy="157.3" r="0.8" fill="none" stroke="#5a5a5a" stroke-width="0.4"/>
<circle cx="259.9" cy="156.2" r="0.8" fill="none" stroke="#5a5a5a" stroke-width="0.4"/>
<circle cx="305.1" cy="156.2" r="0.8" fill="none" stroke="#5a5a5a" stroke-width="0.4"/>
<circle cx="340.3" cy="155.3" r="0.8" fill="none" stroke="#5a5a5a" stroke-width="0.4"/>
<circle cx="241.0" cy="156.7" r="0.8" fill="none" stroke="#5a5a5a" stroke-width="0.4"/>
<circle cx="383.8" cy="156.7" r="0.8" fill="none" stroke="#5a5a5a" stroke-width="0.4"/>
<circle cx="391.2" cy="153.9" r="0.8" fill="none" stroke="#5a5a5a" stroke-width="0.4"/>
<circle cx="416.2" cy="156.3" r="0.8" fill="none" stroke="#5a5a5a" stroke-width="0.4"/>
<circle cx="357.2" cy="157.9" r="0.8" fill="none" stroke="#5a5a5a" stroke-width="0.4"/>
<circle cx="384.3" cy="154.3" r="0.8" fill="none" stroke="#5a5a5a" stroke-width="0.4"/>
<circle cx="310.4" cy="154.5" r="0.8" fill="none" stroke="#5a5a5a" stroke-width="0.4"/>
<circle cx="289.1" cy="155.9" r="0.8" fill="none" stroke="#5a5a5a" stroke-width="0.4"/>
<circle cx="333.0" cy="157.4" r="0.8" fill="none" stroke="#5a5a5a" stroke-width="0.4"/>
<circle cx="396.0" cy="157.0" r="0.8" fill="none" stroke="#5a5a5a" stroke-width="0.4"/>
<circle cx="482.0" cy="155.7" r="0.8" fill="none" stroke="#5a5a5a" stroke-width="0.4"/>
<circle cx="288.0" cy="154.0" r="0.8" fill="none" stroke="#5a5a5a" stroke-width="0.4"/>
<circle cx="302.4" cy="155.0" r="0.8" fill="none" stroke="#5a5a5a" stroke-width="0.4"/>
<circle cx="521.1" cy="154.9" r="0.8" fill="none" stroke="#5a5a5a" stroke-width="0.4"/>
<circle cx="263.1" cy="158.1" r="0.8" fill="none" stroke="#5a5a5a" stroke-width="0.4"/>
<circle cx="234.5" cy="156.7" r="0.8" fill="none" stroke="#5a5a5a" stroke-width="0.4"/>
<circle cx="233.0" cy="154.4" r="0.8" fill="none" stroke="#5a5a5a" stroke-width="0.4"/>
<circle cx="334.4" cy="153.3" r="0.8" fill="none" stroke="#5a5a5a" stroke-width="0.4"/>
<circle cx="247.7" cy="156.5" r="0.8" fill="none" stroke="#5a5a5a" stroke-width="0.4"/>
<circle cx="283.8" cy="158.0" r="0.8" fill="none" stroke="#5a5a5a" stroke-width="0.4"/>
<circle cx="261.8" cy="155.0" r="0.8" fill="none" stroke="#5a5a5a" stroke-width="0.4"/>
<circle cx="318.6" cy="154.2" r="0.8" fill="none" stroke="#5a5a5a" stroke-width="0.4"/>
<circle cx="405.6" cy="157.4" r="0.8" fill="none" stroke="#5a5a5a" stroke-width="0.4"/>
<circle cx="478.3" cy="156.4" r="0.8" fill="none" stroke="#5a5a5a" stroke-width="0.4"/>
<circle cx="443.7" cy="154.0" r="0.8" fill="none" stroke="#5a5a5a" stroke-width="0.4"/>
<circle cx="445.1" cy="155.7" r="0.8" fill="none" stroke="#5a5a5a" stroke-width="0.4"/>
<circle cx="458.1" cy="153.9" r="0.8" fill="none" stroke="#5a5a5a" stroke-width="0.4"/>
<circle cx="434.3" cy="156.3" r="0.8" fill="none" stroke="#5a5a5a" stroke-width="0.4"/>
<circle cx="484.8" cy="155.2" r="0.8" fill="none" stroke="#5a5a5a" stroke-width="0.4"/>
<circle cx="215.0" cy="155.8" r="0.8" fill="none" stroke="#5a5a5a" stroke-width="0.4"/>
<circle cx="368.7" cy="153.6" r="0.8" fill="none" stroke="#5a5a5a" stroke-width="0.4"/>
<circle cx="513.4" cy="154.2" r="0.8" fill="none" stroke="#5a5a5a" stroke-width="0.4"/>
<circle cx="457.7" cy="154.9" r="0.8" fill="none" stroke="#5a5a5a" stroke-width="0.4"/>
<circle cx="485.4" cy="154.5" r="0.8" fill="none" stroke="#5a5a5a" stroke-width="0.4"/>
<circle cx="354.5" cy="154.7" r="0.8" fill="none" stroke="#5a5a5a" stroke-width="0.4"/>
<circle cx="356.2" cy="155.4" r="0.8" fill="none" stroke="#5a5a5a" stroke-width="0.4"/>
<circle cx="335.3" cy="154.4" r="0.8" fill="none" stroke="#5a5a5a" stroke-width="0.4"/>
<circle cx="386.6" cy="154.6" r="0.8" fill="none" stroke="#5a5a5a" stroke-width="0.4"/>
<circle cx="458.7" cy="156.5" r="0.8" fill="none" stroke="#5a5a5a" stroke-width="0.4"/>
<circle cx="478.2" cy="154.0" r="0.8" fill="none" stroke="#5a5a5a" stroke-width="0.4"/>
<circle cx="271.0" cy="155.6" r="0.8" fill="none" stroke="#5a5a5a" stroke-width="0.4"/>
<circle cx="308.3" cy="156.8" r="0.8" fill="none" stroke="#5a5a5a" stroke-width="0.4"/>
<circle cx="394.7" cy="157.2" r="0.8" fill="none" stroke="#5a5a5a" stroke-width="0.4"/>
<circle cx="241.1" cy="156.8" r="0.8" fill="none" stroke="#5a5a5a" stroke-width="0.4"/>
<circle cx="476.2" cy="155.0" r="0.8" fill="none" stroke="#5a5a5a" stroke-width="0.4"/>
<circle cx="474.6" cy="156.6" r="0.8" fill="none" stroke="#5a5a5a" stroke-width="0.4"/>
<circle cx="346.5" cy="155.3" r="0.8" fill="none" stroke="#5a5a5a" stroke-width="0.4"/>
<circle cx="497.2" cy="156.1" r="0.8" fill="none" stroke="#5a5a5a" stroke-width="0.4"/>
<circle cx="389.6" cy="155.6" r="0.8" fill="none" stroke="#5a5a5a" stroke-width="0.4"/>
<circle cx="368.5" cy="157.9" r="0.8" fill="none" stroke="#5a5a5a" stroke-width="0.4"/>
<circle cx="381.3" cy="154.4" r="0.8" fill="none" stroke="#5a5a5a" stroke-width="0.4"/>
<circle cx="524.5" cy="153.8" r="0.8" fill="none" stroke="#5a5a5a" stroke-width="0.4"/>
<circle cx="427.0" cy="155.4" r="0.8" fill="none" stroke="#5a5a5a" stroke-width="0.4"/>
<circle cx="335.0" cy="154.3" r="0.8" fill="none" stroke="#5a5a5a" stroke-width="0.4"/>
<circle cx="323.0" cy="157.2" r="0.8" fill="none" stroke="#5a5a5a" stroke-width="0.4"/>
<circle cx="508.8" cy="154.8" r="0.8" fill="none" stroke="#5a5a5a" stroke-width="0.4"/>
<circle cx="244.5" cy="154.0" r="0.8" fill="none" stroke="#5a5a5a" stroke-width="0.4"/>
<circle cx="330.3" cy="154.0" r="0.8" fill="none" stroke="#5a5a5a" stroke-width="0.4"/>
<circle cx="392.4" cy="156.7" r="0.8" fill="none" stroke="#5a5a5a" stroke-width="0.4"/>
<circle cx="487.6" cy="157.3" r="0.8" fill="none" stroke="#5a5a5a" stroke-width="0.4"/>
<circle cx="350.7" cy="155.2" r="0.8" fill="none" stroke="#5a5a5a" stroke-width="0.4"/>
<circle cx="408.1" cy="157.0" r="0.8" fill="none" stroke="#5a5a5a" stroke-width="0.4"/>
<circle cx="378.7" cy="155.6" r="0.8" fill="none" stroke="#5a5a5a" stroke-width="0.4"/>
<circle cx="467.7" cy="156.2" r="0.8" fill="none" stroke="#5a5a5a" stroke-width="0.4"/>
<circle cx="518.3" cy="156.8" r="0.8" fill="none" stroke="#5a5a5a" stroke-width="0.4"/>
<circle cx="470.8" cy="154.9" r="0.8" fill="none" stroke="#5a5a5a" stroke-width="0.4"/>
<circle cx="492.2" cy="155.5" r="0.8" fill="none" stroke="#5a5a5a" stroke-width="0.4"/>
<circle cx="428.5" cy="157.6" r="0.8" fill="none" stroke="#5a5a5a" stroke-width="0.4"/>
<circle cx="490.2" cy="151.5" r="0.8" fill="none" stroke="#5a5a5a" stroke-width="0.4"/>
<circle cx="344.7" cy="156.3" r="0.8" fill="none" stroke="#5a5a5a" stroke-width="0.4"/>
<circle cx="373.0" cy="156.6" r="0.8" fill="none" stroke="#5a5a5a" stroke-width="0.4"/>
<circle cx="370.9" cy="156.0" r="0.8" fill="none" stroke="#5a5a5a" stroke-width="0.4"/>
<circle cx="409.8" cy="156.5" r="0.8" fill="none" stroke="#5a5a5a" stroke-width="0.4"/>
<circle cx="401.5" cy="152.7" r="0.8" fill="none" stroke="#5a5a5a" stroke-width="0.4"/>
<circle cx="411.8" cy="159.4" r="0.8" fill="none" stroke="#5a5a5a" stroke-width="0.4"/>
<circle cx="226.9" cy="153.4" r="0.8" fill="none" stroke="#5a5a5a" stroke-width="0.4"/>
<circle cx="309.2" cy="157.0" r="0.8" fill="none" stroke="#5a5a5a" stroke-width="0.4"/>
<circle cx="428.7" cy="156.9" r="0.8" fill="none" stroke="#5a5a5a" stroke-width="0.4"/>
<circle cx="475.9" cy="155.6" r="0.8" fill="none" stroke="#5a5a5a" stroke-width="0.4"/>
<circle cx="396.2" cy="155.1" r="0.8" fill="none" stroke="#5a5a5a" stroke-width="0.4"/>
<circle cx="368.7" cy="154.7" r="0.8" fill="none" stroke="#5a5a5a" stroke-width="0.4"/>
<circle cx="385.9" cy="155.4" r="0.8" fill="none" stroke="#5a5a5a" stroke-width="0.4"/>
<circle cx="379.2" cy="157.8" r="0.8" fill="none" stroke="#5a5a5a" stroke-width="0.4"/>
<circle cx="524.1" cy="154.2" r="0.8" fill="none" stroke="#5a5a5a" stroke-width="0.4"/>
<circle cx="251.5" cy="154.9" r="0.8" fill="none" stroke="#5a5a5a" stroke-width="0.4"/>
<circle cx="262.5" cy="155.6" r="0.8" fill="none" stroke="#5a5a5a" stroke-width="0.4"/>
<circle cx="244.9" cy="154.9" r="0.8" fill="none" stroke="#5a5a5a" stroke-width="0.4"/>
<circle cx="266.8" cy="152.8" r="0.8" fill="none" stroke="#5a5a5a" stroke-width="0.4"/>
<circle cx="404.5" cy="155.2" r="0.8" fill="none" stroke="#5a5a5a" stroke-width="0.4"/>
<circle cx="464.8" cy="155.8" r="0.8" fill="none" stroke="#5a5a5a" stroke-width="0.4"/>
<circle cx="453.6" cy="155.7" r="0.8" fill="none" stroke="#5a5a5a" stroke-width="0.4"/>
<circle cx="314.2" cy="155.3" r="0.8" fill="none" stroke="#5a5a5a" stroke-width="0.4"/>
<circle cx="266.4" cy="154.2" r="0.8" fill="none" stroke="#5a5a5a" stroke-width="0.4"/>
<circle cx="296.7" cy="158.2" r="0.8" fill="none" stroke="#5a5a5a" stroke-width="0.4"/>
<circle cx="395.0" cy="157.5" r="0.8" fill="none" stroke="#5a5a5a" stroke-width="0.4"/>
<circle cx="322.3" cy="154.2" r="0.8" fill="none" stroke="#5a5a5a" stroke-width="0.4"/>
<circle cx="230.7" cy="156.1" r="0.8" fill="none" stroke="#5a5a5a" stroke-width="0.4"/>
<circle cx="490.9" cy="152.3" r="0.8" fill="none" stroke="#5a5a5a" stroke-width="0.4"/>
<circle cx="350.6" cy="153.7" r="0.8" fill="none" stroke="#5a5a5a" stroke-width="0.4"/>
<circle cx="406.8" cy="155.6" r="0.8" fill="none" stroke="#5a5a5a" stroke-width="0.4"/>
<circle cx="503.5" cy="156.0" r="0.8" fill="none" stroke="#5a5a5a" stroke-width="0.4"/>
<circle cx="479.8" cy="154.3" r="0.8" fill="none" stroke="#5a5a5a" stroke-width="0.4"/>
<circle cx="467.7" cy="158.5" r="0.8" fill="none" stroke="#5a5a5a" stroke-width="0.4"/>
<circle cx="308.2" cy="152.6" r="0.8" fill="none" stroke="#5a5a5a" stroke-width="0.4"/>
<circle cx="368.0" cy="153.3" r="0.8" fill="none" stroke="#5a5a5a" stroke-width="0.4"/>
<circle cx="509.3" cy="155.7" r="0.8" fill="none" stroke="#5a5a5a" stroke-width="0.4"/>
<circle cx="437.4" cy="157.1" r="0.8" fill="none" stroke="#5a5a5a" stroke-width="0.4"/>
<circle cx="282.6" cy="154.5" r="0.8" fill="none" stroke="#5a5a5a" stroke-width="0.4"/>
<circle cx="364.5" cy="158.5" r="0.8" fill="none" stroke="#5a5a5a" stroke-width="0.4"/>
<circle cx="460.5" cy="155.6" r="0.8" fill="none" stroke="#5a5a5a" stroke-width="0.4"/>
<circle cx="325.3" cy="156.5" r="0.8" fill="none" stroke="#5a5a5a" stroke-width="0.4"/>
<circle cx="271.8" cy="156.8" r="0.8" fill="none" stroke="#5a5a5a" stroke-width="0.4"/>
<circle cx="388.5" cy="155.4" r="0.8" fill="none" stroke="#5a5a5a" stroke-width="0.4"/>
<circle cx="249.5" cy="154.2" r="0.8" fill="none" stroke="#5a5a5a" stroke-width="0.4"/>
<circle cx="339.2" cy="155.3" r="0.8" fill="none" stroke="#5a5a5a" stroke-width="0.4"/>
<circle cx="234.1" cy="157.6" r="0.8" fill="none" stroke="#5a5a5a" stroke-width="0.4"/>
<circle cx="323.0" cy="157.6" r="0.8" fill="none" stroke="#5a5a5a" stroke-width="0.4"/>
<circle cx="289.9" cy="156.0" r="0.8" fill="none" stroke="#5a5a5a" stroke-width="0.4"/>
<circle cx="287.5" cy="156.7" r="0.8" fill="none" stroke="#5a5a5a" stroke-width="0.4"/>
<circle cx="224.6" cy="154.9" r="0.8" fill="none" stroke="#5a5a5a" stroke-width="0.4"/>
<circle cx="262.2" cy="154.4" r="0.8" fill="none" stroke="#5a5a5a" stroke-width="0.4"/>
<circle cx="433.4" cy="156.6" r="0.8" fill="none" stroke="#5a5a5a" stroke-width="0.4"/>
<circle cx="473.6" cy="156.3" r="0.8" fill="none" stroke="#5a5a5a" stroke-width="0.4"/>
<circle cx="253.5" cy="152.9" r="0.8" fill="none" stroke="#5a5a5a" stroke-width="0.4"/>
<circle cx="464.3" cy="156.6" r="0.8" fill="none" stroke="#5a5a5a" stroke-width="0.4"/>
<circle cx="263.3" cy="154.2" r="0.8" fill="none" stroke="#5a5a5a" stroke-width="0.4"/>
<circle cx="331.0" cy="157.5" r="0.8" fill="none" stroke="#5a5a5a" stroke-width="0.4"/>
<circle cx="512.1" cy="156.6" r="0.8" fill="none" stroke="#5a5a5a" stroke-width="0.4"/>
<circle cx="370.9" cy="159.2" r="0.8" fill="none" stroke="#5a5a5a" stroke-width="0.4"/>
<circle cx="284.5" cy="154.8" r="0.8" fill="none" stroke="#5a5a5a" stroke-width="0.4"/>
<circle cx="433.6" cy="155.8" r="0.8" fill="none" stroke="#5a5a5a" stroke-width="0.4"/>
<circle cx="294.9" cy="157.2" r="0.8" fill="none" stroke="#5a5a5a" stroke-width="0.4"/>
<circle cx="328.3" cy="154.4" r="0.8" fill="none" stroke="#5a5a5a" stroke-width="0.4"/>
<circle cx="290.4" cy="154.8" r="0.8" fill="none" stroke="#5a5a5a" stroke-width="0.4"/>
<circle cx="485.3" cy="154.9" r="0.8" fill="none" stroke="#5a5a5a" stroke-width="0.4"/>
<circle cx="251.9" cy="153.7" r="0.8" fill="none" stroke="#5a5a5a" stroke-width="0.4"/>
<circle cx="297.9" cy="155.4" r="0.8" fill="none" stroke="#5a5a5a" stroke-width="0.4"/>
<circle cx="453.9" cy="154.0" r="0.8" fill="none" stroke="#5a5a5a" stroke-width="0.4"/>
<circle cx="390.4" cy="157.1" r="0.8" fill="none" stroke="#5a5a5a" stroke-width="0.4"/>
<circle cx="310.4" cy="155.1" r="0.8" fill="none" stroke="#5a5a5a" stroke-width="0.4"/>
<circle cx="268.8" cy="156.0" r="0.8" fill="none" stroke="#5a5a5a" stroke-width="0.4"/>
<circle cx="478.6" cy="154.6" r="0.8" fill="none" stroke="#5a5a5a" stroke-width="0.4"/>
<circle cx="247.6" cy="157.6" r="0.8" fill="none" stroke="#5a5a5a" stroke-width="0.4"/>
<circle cx="388.6" cy="154.5" r="0.8" fill="none" stroke="#5a5a5a" stroke-width="0.4"/>
<circle cx="306.1" cy="157.0" r="0.8" fill="none" stroke="#5a5a5a" stroke-width="0.4"/>
<circle cx="234.2" cy="155.2" r="0.8" fill="none" stroke="#5a5a5a" stroke-width="0.4"/>
<circle cx="253.0" cy="156.6" r="0.8" fill="none" stroke="#5a5a5a" stroke-width="0.4"/>
<circle cx="436.8" cy="155.3" r="0.8" fill="none" stroke="#5a5a5a" stroke-width="0.4"/>
<circle cx="496.6" cy="157.1" r="0.8" fill="none" stroke="#5a5a5a" stroke-width="0.4"/>
<circle cx="455.0" cy="157.8" r="0.8" fill="none" stroke="#5a5a5a" stroke-width="0.4"/>
<circle cx="254.8" cy="153.6" r="0.8" fill="none" stroke="#5a5a5a" stroke-width="0.4"/>
<circle cx="299.8" cy="157.8" r="0.8" fill="none" stroke="#5a5a5a" stroke-width="0.4"/>
<circle cx="420.3" cy="156.0" r="0.8" fill="none" stroke="#5a5a5a" stroke-width="0.4"/>
<circle cx="323.1" cy="153.7" r="0.8" fill="none" stroke="#5a5a5a" stroke-width="0.4"/>
<circle cx="431.4" cy="156.7" r="0.8" fill="none" stroke="#5a5a5a" stroke-width="0.4"/>
<circle cx="291.0" cy="156.4" r="0.8" fill="none" stroke="#5a5a5a" stroke-width="0.4"/>
<circle cx="409.5" cy="154.5" r="0.8" fill="none" stroke="#5a5a5a" stroke-width="0.4"/>
<circle cx="270.2" cy="158.1" r="0.8" fill="none" stroke="#5a5a5a" stroke-width="0.4"/>
<circle cx="442.2" cy="157.8" r="0.8" fill="none" stroke="#5a5a5a" stroke-width="0.4"/>
<circle cx="435.5" cy="156.0" r="0.8" fill="none" stroke="#5a5a5a" stroke-width="0.4"/>
<circle cx="264.1" cy="155.7" r="0.8" fill="none" stroke="#5a5a5a" stroke-width="0.4"/>
<circle cx="275.4" cy="155.1" r="0.8" fill="none" stroke="#5a5a5a" stroke-width="0.4"/>
<circle cx="225.9" cy="157.0" r="0.8" fill="none" stroke="#5a5a5a" stroke-width="0.4"/>
<circle cx="310.5" cy="155.0" r="0.8" fill="none" stroke="#5a5a5a" stroke-width="0.4"/>
<circle cx="475.0" cy="154.9" r="0.8" fill="none" stroke="#5a5a5a" stroke-width="0.4"/>
<circle cx="391.2" cy="155.4" r="0.8" fill="none" stroke="#5a5a5a" stroke-width="0.4"/>
<circle cx="349.1" cy="154.5" r="0.8" fill="none" stroke="#5a5a5a" stroke-width="0.4"/>
<circle cx="426.7" cy="155.6" r="0.8" fill="none" stroke="#5a5a5a" stroke-width="0.4"/>
<circle cx="473.4" cy="155.7" r="0.8" fill="none" stroke="#5a5a5a" stroke-width="0.4"/>
<circle cx="455.4" cy="155.5" r="0.8" fill="none" stroke="#5a5a5a" stroke-width="0.4"/>
<circle cx="479.6" cy="156.0" r="0.8" fill="none" stroke="#5a5a5a" stroke-width="0.4"/>
<circle cx="402.8" cy="156.7" r="0.8" fill="none" stroke="#5a5a5a" stroke-width="0.4"/>
<circle cx="248.3" cy="155.9" r="0.8" fill="none" stroke="#5a5a5a" stroke-width="0.4"/>
<circle cx="460.1" cy="156.4" r="0.8" fill="none" stroke="#5a5a5a" stroke-width="0.4"/>
<circle cx="447.0" cy="158.8" r="0.8" fill="none" stroke="#5a5a5a" stroke-width="0.4"/>
<circle cx="240.5" cy="155.1" r="0.8" fill="none" stroke="#5a5a5a" stroke-width="0.4"/>
<circle cx="446.4" cy="154.2" r="0.8" fill="none" stroke="#5a5a5a" stroke-width="0.4"/>
<circle cx="471.7" cy="155.5" r="0.8" fill="none" stroke="#5a5a5a" stroke-width="0.4"/>
<circle cx="508.3" cy="156.2" r="0.8" fill="none" stroke="#5a5a5a" stroke-width="0.4"/>
<circle cx="345.7" cy="157.7" r="0.8" fill="none" stroke="#5a5a5a" stroke-width="0.4"/>
<circle cx="443.6" cy="154.6" r="0.8" fill="none" stroke="#5a5a5a" stroke-width="0.4"/>
<circle cx="472.1" cy="154.5" r="0.8" fill="none" stroke="#5a5a5a" stroke-width="0.4"/>
<circle cx="230.6" cy="154.4" r="0.8" fill="none" stroke="#5a5a5a" stroke-width="0.4"/>
<circle cx="431.1" cy="154.0" r="0.8" fill="none" stroke="#5a5a5a" stroke-width="0.4"/>
<circle cx="502.6" cy="156.4" r="0.8" fill="none" stroke="#5a5a5a" stroke-width="0.4"/>
<circle cx="253.4" cy="155.6" r="0.8" fill="none" stroke="#5a5a5a" stroke-width="0.4"/>
<circle cx="432.5" cy="155.2" r="0.8" fill="none" stroke="#5a5a5a" stroke-width="0.4"/>
<circle cx="464.5" cy="155.5" r="0.8" fill="none" stroke="#5a5a5a" stroke-width="0.4"/>
<circle cx="515.5" cy="157.5" r="0.8" fill="none" stroke="#5a5a5a" stroke-width="0.4"/>
<circle cx="412.2" cy="154.5" r="0.8" fill="none" stroke="#5a5a5a" stroke-width="0.4"/>
<circle cx="232.2" cy="155.3" r="0.8" fill="none" stroke="#5a5a5a" stroke-width="0.4"/>
<circle cx="325.1" cy="154.7" r="0.8" fill="none" stroke="#5a5a5a" stroke-width="0.4"/>
<circle cx="310.4" cy="156.1" r="0.8" fill="none" stroke="#5a5a5a" stroke-width="0.4"/>
<circle cx="256.2" cy="155.0" r="0.8" fill="none" stroke="#5a5a5a" stroke-width="0.4"/>
<circle cx="287.7" cy="153.4" r="0.8" fill="none" stroke="#5a5a5a" stroke-width="0.4"/>
<circle cx="288.9" cy="154.0" r="0.8" fill="none" stroke="#5a5a5a" stroke-width="0.4"/>
<circle cx="505.0" cy="155.4" r="0.8" fill="none" stroke="#5a5a5a" stroke-width="0.4"/>
<circle cx="323.1" cy="154.6" r="0.8" fill="none" stroke="#5a5a5a" stroke-width="0.4"/>
<circle cx="257.9" cy="158.6" r="0.8" fill="none" stroke="#5a5a5a" stroke-width="0.4"/>
<circle cx="389.0" cy="154.2" r="0.8" fill="none" stroke="#5a5a5a" stroke-width="0.4"/>
<circle cx="384.4" cy="158.0" r="0.8" fill="none" stroke="#5a5a5a" stroke-width="0.4"/>
<circle cx="450.4" cy="156.7" r="0.8" fill="none" stroke="#5a5a5a" stroke-width="0.4"/>
<circle cx="400.1" cy="157.5" r="0.8" fill="none" stroke="#5a5a5a" stroke-width="0.4"/>
<circle cx="357.3" cy="155.9" r="0.8" fill="none" stroke="#5a5a5a" stroke-width="0.4"/>
<circle cx="249.3" cy="152.8" r="0.8" fill="none" stroke="#5a5a5a" stroke-width="0.4"/>
<circle cx="303.8" cy="154.9" r="0.8" fill="none" stroke="#5a5a5a" stroke-width="0.4"/>
<circle cx="232.5" cy="156.4" r="0.8" fill="none" stroke="#5a5a5a" stroke-width="0.4"/>
<circle cx="301.1" cy="156.4" r="0.8" fill="none" stroke="#5a5a5a" stroke-width="0.4"/>
<circle cx="353.2" cy="157.8" r="0.8" fill="none" stroke="#5a5a5a" stroke-width="0.4"/>
<circle cx="248.9" cy="154.8" r="0.8" fill="none" stroke="#5a5a5a" stroke-width="0.4"/>
<circle cx="326.7" cy="157.1" r="0.8" fill="none" stroke="#5a5a5a" stroke-width="0.4"/>
<circle cx="266.0" cy="155.8" r="0.8" fill="none" stroke="#5a5a5a" stroke-width="0.4"/>
<circle cx="522.5" cy="155.7" r="0.8" fill="none" stroke="#5a5a5a" stroke-width="0.4"/>
<circle cx="447.3" cy="157.7" r="0.8" fill="none" stroke="#5a5a5a" stroke-width="0.4"/>
<circle cx="518.8" cy="156.8" r="0.8" fill="none" stroke="#5a5a5a" stroke-width="0.4"/>
<circle cx="389.2" cy="156.9" r="0.8" fill="none" stroke="#5a5a5a" stroke-width="0.4"/>
<circle cx="348.9" cy="156.7" r="0.8" fill="none" stroke="#5a5a5a" stroke-width="0.4"/>
<circle cx="272.8" cy="155.4" r="0.8" fill="none" stroke="#5a5a5a" stroke-width="0.4"/>
<circle cx="500.0" cy="155.5" r="0.8" fill="none" stroke="#5a5a5a" stroke-width="0.4"/>
<circle cx="414.3" cy="153.2" r="0.8" fill="none" stroke="#5a5a5a" stroke-width="0.4"/>
<circle cx="416.9" cy="153.1" r="0.8" fill="none" stroke="#5a5a5a" stroke-width="0.4"/>
<circle cx="292.0" cy="155.6" r="0.8" fill="none" stroke="#5a5a5a" stroke-width="0.4"/>
<circle cx="222.3" cy="156.4" r="0.8" fill="none" stroke="#5a5a5a" stroke-width="0.4"/>
<circle cx="454.8" cy="156.3" r="0.8" fill="none" stroke="#5a5a5a" stroke-width="0.4"/>
<circle cx="271.5" cy="154.5" r="0.8" fill="none" stroke="#5a5a5a" stroke-width="0.4"/>
<circle cx="412.3" cy="157.5" r="0.8" fill="none" stroke="#5a5a5a" stroke-width="0.4"/>
<circle cx="266.1" cy="152.8" r="0.8" fill="none" stroke="#5a5a5a" stroke-width="0.4"/>
<circle cx="458.0" cy="156.8" r="0.8" fill="none" stroke="#5a5a5a" stroke-width="0.4"/>
<circle cx="315.4" cy="153.4" r="0.8" fill="none" stroke="#5a5a5a" stroke-width="0.4"/>
<circle cx="271.1" cy="156.2" r="0.8" fill="none" stroke="#5a5a5a" stroke-width="0.4"/>
<circle cx="328.4" cy="154.4" r="0.8" fill="none" stroke="#5a5a5a" stroke-width="0.4"/>
<circle cx="385.3" cy="153.7" r="0.8" fill="none" stroke="#5a5a5a" stroke-width="0.4"/>
<circle cx="288.2" cy="157.7" r="0.8" fill="none" stroke="#5a5a5a" stroke-width="0.4"/>
<circle cx="226.5" cy="153.7" r="0.8" fill="none" stroke="#5a5a5a" stroke-width="0.4"/>
<circle cx="468.9" cy="154.7" r="0.8" fill="none" stroke="#5a5a5a" stroke-width="0.4"/>
<circle cx="433.3" cy="158.6" r="0.8" fill="none" stroke="#5a5a5a" stroke-width="0.4"/>
<circle cx="367.6" cy="153.6" r="0.8" fill="none" stroke="#5a5a5a" stroke-width="0.4"/>
<circle cx="369.2" cy="156.3" r="0.8" fill="none" stroke="#5a5a5a" stroke-width="0.4"/>
<circle cx="394.6" cy="156.7" r="0.8" fill="none" stroke="#5a5a5a" stroke-width="0.4"/>
<circle cx="238.7" cy="155.3" r="0.8" fill="none" stroke="#5a5a5a" stroke-width="0.4"/>
<circle cx="351.7" cy="154.8" r="0.8" fill="none" stroke="#5a5a5a" stroke-width="0.4"/>
<circle cx="515.6" cy="156.0" r="0.8" fill="none" stroke="#5a5a5a" stroke-width="0.4"/>
<circle cx="350.5" cy="155.8" r="0.8" fill="none" stroke="#5a5a5a" stroke-width="0.4"/>
<circle cx="273.1" cy="155.6" r="0.8" fill="none" stroke="#5a5a5a" stroke-width="0.4"/>
<circle cx="475.4" cy="155.5" r="0.8" fill="none" stroke="#5a5a5a" stroke-width="0.4"/>
<circle cx="480.0" cy="156.0" r="0.8" fill="none" stroke="#5a5a5a" stroke-width="0.4"/>
<circle cx="301.9" cy="154.1" r="0.8" fill="none" stroke="#5a5a5a" stroke-width="0.4"/>
<circle cx="419.7" cy="154.0" r="0.8" fill="none" stroke="#5a5a5a" stroke-width="0.4"/>
<circle cx="319.1" cy="155.5" r="0.8" fill="none" stroke="#5a5a5a" stroke-width="0.4"/>
<circle cx="350.3" cy="154.2" r="0.8" fill="none" stroke="#5a5a5a" stroke-width="0.4"/>
<circle cx="495.1" cy="153.2" r="0.8" fill="none" stroke="#5a5a5a" stroke-width="0.4"/>
<circle cx="264.9" cy="155.1" r="0.8" fill="none" stroke="#5a5a5a" stroke-width="0.4"/>
<circle cx="389.1" cy="157.2" r="0.8" fill="none" stroke="#5a5a5a" stroke-width="0.4"/>
<circle cx="322.1" cy="155.8" r="0.8" fill="none" stroke="#5a5a5a" stroke-width="0.4"/>
<circle cx="314.5" cy="156.2" r="0.8" fill="none" stroke="#5a5a5a" stroke-width="0.4"/>
<circle cx="357.0" cy="158.8" r="0.8" fill="none" stroke="#5a5a5a" stroke-width="0.4"/>
<circle cx="483.1" cy="155.0" r="0.8" fill="none" stroke="#5a5a5a" stroke-width="0.4"/>
<circle cx="517.0" cy="157.6" r="0.8" fill="none" stroke="#5a5a5a" stroke-width="0.4"/>
<circle cx="466.2" cy="155.1" r="0.8" fill="none" stroke="#5a5a5a" stroke-width="0.4"/>
<circle cx="232.4" cy="154.7" r="0.8" fill="none" stroke="#5a5a5a" stroke-width="0.4"/>
<circle cx="306.2" cy="153.8" r="0.8" fill="none" stroke="#5a5a5a" stroke-width="0.4"/>
<circle cx="391.5" cy="157.2" r="0.8" fill="none" stroke="#5a5a5a" stroke-width="0.4"/>
<circle cx="415.2" cy="155.1" r="0.8" fill="none" stroke="#5a5a5a" stroke-width="0.4"/>
<circle cx="306.9" cy="153.9" r="0.8" fill="none" stroke="#5a5a5a" stroke-width="0.4"/>
<circle cx="222.4" cy="158.2" r="0.8" fill="none" stroke="#5a5a5a" stroke-width="0.4"/>
<circle cx="272.5" cy="154.9" r="0.8" fill="none" stroke="#5a5a5a" stroke-width="0.4"/>
<circle cx="240.2" cy="154.1" r="0.8" fill="none" stroke="#5a5a5a" stroke-width="0.4"/>
<circle cx="419.3" cy="154.2" r="0.8" fill="none" stroke="#5a5a5a" stroke-width="0.4"/>
<circle cx="343.3" cy="157.0" r="0.8" fill="none" stroke="#5a5a5a" stroke-width="0.4"/>
<circle cx="378.7" cy="154.2" r="0.8" fill="none" stroke="#5a5a5a" stroke-width="0.4"/>
<circle cx="249.3" cy="155.0" r="0.8" fill="none" stroke="#5a5a5a" stroke-width="0.4"/>
<circle cx="269.9" cy="157.1" r="0.8" fill="none" stroke="#5a5a5a" stroke-width="0.4"/>
<circle cx="248.7" cy="154.4" r="0.8" fill="none" stroke="#5a5a5a" stroke-width="0.4"/>
<circle cx="482.1" cy="155.6" r="0.8" fill="none" stroke="#5a5a5a" stroke-width="0.4"/>
<circle cx="378.9" cy="156.3" r="0.8" fill="none" stroke="#5a5a5a" stroke-width="0.4"/>
<circle cx="292.0" cy="153.7" r="0.8" fill="none" stroke="#5a5a5a" stroke-width="0.4"/>
<circle cx="284.2" cy="155.7" r="0.8" fill="none" stroke="#5a5a5a" stroke-width="0.4"/>
<circle cx="392.0" cy="157.0" r="0.8" fill="none" stroke="#5a5a5a" stroke-width="0.4"/>
<circle cx="396.9" cy="156.8" r="0.8" fill="none" stroke="#5a5a5a" stroke-width="0.4"/>
<circle cx="238.7" cy="155.1" r="0.8" fill="none" stroke="#5a5a5a" stroke-width="0.4"/>
<circle cx="350.5" cy="155.9" r="0.8" fill="none" stroke="#5a5a5a" stroke-width="0.4"/>
<circle cx="482.5" cy="153.3" r="0.8" fill="none" stroke="#5a5a5a" stroke-width="0.4"/>
<circle cx="449.3" cy="154.9" r="0.8" fill="none" stroke="#5a5a5a" stroke-width="0.4"/>
<circle cx="249.4" cy="158.0" r="0.8" fill="none" stroke="#5a5a5a" stroke-width="0.4"/>
<circle cx="245.5" cy="155.5" r="0.8" fill="none" stroke="#5a5a5a" stroke-width="0.4"/>
<circle cx="472.1" cy="154.9" r="0.8" fill="none" stroke="#5a5a5a" stroke-width="0.4"/>
<circle cx="512.6" cy="156.2" r="0.8" fill="none" stroke="#5a5a5a" stroke-width="0.4"/>
<circle cx="389.0" cy="155.7" r="0.8" fill="none" stroke="#5a5a5a" stroke-width="0.4"/>
<circle cx="455.3" cy="154.8" r="0.8" fill="none" stroke="#5a5a5a" stroke-width="0.4"/>
<circle cx="231.6" cy="155.7" r="0.8" fill="none" stroke="#5a5a5a" stroke-width="0.4"/>
<circle cx="218.4" cy="157.0" r="0.8" fill="none" stroke="#5a5a5a" stroke-width="0.4"/>
<circle cx="398.7" cy="155.9" r="0.8" fill="none" stroke="#5a5a5a" stroke-width="0.4"/>
<circle cx="433.9" cy="156.8" r="0.8" fill="none" stroke="#5a5a5a" stroke-width="0.4"/>
<circle cx="346.3" cy="157.2" r="0.8" fill="none" stroke="#5a5a5a" stroke-width="0.4"/>
<circle cx="485.2" cy="154.3" r="0.8" fill="none" stroke="#5a5a5a" stroke-width="0.4"/>
<circle cx="388.9" cy="158.2" r="0.8" fill="none" stroke="#5a5a5a" stroke-width="0.4"/>
<circle cx="266.0" cy="154.1" r="0.8" fill="none" stroke="#5a5a5a" stroke-width="0.4"/>
<circle cx="445.8" cy="154.2" r="0.8" fill="none" stroke="#5a5a5a" stroke-width="0.4"/>
<circle cx="425.5" cy="157.7" r="0.8" fill="none" stroke="#5a5a5a" stroke-width="0.4"/>
<circle cx="470.7" cy="156.6" r="0.8" fill="none" stroke="#5a5a5a" stroke-width="0.4"/>
<circle cx="443.2" cy="156.6" r="0.8" fill="none" stroke="#5a5a5a" stroke-width="0.4"/>
<circle cx="508.8" cy="155.5" r="0.8" fill="none" stroke="#5a5a5a" stroke-width="0.4"/>
<circle cx="401.7" cy="155.2" r="0.8" fill="none" stroke="#5a5a5a" stroke-width="0.4"/>
<circle cx="244.7" cy="153.0" r="0.8" fill="none" stroke="#5a5a5a" stroke-width="0.4"/>
<circle cx="248.9" cy="154.8" r="0.8" fill="none" stroke="#5a5a5a" stroke-width="0.4"/>
<circle cx="501.8" cy="155.1" r="0.8" fill="none" stroke="#5a5a5a" stroke-width="0.4"/>
<circle cx="273.8" cy="154.6" r="0.8" fill="none" stroke="#5a5a5a" stroke-width="0.4"/>
<circle cx="352.8" cy="156.6" r="0.8" fill="none" stroke="#5a5a5a" stroke-width="0.4"/>
<circle cx="249.1" cy="153.9" r="0.8" fill="none" stroke="#5a5a5a" stroke-width="0.4"/>
<circle cx="220.2" cy="157.7" r="0.8" fill="none" stroke="#5a5a5a" stroke-width="0.4"/>
<circle cx="271.4" cy="157.3" r="0.8" fill="none" stroke="#5a5a5a" stroke-width="0.4"/>
<circle cx="386.2" cy="155.0" r="0.8" fill="none" stroke="#5a5a5a" stroke-width="0.4"/>
<circle cx="332.2" cy="157.8" r="0.8" fill="none" stroke="#5a5a5a" stroke-width="0.4"/>
<circle cx="258.6" cy="156.9" r="0.8" fill="none" stroke="#5a5a5a" stroke-width="0.4"/>
<circle cx="428.3" cy="154.3" r="0.8" fill="none" stroke="#5a5a5a" stroke-width="0.4"/>
<circle cx="465.3" cy="155.8" r="0.8" fill="none" stroke="#5a5a5a" stroke-width="0.4"/>
<circle cx="320.3" cy="155.5" r="0.8" fill="none" stroke="#5a5a5a" stroke-width="0.4"/>
<circle cx="260.7" cy="152.6" r="0.8" fill="none" stroke="#5a5a5a" stroke-width="0.4"/>
<circle cx="462.9" cy="155.6" r="0.8" fill="none" stroke="#5a5a5a" stroke-width="0.4"/>
<circle cx="224.7" cy="156.7" r="0.8" fill="none" stroke="#5a5a5a" stroke-width="0.4"/>
<circle cx="425.2" cy="158.1" r="0.8" fill="none" stroke="#5a5a5a" stroke-width="0.4"/>
<circle cx="335.9" cy="154.7" r="0.8" fill="none" stroke="#5a5a5a" stroke-width="0.4"/>
<circle cx="476.8" cy="155.7" r="0.8" fill="none" stroke="#5a5a5a" stroke-width="0.4"/>
<circle cx="336.2" cy="157.0" r="0.8" fill="none" stroke="#5a5a5a" stroke-width="0.4"/>
<circle cx="237.3" cy="154.1" r="0.8" fill="none" stroke="#5a5a5a" stroke-width="0.4"/>
<circle cx="316.2" cy="156.3" r="0.8" fill="none" stroke="#5a5a5a" stroke-width="0.4"/>
<circle cx="397.1" cy="158.7" r="0.8" fill="none" stroke="#5a5a5a" stroke-width="0.4"/>
<circle cx="227.3" cy="156.3" r="0.8" fill="none" stroke="#5a5a5a" stroke-width="0.4"/>
<circle cx="359.3" cy="156.8" r="0.8" fill="none" stroke="#5a5a5a" stroke-width="0.4"/>
<circle cx="393.3" cy="154.5" r="0.8" fill="none" stroke="#5a5a5a" stroke-width="0.4"/>
<circle cx="215.6" cy="156.5" r="0.8" fill="none" stroke="#5a5a5a" stroke-width="0.4"/>
<circle cx="394.0" cy="155.4" r="0.8" fill="none" stroke="#5a5a5a" stroke-width="0.4"/>
<circle cx="356.7" cy="155.9" r="0.8" fill="none" stroke="#5a5a5a" stroke-width="0.4"/>
<circle cx="520.8" cy="156.4" r="0.8" fill="none" stroke="#5a5a5a" stroke-width="0.4"/>
<circle cx="422.6" cy="155.8" r="0.8" fill="none" stroke="#5a5a5a" stroke-width="0.4"/>
<circle cx="298.6" cy="155.3" r="0.8" fill="none" stroke="#5a5a5a" stroke-width="0.4"/>
<circle cx="295.3" cy="157.3" r="0.8" fill="none" stroke="#5a5a5a" stroke-width="0.4"/>
<circle cx="390.8" cy="151.9" r="0.8" fill="none" stroke="#5a5a5a" stroke-width="0.4"/>
<circle cx="522.6" cy="154.9" r="0.8" fill="none" stroke="#5a5a5a" stroke-width="0.4"/>
<circle cx="224.3" cy="153.2" r="0.8" fill="none" stroke="#5a5a5a" stroke-width="0.4"/>
<circle cx="485.3" cy="154.6" r="0.8" fill="none" stroke="#5a5a5a" stroke-width="0.4"/>
<circle cx="454.7" cy="154.2" r="0.8" fill="none" stroke="#5a5a5a" stroke-width="0.4"/>
<circle cx="326.7" cy="154.0" r="0.8" fill="none" stroke="#5a5a5a" stroke-width="0.4"/>
<circle cx="301.4" cy="156.5" r="0.8" fill="none" stroke="#5a5a5a" stroke-width="0.4"/>
<circle cx="505.9" cy="152.7" r="0.8" fill="none" stroke="#5a5a5a" stroke-width="0.4"/>
<circle cx="425.8" cy="154.8" r="0.8" fill="none" stroke="#5a5a5a" stroke-width="0.4"/>
<circle cx="443.9" cy="158.0" r="0.8" fill="none" stroke="#5a5a5a" stroke-width="0.4"/>
<circle cx="372.1" cy="154.7" r="0.8" fill="none" stroke="#5a5a5a" stroke-width="0.4"/>
<circle cx="385.1" cy="154.6" r="0.8" fill="none" stroke="#5a5a5a" stroke-width="0.4"/>
<circle cx="340.1" cy="156.9" r="0.8" fill="none" stroke="#5a5a5a" stroke-width="0.4"/>
<circle cx="314.3" cy="156.1" r="0.8" fill="none" stroke="#5a5a5a" stroke-width="0.4"/>
<circle cx="521.4" cy="154.2" r="0.8" fill="none" stroke="#5a5a5a" stroke-width="0.4"/>
<circle cx="289.5" cy="155.8" r="0.8" fill="none" stroke="#5a5a5a" stroke-width="0.4"/>
<circle cx="286.8" cy="155.1" r="0.8" fill="none" stroke="#5a5a5a" stroke-width="0.4"/>
<circle cx="216.0" cy="156.3" r="0.8" fill="none" stroke="#5a5a5a" stroke-width="0.4"/>
<circle cx="484.8" cy="154.0" r="0.8" fill="none" stroke="#5a5a5a" stroke-width="0.4"/>
<circle cx="390.7" cy="156.1" r="0.8" fill="none" stroke="#5a5a5a" stroke-width="0.4"/>
<circle cx="307.8" cy="155.9" r="0.8" fill="none" stroke="#5a5a5a" stroke-width="0.4"/>
<circle cx="307.6" cy="156.1" r="0.8" fill="none" stroke="#5a5a5a" stroke-width="0.4"/>
<circle cx="309.7" cy="155.3" r="0.8" fill="none" stroke="#5a5a5a" stroke-width="0.4"/>
<circle cx="505.5" cy="153.7" r="0.8" fill="none" stroke="#5a5a5a" stroke-width="0.4"/>
<circle cx="319.7" cy="157.3" r="0.8" fill="none" stroke="#5a5a5a" stroke-width="0.4"/>
<circle cx="238.6" cy="154.7" r="0.8" fill="none" stroke="#5a5a5a" stroke-width="0.4"/>
<circle cx="269.3" cy="151.7" r="0.8" fill="none" stroke="#5a5a5a" stroke-width="0.4"/>
<circle cx="324.8" cy="153.4" r="0.8" fill="none" stroke="#5a5a5a" stroke-width="0.4"/>
<circle cx="454.8" cy="152.9" r="0.8" fill="none" stroke="#5a5a5a" stroke-width="0.4"/>
<circle cx="234.8" cy="156.9" r="0.8" fill="none" stroke="#5a5a5a" stroke-width="0.4"/>
<circle cx="364.5" cy="156.6" r="0.8" fill="none" stroke="#5a5a5a" stroke-width="0.4"/>
<circle cx="293.9" cy="154.9" r="0.8" fill="none" stroke="#5a5a5a" stroke-width="0.4"/>
<circle cx="220.9" cy="156.2" r="0.8" fill="none" stroke="#5a5a5a" stroke-width="0.4"/>
<circle cx="433.0" cy="156.6" r="0.8" fill="none" stroke="#5a5a5a" stroke-width="0.4"/>
<circle cx="281.7" cy="154.8" r="0.8" fill="none" stroke="#5a5a5a" stroke-width="0.4"/>
<circle cx="401.4" cy="156.2" r="0.8" fill="none" stroke="#5a5a5a" stroke-width="0.4"/>
<circle cx="482.7" cy="155.0" r="0.8" fill="none" stroke="#5a5a5a" stroke-width="0.4"/>
<circle cx="442.2" cy="154.8" r="0.8" fill="none" stroke="#5a5a5a" stroke-width="0.4"/>
<circle cx="513.5" cy="155.1" r="0.8" fill="none" stroke="#5a5a5a" stroke-width="0.4"/>
<circle cx="465.7" cy="155.2" r="0.8" fill="none" stroke="#5a5a5a" stroke-width="0.4"/>
<circle cx="486.2" cy="155.2" r="0.8" fill="none" stroke="#5a5a5a" stroke-width="0.4"/>
<circle cx="272.3" cy="156.3" r="0.8" fill="none" stroke="#5a5a5a" stroke-width="0.4"/>
<circle cx="380.8" cy="157.1" r="0.8" fill="none" stroke="#5a5a5a" stroke-width="0.4"/>
<circle cx="501.0" cy="154.1" r="0.8" fill="none" stroke="#5a5a5a" stroke-width="0.4"/>
<circle cx="279.8" cy="154.4" r="0.8" fill="none" stroke="#5a5a5a" stroke-width="0.4"/>
<circle cx="415.7" cy="157.8" r="0.8" fill="none" stroke="#5a5a5a" stroke-width="0.4"/>
<circle cx="339.9" cy="155.0" r="0.8" fill="none" stroke="#5a5a5a" stroke-width="0.4"/>
<circle cx="231.6" cy="154.4" r="0.8" fill="none" stroke="#5a5a5a" stroke-width="0.4"/>
<circle cx="342.7" cy="157.6" r="0.8" fill="none" stroke="#5a5a5a" stroke-width="0.4"/>
<circle cx="317.8" cy="156.2" r="0.8" fill="none" stroke="#5a5a5a" stroke-width="0.4"/>
<circle cx="367.6" cy="154.7" r="0.8" fill="none" stroke="#5a5a5a" stroke-width="0.4"/>
<circle cx="357.9" cy="154.9" r="0.8" fill="none" stroke="#5a5a5a" stroke-width="0.4"/>
<circle cx="217.9" cy="157.3" r="0.8" fill="none" stroke="#5a5a5a" stroke-width="0.4"/>
<circle cx="521.1" cy="154.7" r="0.8" fill="none" stroke="#5a5a5a" stroke-width="0.4"/>
<circle cx="231.1" cy="153.8" r="0.8" fill="none" stroke="#5a5a5a" stroke-width="0.4"/>
<circle cx="316.2" cy="154.0" r="0.8" fill="none" stroke="#5a5a5a" stroke-width="0.4"/>
<circle cx="242.8" cy="156.1" r="0.8" fill="none" stroke="#5a5a5a" stroke-width="0.4"/>
<circle cx="452.5" cy="156.3" r="0.8" fill="none" stroke="#5a5a5a" stroke-width="0.4"/>
<circle cx="241.7" cy="156.2" r="0.8" fill="none" stroke="#5a5a5a" stroke-width="0.4"/>
<circle cx="381.4" cy="154.2" r="0.8" fill="none" stroke="#5a5a5a" stroke-width="0.4"/>
<circle cx="396.9" cy="153.5" r="0.8" fill="none" stroke="#5a5a5a" stroke-width="0.4"/>
<circle cx="401.0" cy="154.9" r="0.8" fill="none" stroke="#5a5a5a" stroke-width="0.4"/>
<circle cx="316.7" cy="155.5" r="0.8" fill="none" stroke="#5a5a5a" stroke-width="0.4"/>
<circle cx="435.2" cy="154.4" r="0.8" fill="none" stroke="#5a5a5a" stroke-width="0.4"/>
<circle cx="451.3" cy="155.8" r="0.8" fill="none" stroke="#5a5a5a" stroke-width="0.4"/>
<circle cx="454.2" cy="154.3" r="0.8" fill="none" stroke="#5a5a5a" stroke-width="0.4"/>
<circle cx="518.0" cy="154.4" r="0.8" fill="none" stroke="#5a5a5a" stroke-width="0.4"/>
<circle cx="376.6" cy="156.0" r="0.8" fill="none" stroke="#5a5a5a" stroke-width="0.4"/>
<circle cx="506.6" cy="155.7" r="0.8" fill="none" stroke="#5a5a5a" stroke-width="0.4"/>
<circle cx="361.8" cy="155.7" r="0.8" fill="none" stroke="#5a5a5a" stroke-width="0.4"/>
<circle cx="417.7" cy="155.8" r="0.8" fill="none" stroke="#5a5a5a" stroke-width="0.4"/>
<circle cx="521.7" cy="154.2" r="0.8" fill="none" stroke="#5a5a5a" stroke-width="0.4"/>
<circle cx="284.7" cy="155.6" r="0.8" fill="none" stroke="#5a5a5a" stroke-width="0.4"/>
<circle cx="222.4" cy="154.9" r="0.8" fill="none" stroke="#5a5a5a" stroke-width="0.4"/>
<circle cx="255.5" cy="157.2" r="0.8" fill="none" stroke="#5a5a5a" stroke-width="0.4"/>
<circle cx="386.5" cy="156.3" r="0.8" fill="none" stroke="#5a5a5a" stroke-width="0.4"/>
<circle cx="270.3" cy="156.9" r="0.8" fill="none" stroke="#5a5a5a" stroke-width="0.4"/>
<circle cx="260.2" cy="155.1" r="0.8" fill="none" stroke="#5a5a5a" stroke-width="0.4"/>
<circle cx="268.9" cy="155.3" r="0.8" fill="none" stroke="#5a5a5a" stroke-width="0.4"/>
<circle cx="264.2" cy="152.2" r="0.8" fill="none" stroke="#5a5a5a" stroke-width="0.4"/>
<circle cx="222.7" cy="155.8" r="0.8" fill="none" stroke="#5a5a5a" stroke-width="0.4"/>
<circle cx="519.5" cy="154.5" r="0.8" fill="none" stroke="#5a5a5a" stroke-width="0.4"/>
<circle cx="369.0" cy="154.7" r="0.8" fill="none" stroke="#5a5a5a" stroke-width="0.4"/>
<circle cx="462.9" cy="154.6" r="0.8" fill="none" stroke="#5a5a5a" stroke-width="0.4"/>
<circle cx="356.9" cy="154.1" r="0.8" fill="none" stroke="#5a5a5a" stroke-width="0.4"/>
<circle cx="247.3" cy="158.5" r="0.8" fill="none" stroke="#5a5a5a" stroke-width="0.4"/>
<circle cx="442.0" cy="157.6" r="0.8" fill="none" stroke="#5a5a5a" stroke-width="0.4"/>
<circle cx="338.8" cy="156.5" r="0.8" fill="none" stroke="#5a5a5a" stroke-width="0.4"/>
<circle cx="482.7" cy="157.4" r="0.8" fill="none" stroke="#5a5a5a" stroke-width="0.4"/>
<circle cx="341.3" cy="156.3" r="0.8" fill="none" stroke="#5a5a5a" stroke-width="0.4"/>
<circle cx="499.8" cy="157.6" r="0.8" fill="none" stroke="#5a5a5a" stroke-width="0.4"/>
<circle cx="283.5" cy="154.9" r="0.8" fill="none" stroke="#5a5a5a" stroke-width="0.4"/>
<circle cx="292.1" cy="155.5" r="0.8" fill="none" stroke="#5a5a5a" stroke-width="0.4"/>
<circle cx="285.7" cy="157.2" r="0.8" fill="none" stroke="#5a5a5a" stroke-width="0.4"/>
<circle cx="277.0" cy="155.7" r="0.8" fill="none" stroke="#5a5a5a" stroke-width="0.4"/>
<circle cx="306.6" cy="153.5" r="0.8" fill="none" stroke="#5a5a5a" stroke-width="0.4"/>
<circle cx="523.2" cy="156.0" r="0.8" fill="none" stroke="#5a5a5a" stroke-width="0.4"/>
<circle cx="262.5" cy="157.5" r="0.8" fill="none" stroke="#5a5a5a" stroke-width="0.4"/>
<circle cx="482.4" cy="156.4" r="0.8" fill="none" stroke="#5a5a5a" stroke-width="0.4"/>
<circle cx="447.7" cy="154.7" r="0.8" fill="none" stroke="#5a5a5a" stroke-width="0.4"/>
<circle cx="469.8" cy="155.3" r="0.8" fill="none" stroke="#5a5a5a" stroke-width="0.4"/>
<circle cx="364.9" cy="156.9" r="0.8" fill="none" stroke="#5a5a5a" stroke-width="0.4"/>
<circle cx="491.1" cy="156.8" r="0.8" fill="none" stroke="#5a5a5a" stroke-width="0.4"/>
<circle cx="399.7" cy="157.5" r="0.8" fill="none" stroke="#5a5a5a" stroke-width="0.4"/>
<circle cx="354.7" cy="152.9" r="0.8" fill="none" stroke="#5a5a5a" stroke-width="0.4"/>
<circle cx="279.0" cy="154.1" r="0.8" fill="none" stroke="#5a5a5a" stroke-width="0.4"/>
<circle cx="488.8" cy="153.9" r="0.8" fill="none" stroke="#5a5a5a" stroke-width="0.4"/>
<circle cx="482.5" cy="157.6" r="0.8" fill="none" stroke="#5a5a5a" stroke-width="0.4"/>
<circle cx="270.4" cy="158.8" r="0.8" fill="none" stroke="#5a5a5a" stroke-width="0.4"/>
<circle cx="306.3" cy="151.9" r="0.8" fill="none" stroke="#5a5a5a" stroke-width="0.4"/>
<circle cx="221.3" cy="158.7" r="0.8" fill="none" stroke="#5a5a5a" stroke-width="0.4"/>
<circle cx="216.6" cy="158.2" r="0.8" fill="none" stroke="#5a5a5a" stroke-width="0.4"/>
<circle cx="497.5" cy="157.0" r="0.8" fill="none" stroke="#5a5a5a" stroke-width="0.4"/>
<circle cx="244.1" cy="157.6" r="0.8" fill="none" stroke="#5a5a5a" stroke-width="0.4"/>
<circle cx="266.2" cy="155.3" r="0.8" fill="none" stroke="#5a5a5a" stroke-width="0.4"/>
<circle cx="319.4" cy="155.0" r="0.8" fill="none" stroke="#5a5a5a" stroke-width="0.4"/>
<circle cx="499.6" cy="154.9" r="0.8" fill="none" stroke="#5a5a5a" stroke-width="0.4"/>
<circle cx="518.7" cy="152.6" r="0.8" fill="none" stroke="#5a5a5a" stroke-width="0.4"/>
<circle cx="223.9" cy="155.9" r="0.8" fill="none" stroke="#5a5a5a" stroke-width="0.4"/>
<circle cx="428.3" cy="158.2" r="0.8" fill="none" stroke="#5a5a5a" stroke-width="0.4"/>
<circle cx="225.5" cy="154.5" r="0.8" fill="none" stroke="#5a5a5a" stroke-width="0.4"/>
<circle cx="347.7" cy="155.6" r="0.8" fill="none" stroke="#5a5a5a" stroke-width="0.4"/>
<circle cx="246.3" cy="160.2" r="0.8" fill="none" stroke="#5a5a5a" stroke-width="0.4"/>
<circle cx="312.2" cy="156.2" r="0.8" fill="none" stroke="#5a5a5a" stroke-width="0.4"/>
<circle cx="487.2" cy="156.9" r="0.8" fill="none" stroke="#5a5a5a" stroke-width="0.4"/>
<circle cx="256.0" cy="156.8" r="0.8" fill="none" stroke="#5a5a5a" stroke-width="0.4"/>
<circle cx="347.1" cy="156.6" r="0.8" fill="none" stroke="#5a5a5a" stroke-width="0.4"/>
<circle cx="259.8" cy="157.7" r="0.8" fill="none" stroke="#5a5a5a" stroke-width="0.4"/>
<circle cx="443.5" cy="154.9" r="0.8" fill="none" stroke="#5a5a5a" stroke-width="0.4"/>
<circle cx="323.8" cy="155.6" r="0.8" fill="none" stroke="#5a5a5a" stroke-width="0.4"/>
<circle cx="368.2" cy="156.8" r="0.8" fill="none" stroke="#5a5a5a" stroke-width="0.4"/>
<circle cx="280.7" cy="154.9" r="0.8" fill="none" stroke="#5a5a5a" stroke-width="0.4"/>
<circle cx="514.9" cy="157.4" r="0.8" fill="none" stroke="#5a5a5a" stroke-width="0.4"/>
<circle cx="298.7" cy="154.0" r="0.8" fill="none" stroke="#5a5a5a" stroke-width="0.4"/>
<circle cx="268.9" cy="155.5" r="0.8" fill="none" stroke="#5a5a5a" stroke-width="0.4"/>
<circle cx="227.1" cy="156.2" r="0.8" fill="none" stroke="#5a5a5a" stroke-width="0.4"/>
<circle cx="372.1" cy="154.0" r="0.8" fill="none" stroke="#5a5a5a" stroke-width="0.4"/>
<circle cx="326.6" cy="156.6" r="0.8" fill="none" stroke="#5a5a5a" stroke-width="0.4"/>
<circle cx="217.0" cy="154.8" r="0.8" fill="none" stroke="#5a5a5a" stroke-width="0.4"/>
<circle cx="383.0" cy="153.6" r="0.8" fill="none" stroke="#5a5a5a" stroke-width="0.4"/>
<circle cx="384.5" cy="154.0" r="0.8" fill="none" stroke="#5a5a5a" stroke-width="0.4"/>
<circle cx="485.8" cy="151.6" r="0.8" fill="none" stroke="#5a5a5a" stroke-width="0.4"/>
<circle cx="437.1" cy="154.5" r="0.8" fill="none" stroke="#5a5a5a" stroke-width="0.4"/>
<circle cx="344.2" cy="156.4" r="0.8" fill="none" stroke="#5a5a5a" stroke-width="0.4"/>
<circle cx="516.6" cy="154.5" r="0.8" fill="none" stroke="#5a5a5a" stroke-width="0.4"/>
<circle cx="341.3" cy="156.6" r="0.8" fill="none" stroke="#5a5a5a" stroke-width="0.4"/>
<circle cx="258.2" cy="155.8" r="0.8" fill="none" stroke="#5a5a5a" stroke-width="0.4"/>
<circle cx="402.9" cy="155.6" r="0.8" fill="none" stroke="#5a5a5a" stroke-width="0.4"/>
<circle cx="502.1" cy="155.5" r="0.8" fill="none" stroke="#5a5a5a" stroke-width="0.4"/>
<circle cx="331.1" cy="157.7" r="0.8" fill="none" stroke="#5a5a5a" stroke-width="0.4"/>
<circle cx="288.6" cy="155.8" r="0.8" fill="none" stroke="#5a5a5a" stroke-width="0.4"/>
<circle cx="476.1" cy="156.3" r="0.8" fill="none" stroke="#5a5a5a" stroke-width="0.4"/>
<circle cx="457.7" cy="156.0" r="0.8" fill="none" stroke="#5a5a5a" stroke-width="0.4"/>
<circle cx="429.8" cy="155.3" r="0.8" fill="none" stroke="#5a5a5a" stroke-width="0.4"/>
<circle cx="314.7" cy="154.5" r="0.8" fill="none" stroke="#5a5a5a" stroke-width="0.4"/>
<circle cx="312.0" cy="154.1" r="0.8" fill="none" stroke="#5a5a5a" stroke-width="0.4"/>
<circle cx="516.2" cy="158.1" r="0.8" fill="none" stroke="#5a5a5a" stroke-width="0.4"/>
<circle cx="479.4" cy="155.6" r="0.8" fill="none" stroke="#5a5a5a" stroke-width="0.4"/>
<circle cx="372.5" cy="151.5" r="0.8" fill="none" stroke="#5a5a5a" stroke-width="0.4"/>
<circle cx="286.7" cy="152.9" r="0.8" fill="none" stroke="#5a5a5a" stroke-width="0.4"/>
<circle cx="409.7" cy="155.5" r="0.8" fill="none" stroke="#5a5a5a" stroke-width="0.4"/>
<circle cx="435.4" cy="154.1" r="0.8" fill="none" stroke="#5a5a5a" stroke-width="0.4"/>
<circle cx="336.2" cy="153.6" r="0.8" fill="none" stroke="#5a5a5a" stroke-width="0.4"/>
<circle cx="424.5" cy="155.3" r="0.8" fill="none" stroke="#5a5a5a" stroke-width="0.4"/>
<circle cx="314.0" cy="154.3" r="0.8" fill="none" stroke="#5a5a5a" stroke-width="0.4"/>
<circle cx="283.2" cy="154.2" r="0.8" fill="none" stroke="#5a5a5a" stroke-width="0.4"/>
<circle cx="404.4" cy="155.3" r="0.8" fill="none" stroke="#5a5a5a" stroke-width="0.4"/>
<circle cx="361.0" cy="158.9" r="0.8" fill="none" stroke="#5a5a5a" stroke-width="0.4"/>
<circle cx="438.3" cy="153.9" r="0.8" fill="none" stroke="#5a5a5a" stroke-width="0.4"/>
<circle cx="282.6" cy="155.4" r="0.8" fill="none" stroke="#5a5a5a" stroke-width="0.4"/>
<circle cx="257.9" cy="157.3" r="0.8" fill="none" stroke="#5a5a5a" stroke-width="0.4"/>
<circle cx="376.8" cy="154.8" r="0.8" fill="none" stroke="#5a5a5a" stroke-width="0.4"/>
<circle cx="377.9" cy="156.0" r="0.8" fill="none" stroke="#5a5a5a" stroke-width="0.4"/>
<circle cx="267.4" cy="154.6" r="0.8" fill="none" stroke="#5a5a5a" stroke-width="0.4"/>
<circle cx="469.6" cy="153.5" r="0.8" fill="none" stroke="#5a5a5a" stroke-width="0.4"/>
<circle cx="471.3" cy="156.1" r="0.8" fill="none" stroke="#5a5a5a" stroke-width="0.4"/>
<circle cx="492.0" cy="155.9" r="0.8" fill="none" stroke="#5a5a5a" stroke-width="0.4"/>
<circle cx="332.4" cy="155.3" r="0.8" fill="none" stroke="#5a5a5a" stroke-width="0.4"/>
<circle cx="472.7" cy="155.9" r="0.8" fill="none" stroke="#5a5a5a" stroke-width="0.4"/>
<circle cx="261.6" cy="154.9" r="0.8" fill="none" stroke="#5a5a5a" stroke-width="0.4"/>
<circle cx="292.0" cy="156.7" r="0.8" fill="none" stroke="#5a5a5a" stroke-width="0.4"/>
<circle cx="463.7" cy="156.4" r="0.8" fill="none" stroke="#5a5a5a" stroke-width="0.4"/>
<circle cx="376.0" cy="155.0" r="0.8" fill="none" stroke="#5a5a5a" stroke-width="0.4"/>
<circle cx="336.8" cy="155.8" r="0.8" fill="none" stroke="#5a5a5a" stroke-width="0.4"/>
<circle cx="524.1" cy="155.0" r="0.8" fill="none" stroke="#5a5a5a" stroke-width="0.4"/>
<circle cx="362.6" cy="154.1" r="0.8" fill="none" stroke="#5a5a5a" stroke-width="0.4"/>
<circle cx="462.2" cy="155.6" r="0.8" fill="none" stroke="#5a5a5a" stroke-width="0.4"/>
<circle cx="425.4" cy="154.7" r="0.8" fill="none" stroke="#5a5a5a" stroke-width="0.4"/>
<circle cx="327.9" cy="154.5" r="0.8" fill="none" stroke="#5a5a5a" stroke-width="0.4"/>
<circle cx="329.1" cy="155.5" r="0.8" fill="none" stroke="#5a5a5a" stroke-width="0.4"/>
<circle cx="319.6" cy="155.4" r="0.8" fill="none" stroke="#5a5a5a" stroke-width="0.4"/>
<circle cx="276.2" cy="155.8" r="0.8" fill="none" stroke="#5a5a5a" stroke-width="0.4"/>
<circle cx="391.3" cy="156.5" r="0.8" fill="none" stroke="#5a5a5a" stroke-width="0.4"/>
<circle cx="437.3" cy="155.9" r="0.8" fill="none" stroke="#5a5a5a" stroke-width="0.4"/>
<circle cx="299.2" cy="155.1" r="0.8" fill="none" stroke="#5a5a5a" stroke-width="0.4"/>
<circle cx="473.4" cy="156.6" r="0.8" fill="none" stroke="#5a5a5a" stroke-width="0.4"/>
<circle cx="242.1" cy="153.7" r="0.8" fill="none" stroke="#5a5a5a" stroke-width="0.4"/>
<circle cx="276.5" cy="153.4" r="0.8" fill="none" stroke="#5a5a5a" stroke-width="0.4"/>
<circle cx="345.4" cy="156.1" r="0.8" fill="none" stroke="#5a5a5a" stroke-width="0.4"/>
<circle cx="329.4" cy="153.6" r="0.8" fill="none" stroke="#5a5a5a" stroke-width="0.4"/>
<circle cx="227.4" cy="154.3" r="0.8" fill="none" stroke="#5a5a5a" stroke-width="0.4"/>
<circle cx="435.5" cy="156.1" r="0.8" fill="none" stroke="#5a5a5a" stroke-width="0.4"/>
<circle cx="305.6" cy="153.8" r="0.8" fill="none" stroke="#5a5a5a" stroke-width="0.4"/>
<circle cx="466.1" cy="156.8" r="0.8" fill="none" stroke="#5a5a5a" stroke-width="0.4"/>
<circle cx="323.4" cy="154.1" r="0.8" fill="none" stroke="#5a5a5a" stroke-width="0.4"/>
<circle cx="501.6" cy="156.9" r="0.8" fill="none" stroke="#5a5a5a" stroke-width="0.4"/>
<circle cx="273.3" cy="157.9" r="0.8" fill="none" stroke="#5a5a5a" stroke-width="0.4"/>
<circle cx="329.6" cy="155.2" r="0.8" fill="none" stroke="#5a5a5a" stroke-width="0.4"/>
<circle cx="420.9" cy="155.3" r="0.8" fill="none" stroke="#5a5a5a" stroke-width="0.4"/>
<circle cx="449.1" cy="156.1" r="0.8" fill="none" stroke="#5a5a5a" stroke-width="0.4"/>
<circle cx="331.8" cy="153.9" r="0.8" fill="none" stroke="#5a5a5a" stroke-width="0.4"/>
<circle cx="494.3" cy="155.3" r="0.8" fill="none" stroke="#5a5a5a" stroke-width="0.4"/>
<circle cx="449.4" cy="157.6" r="0.8" fill="none" stroke="#5a5a5a" stroke-width="0.4"/>
<circle cx="357.7" cy="155.9" r="0.8" fill="none" stroke="#5a5a5a" stroke-width="0.4"/>
<circle cx="357.6" cy="156.4" r="0.8" fill="none" stroke="#5a5a5a" stroke-width="0.4"/>
<circle cx="361.1" cy="154.3" r="0.8" fill="none" stroke="#5a5a5a" stroke-width="0.4"/>
<circle cx="490.9" cy="154.0" r="0.8" fill="none" stroke="#5a5a5a" stroke-width="0.4"/>
<circle cx="373.0" cy="156.2" r="0.8" fill="none" stroke="#5a5a5a" stroke-width="0.4"/>
<circle cx="470.4" cy="154.4" r="0.8" fill="none" stroke="#5a5a5a" stroke-width="0.4"/>
<circle cx="338.7" cy="153.4" r="0.8" fill="none" stroke="#5a5a5a" stroke-width="0.4"/>
<circle cx="226.3" cy="154.8" r="0.8" fill="none" stroke="#5a5a5a" stroke-width="0.4"/>
<circle cx="453.2" cy="153.9" r="0.8" fill="none" stroke="#5a5a5a" stroke-width="0.4"/>
<circle cx="453.4" cy="156.4" r="0.8" fill="none" stroke="#5a5a5a" stroke-width="0.4"/>
<circle cx="237.7" cy="156.3" r="0.8" fill="none" stroke="#5a5a5a" stroke-width="0.4"/>
<circle cx="468.2" cy="156.1" r="0.8" fill="none" stroke="#5a5a5a" stroke-width="0.4"/>
<circle cx="448.2" cy="156.0" r="0.8" fill="none" stroke="#5a5a5a" stroke-width="0.4"/>
<circle cx="389.4" cy="157.7" r="0.8" fill="none" stroke="#5a5a5a" stroke-width="0.4"/>
<circle cx="435.1" cy="156.4" r="0.8" fill="none" stroke="#5a5a5a" stroke-width="0.4"/>
<circle cx="364.0" cy="157.8" r="0.8" fill="none" stroke="#5a5a5a" stroke-width="0.4"/>
<circle cx="343.8" cy="156.4" r="0.8" fill="none" stroke="#5a5a5a" stroke-width="0.4"/>
<circle cx="395.5" cy="158.4" r="0.8" fill="none" stroke="#5a5a5a" stroke-width="0.4"/>
<circle cx="485.1" cy="155.6" r="0.8" fill="none" stroke="#5a5a5a" stroke-width="0.4"/>
<circle cx="259.0" cy="154.7" r="0.8" fill="none" stroke="#5a5a5a" stroke-width="0.4"/>
<circle cx="215.6" cy="157.2" r="0.8" fill="none" stroke="#5a5a5a" stroke-width="0.4"/>
<circle cx="521.5" cy="155.4" r="0.8" fill="none" stroke="#5a5a5a" stroke-width="0.4"/>
<circle cx="311.1" cy="156.8" r="0.8" fill="none" stroke="#5a5a5a" stroke-width="0.4"/>
<circle cx="293.1" cy="156.8" r="0.8" fill="none" stroke="#5a5a5a" stroke-width="0.4"/>
<circle cx="372.8" cy="154.1" r="0.8" fill="none" stroke="#5a5a5a" stroke-width="0.4"/>
<circle cx="344.5" cy="156.8" r="0.8" fill="none" stroke="#5a5a5a" stroke-width="0.4"/>
<circle cx="483.5" cy="156.0" r="0.8" fill="none" stroke="#5a5a5a" stroke-width="0.4"/>
<circle cx="463.4" cy="156.3" r="0.8" fill="none" stroke="#5a5a5a" stroke-width="0.4"/>
<circle cx="276.6" cy="154.7" r="0.8" fill="none" stroke="#5a5a5a" stroke-width="0.4"/>
<circle cx="229.9" cy="154.2" r="0.8" fill="none" stroke="#5a5a5a" stroke-width="0.4"/>
<circle cx="358.2" cy="155.3" r="0.8" fill="none" stroke="#5a5a5a" stroke-width="0.4"/>
<circle cx="365.9" cy="154.4" r="0.8" fill="none" stroke="#5a5a5a" stroke-width="0.4"/>
<circle cx="463.2" cy="154.9" r="0.8" fill="none" stroke="#5a5a5a" stroke-width="0.4"/>
<circle cx="276.0" cy="157.3" r="0.8" fill="none" stroke="#5a5a5a" stroke-width="0.4"/>
<circle cx="229.6" cy="154.7" r="0.8" fill="none" stroke="#5a5a5a" stroke-width="0.4"/>
<circle cx="311.5" cy="154.1" r="0.8" fill="none" stroke="#5a5a5a" stroke-width="0.4"/>
<circle cx="389.6" cy="155.3" r="0.8" fill="none" stroke="#5a5a5a" stroke-width="0.4"/>
<circle cx="314.4" cy="155.2" r="0.8" fill="none" stroke="#5a5a5a" stroke-width="0.4"/>
<circle cx="304.5" cy="158.2" r="0.8" fill="none" stroke="#5a5a5a" stroke-width="0.4"/>
<circle cx="434.9" cy="156.3" r="0.8" fill="none" stroke="#5a5a5a" stroke-width="0.4"/>
<circle cx="355.2" cy="153.7" r="0.8" fill="none" stroke="#5a5a5a" stroke-width="0.4"/>
<circle cx="504.7" cy="152.7" r="0.8" fill="none" stroke="#5a5a5a" stroke-width="0.4"/>
<circle cx="231.7" cy="156.6" r="0.8" fill="none" stroke="#5a5a5a" stroke-width="0.4"/>
<circle cx="348.7" cy="155.3" r="0.8" fill="none" stroke="#5a5a5a" stroke-width="0.4"/>
<circle cx="482.2" cy="155.2" r="0.8" fill="none" stroke="#5a5a5a" stroke-width="0.4"/>
<circle cx="236.1" cy="154.8" r="0.8" fill="none" stroke="#5a5a5a" stroke-width="0.4"/>
<circle cx="500.8" cy="155.1" r="0.8" fill="none" stroke="#5a5a5a" stroke-width="0.4"/>
<circle cx="388.4" cy="156.2" r="0.8" fill="none" stroke="#5a5a5a" stroke-width="0.4"/>
<circle cx="423.5" cy="153.9" r="0.8" fill="none" stroke="#5a5a5a" stroke-width="0.4"/>
<circle cx="423.8" cy="155.3" r="0.8" fill="none" stroke="#5a5a5a" stroke-width="0.4"/>
<circle cx="474.7" cy="156.6" r="0.8" fill="none" stroke="#5a5a5a" stroke-width="0.4"/>
<circle cx="259.1" cy="156.5" r="0.8" fill="none" stroke="#5a5a5a" stroke-width="0.4"/>
<circle cx="245.1" cy="155.1" r="0.8" fill="none" stroke="#5a5a5a" stroke-width="0.4"/>
<circle cx="243.3" cy="156.4" r="0.8" fill="none" stroke="#5a5a5a" stroke-width="0.4"/>
<circle cx="342.8" cy="152.0" r="0.8" fill="none" stroke="#5a5a5a" stroke-width="0.4"/>
<circle cx="418.8" cy="155.4" r="0.8" fill="none" stroke="#5a5a5a" stroke-width="0.4"/>
<circle cx="427.2" cy="158.9" r="0.8" fill="none" stroke="#5a5a5a" stroke-width="0.4"/>
<circle cx="261.9" cy="157.8" r="0.8" fill="none" stroke="#5a5a5a" stroke-width="0.4"/>
<circle cx="226.7" cy="156.4" r="0.8" fill="none" stroke="#5a5a5a" stroke-width="0.4"/>
<circle cx="474.0" cy="155.3" r="0.8" fill="none" stroke="#5a5a5a" stroke-width="0.4"/>
<circle cx="394.9" cy="156.7" r="0.8" fill="none" stroke="#5a5a5a" stroke-width="0.4"/>
<circle cx="312.9" cy="154.8" r="0.8" fill="none" stroke="#5a5a5a" stroke-width="0.4"/>
<circle cx="497.6" cy="155.3" r="0.8" fill="none" stroke="#5a5a5a" stroke-width="0.4"/>
<circle cx="314.7" cy="156.1" r="0.8" fill="none" stroke="#5a5a5a" stroke-width="0.4"/>
<circle cx="462.5" cy="154.9" r="0.8" fill="none" stroke="#5a5a5a" stroke-width="0.4"/>
<circle cx="518.8" cy="155.3" r="0.8" fill="none" stroke="#5a5a5a" stroke-width="0.4"/>
<circle cx="332.0" cy="155.8" r="0.8" fill="none" stroke="#5a5a5a" stroke-width="0.4"/>
<circle cx="413.2" cy="155.9" r="0.8" fill="none" stroke="#5a5a5a" stroke-width="0.4"/>
<circle cx="242.8" cy="157.5" r="0.8" fill="none" stroke="#5a5a5a" stroke-width="0.4"/>
<circle cx="358.3" cy="155.4" r="0.8" fill="none" stroke="#5a5a5a" stroke-width="0.4"/>
<circle cx="425.0" cy="154.0" r="0.8" fill="none" stroke="#5a5a5a" stroke-width="0.4"/>
<circle cx="249.3" cy="156.0" r="0.8" fill="none" stroke="#5a5a5a" stroke-width="0.4"/>
<circle cx="501.1" cy="154.9" r="0.8" fill="none" stroke="#5a5a5a" stroke-width="0.4"/>
<circle cx="523.8" cy="157.3" r="0.8" fill="none" stroke="#5a5a5a" stroke-width="0.4"/>
<circle cx="304.2" cy="154.9" r="0.8" fill="none" stroke="#5a5a5a" stroke-width="0.4"/>
<circle cx="322.0" cy="155.6" r="0.8" fill="none" stroke="#5a5a5a" stroke-width="0.4"/>
<circle cx="503.2" cy="153.8" r="0.8" fill="none" stroke="#5a5a5a" stroke-width="0.4"/>
<circle cx="242.6" cy="152.6" r="0.8" fill="none" stroke="#5a5a5a" stroke-width="0.4"/>
<circle cx="399.8" cy="155.9" r="0.8" fill="none" stroke="#5a5a5a" stroke-width="0.4"/>
<circle cx="382.0" cy="156.3" r="0.8" fill="none" stroke="#5a5a5a" stroke-width="0.4"/>
<circle cx="298.1" cy="156.0" r="0.8" fill="none" stroke="#5a5a5a" stroke-width="0.4"/>
<circle cx="491.7" cy="156.2" r="0.8" fill="none" stroke="#5a5a5a" stroke-width="0.4"/>
<circle cx="501.5" cy="154.7" r="0.8" fill="none" stroke="#5a5a5a" stroke-width="0.4"/>
<circle cx="223.8" cy="152.4" r="0.8" fill="none" stroke="#5a5a5a" stroke-width="0.4"/>
<circle cx="320.9" cy="153.3" r="0.8" fill="none" stroke="#5a5a5a" stroke-width="0.4"/>
<circle cx="507.7" cy="155.3" r="0.8" fill="none" stroke="#5a5a5a" stroke-width="0.4"/>
<circle cx="317.4" cy="155.2" r="0.8" fill="none" stroke="#5a5a5a" stroke-width="0.4"/>
<circle cx="353.7" cy="155.6" r="0.8" fill="none" stroke="#5a5a5a" stroke-width="0.4"/>
<circle cx="269.4" cy="158.1" r="0.8" fill="none" stroke="#5a5a5a" stroke-width="0.4"/>
<circle cx="458.9" cy="155.4" r="0.8" fill="none" stroke="#5a5a5a" stroke-width="0.4"/>
<circle cx="387.8" cy="156.1" r="0.8" fill="none" stroke="#5a5a5a" stroke-width="0.4"/>
<circle cx="243.5" cy="153.1" r="0.8" fill="none" stroke="#5a5a5a" stroke-width="0.4"/>
<circle cx="399.1" cy="154.8" r="0.8" fill="none" stroke="#5a5a5a" stroke-width="0.4"/>
<circle cx="357.3" cy="157.4" r="0.8" fill="none" stroke="#5a5a5a" stroke-width="0.4"/>
<circle cx="244.0" cy="156.0" r="0.8" fill="none" stroke="#5a5a5a" stroke-width="0.4"/>
<circle cx="415.1" cy="156.9" r="0.8" fill="none" stroke="#5a5a5a" stroke-width="0.4"/>
<circle cx="323.5" cy="157.1" r="0.8" fill="none" stroke="#5a5a5a" stroke-width="0.4"/>
<circle cx="330.3" cy="155.1" r="0.8" fill="none" stroke="#5a5a5a" stroke-width="0.4"/>
<circle cx="266.5" cy="154.8" r="0.8" fill="none" stroke="#5a5a5a" stroke-width="0.4"/>
<circle cx="506.8" cy="154.2" r="0.8" fill="none" stroke="#5a5a5a" stroke-width="0.4"/>
<circle cx="485.6" cy="158.1" r="0.8" fill="none" stroke="#5a5a5a" stroke-width="0.4"/>
<circle cx="363.2" cy="156.0" r="0.8" fill="none" stroke="#5a5a5a" stroke-width="0.4"/>
<circle cx="487.4" cy="156.1" r="0.8" fill="none" stroke="#5a5a5a" stroke-width="0.4"/>
<circle cx="250.1" cy="153.7" r="0.8" fill="none" stroke="#5a5a5a" stroke-width="0.4"/>
<circle cx="250.3" cy="155.6" r="0.8" fill="none" stroke="#5a5a5a" stroke-width="0.4"/>
<circle cx="359.3" cy="156.6" r="0.8" fill="none" stroke="#5a5a5a" stroke-width="0.4"/>
<circle cx="371.5" cy="157.2" r="0.8" fill="none" stroke="#5a5a5a" stroke-width="0.4"/>
<circle cx="327.9" cy="156.1" r="0.8" fill="none" stroke="#5a5a5a" stroke-width="0.4"/>
<circle cx="277.0" cy="157.0" r="0.8" fill="none" stroke="#5a5a5a" stroke-width="0.4"/>
<circle cx="253.3" cy="155.8" r="0.8" fill="none" stroke="#5a5a5a" stroke-width="0.4"/>
<circle cx="369.9" cy="158.6" r="0.8" fill="none" stroke="#5a5a5a" stroke-width="0.4"/>
<circle cx="490.9" cy="159.2" r="0.8" fill="none" stroke="#5a5a5a" stroke-width="0.4"/>
<circle cx="365.7" cy="155.9" r="0.8" fill="none" stroke="#5a5a5a" stroke-width="0.4"/>
<circle cx="460.0" cy="153.5" r="0.8" fill="none" stroke="#5a5a5a" stroke-width="0.4"/>
<circle cx="285.1" cy="154.6" r="0.8" fill="none" stroke="#5a5a5a" stroke-width="0.4"/>
<circle cx="447.2" cy="156.3" r="0.8" fill="none" stroke="#5a5a5a" stroke-width="0.4"/>
<circle cx="223.3" cy="156.6" r="0.8" fill="none" stroke="#5a5a5a" stroke-width="0.4"/>
<circle cx="336.1" cy="154.4" r="0.8" fill="none" stroke="#5a5a5a" stroke-width="0.4"/>
<circle cx="490.9" cy="155.5" r="0.8" fill="none" stroke="#5a5a5a" stroke-width="0.4"/>
<circle cx="240.0" cy="154.6" r="0.8" fill="none" stroke="#5a5a5a" stroke-width="0.4"/>
<circle cx="399.0" cy="155.1" r="0.8" fill="none" stroke="#5a5a5a" stroke-width="0.4"/>
<circle cx="457.8" cy="155.5" r="0.8" fill="none" stroke="#5a5a5a" stroke-width="0.4"/>
<circle cx="290.2" cy="155.1" r="0.8" fill="none" stroke="#5a5a5a" stroke-width="0.4"/>
<circle cx="400.2" cy="156.0" r="0.8" fill="none" stroke="#5a5a5a" stroke-width="0.4"/>
<circle cx="406.2" cy="155.6" r="0.8" fill="none" stroke="#5a5a5a" stroke-width="0.4"/>
<circle cx="429.1" cy="156.1" r="0.8" fill="none" stroke="#5a5a5a" stroke-width="0.4"/>
<circle cx="466.0" cy="154.3" r="0.8" fill="none" stroke="#5a5a5a" stroke-width="0.4"/>
<circle cx="357.5" cy="155.8" r="0.8" fill="none" stroke="#5a5a5a" stroke-width="0.4"/>
<circle cx="506.4" cy="155.5" r="0.8" fill="none" stroke="#5a5a5a" stroke-width="0.4"/>
<circle cx="341.9" cy="155.1" r="0.8" fill="none" stroke="#5a5a5a" stroke-width="0.4"/>
<circle cx="289.9" cy="156.0" r="0.8" fill="none" stroke="#5a5a5a" stroke-width="0.4"/>
<circle cx="442.1" cy="155.2" r="0.8" fill="none" stroke="#5a5a5a" stroke-width="0.4"/>
<circle cx="320.9" cy="154.8" r="0.8" fill="none" stroke="#5a5a5a" stroke-width="0.4"/>
<circle cx="257.4" cy="155.9" r="0.8" fill="none" stroke="#5a5a5a" stroke-width="0.4"/>
<circle cx="316.8" cy="156.6" r="0.8" fill="none" stroke="#5a5a5a" stroke-width="0.4"/>
<circle cx="517.5" cy="158.3" r="0.8" fill="none" stroke="#5a5a5a" stroke-width="0.4"/>
<circle cx="363.0" cy="155.6" r="0.8" fill="none" stroke="#5a5a5a" stroke-width="0.4"/>
<circle cx="368.5" cy="156.2" r="0.8" fill="none" stroke="#5a5a5a" stroke-width="0.4"/>
<circle cx="447.6" cy="152.4" r="0.8" fill="none" stroke="#5a5a5a" stroke-width="0.4"/>
<circle cx="411.8" cy="156.3" r="0.8" fill="none" stroke="#5a5a5a" stroke-width="0.4"/>
<circle cx="477.0" cy="157.6" r="0.8" fill="none" stroke="#5a5a5a" stroke-width="0.4"/>
<circle cx="458.6" cy="157.6" r="0.8" fill="none" stroke="#5a5a5a" stroke-width="0.4"/>
<circle cx="322.4" cy="156.9" r="0.8" fill="none" stroke="#5a5a5a" stroke-width="0.4"/>
<circle cx="264.2" cy="157.8" r="0.8" fill="none" stroke="#5a5a5a" stroke-width="0.4"/>
<circle cx="445.8" cy="155.1" r="0.8" fill="none" stroke="#5a5a5a" stroke-width="0.4"/>
<circle cx="255.7" cy="157.3" r="0.8" fill="none" stroke="#5a5a5a" stroke-width="0.4"/>
<circle cx="495.4" cy="152.5" r="0.8" fill="none" stroke="#5a5a5a" stroke-width="0.4"/>
<circle cx="445.6" cy="156.9" r="0.8" fill="none" stroke="#5a5a5a" stroke-width="0.4"/>
<circle cx="397.5" cy="153.3" r="0.8" fill="none" stroke="#5a5a5a" stroke-width="0.4"/>
<circle cx="349.2" cy="156.8" r="0.8" fill="none" stroke="#5a5a5a" stroke-width="0.4"/>
<circle cx="484.8" cy="153.3" r="0.8" fill="none" stroke="#5a5a5a" stroke-width="0.4"/>
<circle cx="306.8" cy="157.4" r="0.8" fill="none" stroke="#5a5a5a" stroke-width="0.4"/>
<circle cx="508.2" cy="155.2" r="0.8" fill="none" stroke="#5a5a5a" stroke-width="0.4"/>
<circle cx="249.8" cy="158.2" r="0.8" fill="none" stroke="#5a5a5a" stroke-width="0.4"/>
<circle cx="292.1" cy="155.1" r="0.8" fill="none" stroke="#5a5a5a" stroke-width="0.4"/>
<circle cx="474.7" cy="155.7" r="0.8" fill="none" stroke="#5a5a5a" stroke-width="0.4"/>
<circle cx="356.2" cy="156.6" r="0.8" fill="none" stroke="#5a5a5a" stroke-width="0.4"/>
<circle cx="287.4" cy="152.3" r="0.8" fill="none" stroke="#5a5a5a" stroke-width="0.4"/>
<circle cx="427.0" cy="155.8" r="0.8" fill="none" stroke="#5a5a5a" stroke-width="0.4"/>
<circle cx="434.8" cy="153.6" r="0.8" fill="none" stroke="#5a5a5a" stroke-width="0.4"/>
<circle cx="460.8" cy="157.2" r="0.8" fill="none" stroke="#5a5a5a" stroke-width="0.4"/>
<circle cx="426.3" cy="158.2" r="0.8" fill="none" stroke="#5a5a5a" stroke-width="0.4"/>
<circle cx="340.2" cy="154.6" r="0.8" fill="none" stroke="#5a5a5a" stroke-width="0.4"/>
<circle cx="240.8" cy="154.0" r="0.8" fill="none" stroke="#5a5a5a" stroke-width="0.4"/>
<circle cx="319.4" cy="153.3" r="0.8" fill="none" stroke="#5a5a5a" stroke-width="0.4"/>
<circle cx="398.9" cy="157.0" r="0.8" fill="none" stroke="#5a5a5a" stroke-width="0.4"/>
<circle cx="215.1" cy="153.3" r="0.8" fill="none" stroke="#5a5a5a" stroke-width="0.4"/>
<circle cx="365.9" cy="156.3" r="0.8" fill="none" stroke="#5a5a5a" stroke-width="0.4"/>
<circle cx="466.6" cy="155.7" r="0.8" fill="none" stroke="#5a5a5a" stroke-width="0.4"/>
<circle cx="344.0" cy="154.3" r="0.8" fill="none" stroke="#5a5a5a" stroke-width="0.4"/>
<circle cx="318.1" cy="154.6" r="0.8" fill="none" stroke="#5a5a5a" stroke-width="0.4"/>
<circle cx="280.2" cy="153.8" r="0.8" fill="none" stroke="#5a5a5a" stroke-width="0.4"/>
<circle cx="406.5" cy="157.9" r="0.8" fill="none" stroke="#5a5a5a" stroke-width="0.4"/>
<circle cx="304.6" cy="156.6" r="0.8" fill="none" stroke="#5a5a5a" stroke-width="0.4"/>
<circle cx="432.0" cy="156.2" r="0.8" fill="none" stroke="#5a5a5a" stroke-width="0.4"/>
<circle cx="351.3" cy="154.2" r="0.8" fill="none" stroke="#5a5a5a" stroke-width="0.4"/>
<circle cx="251.3" cy="153.3" r="0.8" fill="none" stroke="#5a5a5a" stroke-width="0.4"/>
<circle cx="426.3" cy="158.3" r="0.8" fill="none" stroke="#5a5a5a" stroke-width="0.4"/>
<circle cx="271.0" cy="156.3" r="0.8" fill="none" stroke="#5a5a5a" stroke-width="0.4"/>
<circle cx="298.2" cy="157.0" r="0.8" fill="none" stroke="#5a5a5a" stroke-width="0.4"/>
<circle cx="283.5" cy="155.2" r="0.8" fill="none" stroke="#5a5a5a" stroke-width="0.4"/>
<circle cx="490.7" cy="153.2" r="0.8" fill="none" stroke="#5a5a5a" stroke-width="0.4"/>
<circle cx="336.5" cy="153.6" r="0.8" fill="none" stroke="#5a5a5a" stroke-width="0.4"/>
<circle cx="369.3" cy="157.3" r="0.8" fill="none" stroke="#5a5a5a" stroke-width="0.4"/>
<circle cx="521.4" cy="155.1" r="0.8" fill="none" stroke="#5a5a5a" stroke-width="0.4"/>
<circle cx="272.7" cy="156.0" r="0.8" fill="none" stroke="#5a5a5a" stroke-width="0.4"/>
<circle cx="377.8" cy="154.8" r="0.8" fill="none" stroke="#5a5a5a" stroke-width="0.4"/>
<circle cx="213.8" cy="157.2" r="0.8" fill="none" stroke="#5a5a5a" stroke-width="0.4"/>
<circle cx="355.2" cy="158.8" r="0.8" fill="none" stroke="#5a5a5a" stroke-width="0.4"/>
<circle cx="465.7" cy="155.6" r="0.8" fill="none" stroke="#5a5a5a" stroke-width="0.4"/>
<circle cx="245.1" cy="157.0" r="0.8" fill="none" stroke="#5a5a5a" stroke-width="0.4"/>
<circle cx="385.7" cy="156.8" r="0.8" fill="none" stroke="#5a5a5a" stroke-width="0.4"/>
<circle cx="331.0" cy="154.2" r="0.8" fill="none" stroke="#5a5a5a" stroke-width="0.4"/>
<circle cx="502.8" cy="157.3" r="0.8" fill="none" stroke="#5a5a5a" stroke-width="0.4"/>
<circle cx="237.3" cy="154.2" r="0.8" fill="none" stroke="#5a5a5a" stroke-width="0.4"/>
<circle cx="408.0" cy="152.1" r="0.8" fill="none" stroke="#5a5a5a" stroke-width="0.4"/>
<circle cx="326.3" cy="156.9" r="0.8" fill="none" stroke="#5a5a5a" stroke-width="0.4"/>
<circle cx="419.5" cy="154.6" r="0.8" fill="none" stroke="#5a5a5a" stroke-width="0.4"/>
<circle cx="376.3" cy="154.5" r="0.8" fill="none" stroke="#5a5a5a" stroke-width="0.4"/>
<circle cx="424.3" cy="157.1" r="0.8" fill="none" stroke="#5a5a5a" stroke-width="0.4"/>
<circle cx="326.9" cy="154.6" r="0.8" fill="none" stroke="#5a5a5a" stroke-width="0.4"/>
<circle cx="517.6" cy="158.3" r="0.8" fill="none" stroke="#5a5a5a" stroke-width="0.4"/>
<circle cx="426.5" cy="156.6" r="0.8" fill="none" stroke="#5a5a5a" stroke-width="0.4"/>
<circle cx="387.2" cy="153.2" r="0.8" fill="none" stroke="#5a5a5a" stroke-width="0.4"/>
<circle cx="491.1" cy="156.4" r="0.8" fill="none" stroke="#5a5a5a" stroke-width="0.4"/>
<circle cx="440.6" cy="155.6" r="0.8" fill="none" stroke="#5a5a5a" stroke-width="0.4"/>
<circle cx="314.9" cy="155.2" r="0.8" fill="none" stroke="#5a5a5a" stroke-width="0.4"/>
<circle cx="256.3" cy="158.6" r="0.8" fill="none" stroke="#5a5a5a" stroke-width="0.4"/>
<circle cx="258.7" cy="154.7" r="0.8" fill="none" stroke="#5a5a5a" stroke-width="0.4"/>
<circle cx="396.6" cy="155.2" r="0.8" fill="none" stroke="#5a5a5a" stroke-width="0.4"/>
<circle cx="335.8" cy="155.4" r="0.8" fill="none" stroke="#5a5a5a" stroke-width="0.4"/>
<circle cx="446.4" cy="154.8" r="0.8" fill="none" stroke="#5a5a5a" stroke-width="0.4"/>
<circle cx="451.1" cy="154.7" r="0.8" fill="none" stroke="#5a5a5a" stroke-width="0.4"/>
<circle cx="304.3" cy="154.1" r="0.8" fill="none" stroke="#5a5a5a" stroke-width="0.4"/>
<circle cx="518.2" cy="155.2" r="0.8" fill="none" stroke="#5a5a5a" stroke-width="0.4"/>
<circle cx="415.7" cy="156.4" r="0.8" fill="none" stroke="#5a5a5a" stroke-width="0.4"/>
<circle cx="332.1" cy="153.5" r="0.8" fill="none" stroke="#5a5a5a" stroke-width="0.4"/>
<circle cx="513.5" cy="155.0" r="0.8" fill="none" stroke="#5a5a5a" stroke-width="0.4"/>
<circle cx="300.1" cy="153.4" r="0.8" fill="none" stroke="#5a5a5a" stroke-width="0.4"/>
<circle cx="264.1" cy="153.1" r="0.8" fill="none" stroke="#5a5a5a" stroke-width="0.4"/>
<circle cx="460.8" cy="154.3" r="0.8" fill="none" stroke="#5a5a5a" stroke-width="0.4"/>
<circle cx="321.8" cy="156.8" r="0.8" fill="none" stroke="#5a5a5a" stroke-width="0.4"/>
<circle cx="486.8" cy="157.0" r="0.8" fill="none" stroke="#5a5a5a" stroke-width="0.4"/>
<circle cx="264.2" cy="155.5" r="0.8" fill="none" stroke="#5a5a5a" stroke-width="0.4"/>
<circle cx="310.8" cy="154.7" r="0.8" fill="none" stroke="#5a5a5a" stroke-width="0.4"/>
<circle cx="230.4" cy="155.2" r="0.8" fill="none" stroke="#5a5a5a" stroke-width="0.4"/>
<circle cx="514.7" cy="157.0" r="0.8" fill="none" stroke="#5a5a5a" stroke-width="0.4"/>
<circle cx="513.2" cy="156.1" r="0.8" fill="none" stroke="#5a5a5a" stroke-width="0.4"/>
<circle cx="507.5" cy="156.8" r="0.8" fill="none" stroke="#5a5a5a" stroke-width="0.4"/>
<circle cx="275.1" cy="154.9" r="0.8" fill="none" stroke="#5a5a5a" stroke-width="0.4"/>
<circle cx="247.5" cy="157.1" r="0.8" fill="none" stroke="#5a5a5a" stroke-width="0.4"/>
<circle cx="294.7" cy="154.4" r="0.8" fill="none" stroke="#5a5a5a" stroke-width="0.4"/>
<circle cx="513.7" cy="156.5" r="0.8" fill="none" stroke="#5a5a5a" stroke-width="0.4"/>
<circle cx="296.8" cy="156.5" r="0.8" fill="none" stroke="#5a5a5a" stroke-width="0.4"/>
<circle cx="353.9" cy="158.7" r="0.8" fill="none" stroke="#5a5a5a" stroke-width="0.4"/>
<circle cx="474.3" cy="153.9" r="0.8" fill="none" stroke="#5a5a5a" stroke-width="0.4"/>
<circle cx="311.7" cy="153.6" r="0.8" fill="none" stroke="#5a5a5a" stroke-width="0.4"/>
<circle cx="261.0" cy="155.7" r="0.8" fill="none" stroke="#5a5a5a" stroke-width="0.4"/>
<circle cx="387.6" cy="153.9" r="0.8" fill="none" stroke="#5a5a5a" stroke-width="0.4"/>
<circle cx="422.5" cy="155.6" r="0.8" fill="none" stroke="#5a5a5a" stroke-width="0.4"/>
<circle cx="326.6" cy="154.4" r="0.8" fill="none" stroke="#5a5a5a" stroke-width="0.4"/>
<circle cx="499.3" cy="154.4" r="0.8" fill="none" stroke="#5a5a5a" stroke-width="0.4"/>
<circle cx="409.9" cy="155.4" r="0.8" fill="none" stroke="#5a5a5a" stroke-width="0.4"/>
<circle cx="294.6" cy="155.7" r="0.8" fill="none" stroke="#5a5a5a" stroke-width="0.4"/>
<circle cx="471.0" cy="155.2" r="0.8" fill="none" stroke="#5a5a5a" stroke-width="0.4"/>
<circle cx="390.0" cy="153.4" r="0.8" fill="none" stroke="#5a5a5a" stroke-width="0.4"/>
<circle cx="296.4" cy="158.4" r="0.8" fill="none" stroke="#5a5a5a" stroke-width="0.4"/>
<circle cx="289.5" cy="157.3" r="0.8" fill="none" stroke="#5a5a5a" stroke-width="0.4"/>
<circle cx="448.3" cy="156.4" r="0.8" fill="none" stroke="#5a5a5a" stroke-width="0.4"/>
<circle cx="424.8" cy="153.3" r="0.8" fill="none" stroke="#5a5a5a" stroke-width="0.4"/>
<circle cx="248.3" cy="157.0" r="0.8" fill="none" stroke="#5a5a5a" stroke-width="0.4"/>
<circle cx="309.3" cy="153.2" r="0.8" fill="none" stroke="#5a5a5a" stroke-width="0.4"/>
<circle cx="411.0" cy="152.5" r="0.8" fill="none" stroke="#5a5a5a" stroke-width="0.4"/>
<circle cx="429.1" cy="155.8" r="0.8" fill="none" stroke="#5a5a5a" stroke-width="0.4"/>
<circle cx="506.4" cy="154.1" r="0.8" fill="none" stroke="#5a5a5a" stroke-width="0.4"/>
<circle cx="444.8" cy="154.8" r="0.8" fill="none" stroke="#5a5a5a" stroke-width="0.4"/>
<circle cx="464.5" cy="156.9" r="0.8" fill="none" stroke="#5a5a5a" stroke-width="0.4"/>
<circle cx="322.6" cy="156.8" r="0.8" fill="none" stroke="#5a5a5a" stroke-width="0.4"/>
<circle cx="379.2" cy="158.4" r="0.8" fill="none" stroke="#5a5a5a" stroke-width="0.4"/>
<circle cx="375.9" cy="154.0" r="0.8" fill="none" stroke="#5a5a5a" stroke-width="0.4"/>
<circle cx="255.3" cy="152.8" r="0.8" fill="none" stroke="#5a5a5a" stroke-width="0.4"/>
<circle cx="319.1" cy="157.0" r="0.8" fill="none" stroke="#5a5a5a" stroke-width="0.4"/>
<circle cx="370.0" cy="156.2" r="0.8" fill="none" stroke="#5a5a5a" stroke-width="0.4"/>
<circle cx="478.9" cy="154.6" r="0.8" fill="none" stroke="#5a5a5a" stroke-width="0.4"/>
<circle cx="339.4" cy="153.9" r="0.8" fill="none" stroke="#5a5a5a" stroke-width="0.4"/>
<circle cx="392.3" cy="155.2" r="0.8" fill="none" stroke="#5a5a5a" stroke-width="0.4"/>
<circle cx="459.2" cy="158.5" r="0.8" fill="none" stroke="#5a5a5a" stroke-width="0.4"/>
<circle cx="474.7" cy="156.9" r="0.8" fill="none" stroke="#5a5a5a" stroke-width="0.4"/>
<circle cx="448.5" cy="157.4" r="0.8" fill="none" stroke="#5a5a5a" stroke-width="0.4"/>
<circle cx="369.5" cy="158.2" r="0.8" fill="none" stroke="#5a5a5a" stroke-width="0.4"/>
<circle cx="445.0" cy="153.7" r="0.8" fill="none" stroke="#5a5a5a" stroke-width="0.4"/>
<circle cx="469.3" cy="153.8" r="0.8" fill="none" stroke="#5a5a5a" stroke-width="0.4"/>
<circle cx="254.6" cy="153.1" r="0.8" fill="none" stroke="#5a5a5a" stroke-width="0.4"/>
<circle cx="432.9" cy="155.0" r="0.8" fill="none" stroke="#5a5a5a" stroke-width="0.4"/>
<circle cx="299.3" cy="153.6" r="0.8" fill="none" stroke="#5a5a5a" stroke-width="0.4"/>
<circle cx="234.7" cy="153.4" r="0.8" fill="none" stroke="#5a5a5a" stroke-width="0.4"/>
<circle cx="298.7" cy="153.9" r="0.8" fill="none" stroke="#5a5a5a" stroke-width="0.4"/>
<circle cx="280.0" cy="155.7" r="0.8" fill="none" stroke="#5a5a5a" stroke-width="0.4"/>
<circle cx="424.1" cy="156.3" r="0.8" fill="none" stroke="#5a5a5a" stroke-width="0.4"/>
<circle cx="517.2" cy="156.1" r="0.8" fill="none" stroke="#5a5a5a" stroke-width="0.4"/>
<circle cx="431.4" cy="154.3" r="0.8" fill="none" stroke="#5a5a5a" stroke-width="0.4"/>
<circle cx="236.2" cy="156.3" r="0.8" fill="none" stroke="#5a5a5a" stroke-width="0.4"/>
<circle cx="214.8" cy="154.5" r="0.8" fill="none" stroke="#5a5a5a" stroke-width="0.4"/>
<circle cx="409.6" cy="156.4" r="0.8" fill="none" stroke="#5a5a5a" stroke-width="0.4"/>
<circle cx="232.1" cy="156.5" r="0.8" fill="none" stroke="#5a5a5a" stroke-width="0.4"/>
<circle cx="352.4" cy="153.0" r="0.8" fill="none" stroke="#5a5a5a" stroke-width="0.4"/>
<circle cx="226.0" cy="154.7" r="0.8" fill="none" stroke="#5a5a5a" stroke-width="0.4"/>
<circle cx="471.3" cy="156.4" r="0.8" fill="none" stroke="#5a5a5a" stroke-width="0.4"/>
<circle cx="409.6" cy="156.3" r="0.8" fill="none" stroke="#5a5a5a" stroke-width="0.4"/>
<circle cx="319.6" cy="154.7" r="0.8" fill="none" stroke="#5a5a5a" stroke-width="0.4"/>
<circle cx="281.5" cy="157.3" r="0.8" fill="none" stroke="#5a5a5a" stroke-width="0.4"/>
<circle cx="460.7" cy="156.3" r="0.8" fill="none" stroke="#5a5a5a" stroke-width="0.4"/>
<circle cx="465.5" cy="158.4" r="0.8" fill="none" stroke="#5a5a5a" stroke-width="0.4"/>
<circle cx="380.9" cy="158.2" r="0.8" fill="none" stroke="#5a5a5a" stroke-width="0.4"/>
<circle cx="222.5" cy="156.1" r="0.8" fill="none" stroke="#5a5a5a" stroke-width="0.4"/>
<circle cx="370.8" cy="155.1" r="0.8" fill="none" stroke="#5a5a5a" stroke-width="0.4"/>
<circle cx="409.8" cy="155.8" r="0.8" fill="none" stroke="#5a5a5a" stroke-width="0.4"/>
<circle cx="439.2" cy="154.3" r="0.8" fill="none" stroke="#5a5a5a" stroke-width="0.4"/>
<circle cx="373.1" cy="154.8" r="0.8" fill="none" stroke="#5a5a5a" stroke-width="0.4"/>
<circle cx="397.0" cy="156.0" r="0.8" fill="none" stroke="#5a5a5a" stroke-width="0.4"/>
<circle cx="523.7" cy="158.6" r="0.8" fill="none" stroke="#5a5a5a" stroke-width="0.4"/>
<circle cx="464.0" cy="156.9" r="0.8" fill="none" stroke="#5a5a5a" stroke-width="0.4"/>
<circle cx="520.7" cy="155.3" r="0.8" fill="none" stroke="#5a5a5a" stroke-width="0.4"/>
<circle cx="235.9" cy="154.8" r="0.8" fill="none" stroke="#5a5a5a" stroke-width="0.4"/>
<circle cx="355.0" cy="155.7" r="0.8" fill="none" stroke="#5a5a5a" stroke-width="0.4"/>
<circle cx="426.2" cy="155.2" r="0.8" fill="none" stroke="#5a5a5a" stroke-width="0.4"/>
<circle cx="320.1" cy="154.0" r="0.8" fill="none" stroke="#5a5a5a" stroke-width="0.4"/>
<circle cx="272.8" cy="154.6" r="0.8" fill="none" stroke="#5a5a5a" stroke-width="0.4"/>
<circle cx="274.2" cy="156.3" r="0.8" fill="none" stroke="#5a5a5a" stroke-width="0.4"/>
<polyline points="213.70,155.79 215.70,155.61 217.70,155.55 219.70,155.36 221.70,155.76 223.70,155.36 225.70,155.41 227.70,155.65 229.70,155.76 231.70,155.98 233.70,155.80 235.70,155.96 237.70,155.94 239.70,155.78 241.70,155.78 243.70,155.25 245.70,155.36 247.70,155.21 249.70,155.89 251.70,155.78 253.70,155.70 255.70,155.41 257.70,155.48 259.70,155.33 261.70,155.71 263.70,155.99 265.70,155.44 267.70,155.24 269.70,155.34 271.70,155.48 273.70,155.92 275.70,155.84 277.70,155.56 279.70,155.28 281.70,155.29 283.70,155.32 285.70,155.82 287.70,155.58 289.70,155.99 291.70,155.93 293.70,155.84 295.70,155.58 297.70,155.86 299.70,155.30 301.70,155.29 303.70,155.65 305.70,155.61 307.70,155.37 309.70,155.40 311.70,155.22 313.70,155.93 315.70,155.77 317.70,155.96 319.70,155.98 321.70,155.55 323.70,155.79 325.70,155.51 327.70,155.85 329.70,155.87 331.70,155.31 333.70,155.21 335.70,155.37 337.70,155.67 339.70,155.50 341.70,155.21 343.70,155.86 345.70,155.83 347.70,155.57 349.70,155.23 351.70,155.91 353.70,155.63 355.70,155.26 357.70,155.46 359.70,155.70 361.70,155.91 363.70,155.59 365.70,155.71 367.70,155.36 369.70,155.39 371.70,155.92 373.70,155.51 375.70,155.28 377.70,155.67 379.70,155.30 381.70,155.36 383.70,155.57 385.70,155.67 387.70,155.71 389.70,155.77 391.70,155.55 393.70,155.25 395.70,155.78 397.70,155.24 399.70,155.58 401.70,155.52 403.70,155.74 405.70,155.77 407.70,155.39 409.70,155.72 411.70,155.75 413.70,155.58 415.70,155.31 417.70,155.93 419.70,155.68 421.70,155.25 423.70,155.39 425.70,155.99 427.70,155.38 429.70,155.51 431.70,155.83 433.70,155.86 435.70,155.71 437.70,155.79 439.70,155.23 441.70,155.28 443.70,155.98 445.70,155.84 447.70,155.23 449.70,155.24 451.70,155.39 453.70,155.94 455.70,155.38 457.70,155.74 459.70,155.94 461.70,155.71 463.70,155.94 465.70,155.41 467.70,155.32 469.70,155.21 471.70,155.81 473.70,155.28 475.70,155.98 477.70,155.77 479.70,155.35 481.70,155.85 483.70,155.33 485.70,155.61 487.70,155.28 489.70,155.83 491.70,155.91 493.70,155.93 495.70,155.20 497.70,155.88 499.70,155.64 501.70,155.86 503.70,155.60 505.70,155.70 507.70,155.68 509.70,155.84 511.70,155.26 513.70,155.24 515.70,155.64 517.70,155.43 519.70,155.52 521.70,155.21 523.70,155.80" stroke="#f01818" stroke-width="3.6" fill="none" stroke-linejoin="round" stroke-linecap="round" />
<polyline points="213.70,186.52 215.20,187.33 216.70,187.31 218.20,186.96 219.70,186.62 221.20,187.15 222.70,186.71 224.20,186.93 225.70,186.61 227.20,187.48 228.70,187.05 230.20,186.85 231.70,186.59 233.20,187.23 234.70,187.35 236.20,187.35 237.70,186.60 239.20,186.87 240.70,186.80 242.20,187.26 243.70,186.65 245.20,187.11 246.70,187.48 248.20,187.27 249.70,186.51 251.20,186.57 252.70,186.61 254.20,187.19 255.70,187.10 257.20,187.02 258.70,186.96 260.20,186.91 261.70,187.11 263.20,187.15 264.70,187.42 266.20,187.23 267.70,187.30 269.20,187.41 270.70,187.34 272.20,187.22 273.70,186.53 275.20,187.18 276.70,187.35 278.20,186.93 279.70,187.38 281.20,186.68 282.70,187.44 284.20,186.94 285.70,187.21 287.20,186.75 288.70,186.80 290.20,186.85 291.70,186.82 293.20,186.59 294.70,186.94 296.20,187.48 297.70,187.15 299.20,187.43 300.70,187.26 302.20,187.34 303.70,187.49 305.20,187.25 306.70,186.77 308.20,186.75 309.70,186.91 311.20,186.52 312.70,186.73 314.20,187.39 315.70,187.42 317.20,186.83 318.70,187.27 320.20,187.27 321.70,187.39 323.20,187.32 324.70,187.11 326.20,186.74 327.70,187.51 329.20,187.05 330.70,187.41 332.20,187.20 333.70,187.42 335.20,187.90 336.70,187.15 338.20,187.57 339.70,187.74 341.20,187.68 342.70,188.13 344.20,187.65 345.70,188.21 347.20,188.04 348.70,188.36 350.20,187.54 351.70,187.71 353.20,187.84 354.70,188.51 356.20,187.67 357.70,187.96 359.20,188.47 360.70,188.80 362.20,188.03 363.70,188.35 365.20,188.65 366.70,188.70 368.20,188.81 369.70,188.85 371.20,188.35 372.70,188.36 374.20,188.13 375.70,188.79 377.20,188.31 378.70,188.36 380.20,189.06 381.70,188.74 383.20,188.69 384.70,188.76 386.20,188.70 387.70,188.79 389.20,188.40 390.70,188.16 392.20,188.17 393.70,188.11 395.20,188.46 396.70,188.24 398.20,188.21 399.70,188.59 401.20,189.07 402.70,188.78 404.20,188.36 405.70,188.85 407.20,188.26 408.70,188.17 410.20,188.37 411.70,188.47 413.20,188.75 414.70,188.50 416.20,188.78 417.70,188.14 419.20,188.97 420.70,188.38 422.20,188.86 423.70,188.06 425.20,188.85 426.70,188.24 428.20,188.87 429.70,188.81 431.20,188.67 432.70,188.28 434.20,188.00 435.70,188.18 437.20,188.89 438.70,188.14 440.20,188.63 441.70,188.56 443.20,188.63 444.70,188.14 446.20,188.10 447.70,188.05 449.20,188.93 450.70,188.32 452.20,188.59 453.70,188.50 455.20,188.15 456.70,187.99 458.20,187.93 459.70,188.76 461.20,188.04 462.70,188.87 464.20,188.26 465.70,188.62 467.20,188.03 468.70,188.67 470.20,188.13 471.70,188.24 473.20,188.39 474.70,187.98 476.20,188.11 477.70,188.65 479.20,188.13 480.70,188.23 482.20,188.60 483.70,188.06 485.20,188.02 486.70,188.04 488.20,188.20 489.70,188.18 491.20,188.45 492.70,188.28 494.20,188.67 495.70,187.85 497.20,188.46 498.70,188.62 500.20,188.02 501.70,187.81 503.20,188.21 504.70,187.88 506.20,188.22 507.70,188.47 509.20,187.85 510.70,187.87 512.20,188.22 513.70,187.91 515.20,187.97 516.70,188.17 518.20,187.84 519.70,187.79 521.20,188.08 522.70,188.18 524.20,188.64" stroke="#f01818" stroke-width="3.6" fill="none" stroke-linejoin="round" stroke-linecap="round" />
<circle cx="343.8" cy="185.2" r="1.4" fill="#f01818"/>
<polyline points="213.70,194.29 215.20,193.74 216.70,193.96 218.20,194.62 219.70,194.44 221.20,194.84 222.70,194.99 224.20,194.90 225.70,194.03 227.20,195.07 228.70,194.60 230.20,194.30 231.70,194.25 233.20,195.11 234.70,194.37 236.20,194.25 237.70,194.50 239.20,195.33 240.70,194.81 242.20,195.16 243.70,194.41 245.20,194.90 246.70,194.77 248.20,194.67 249.70,195.26 251.20,194.93 252.70,194.68 254.20,195.75 255.70,195.18 257.20,194.85 258.70,194.68 260.20,195.49 261.70,195.36 263.20,194.81 264.70,195.38 266.20,195.73 267.70,195.53 269.20,195.20 270.70,195.55 272.20,195.71 273.70,195.80 275.20,195.23 276.70,196.05 278.20,196.26 279.70,196.05 281.20,196.22 282.70,195.67 284.20,196.35 285.70,195.52 287.20,195.61 288.70,196.09 290.20,196.49 291.70,195.58 293.20,195.82 294.70,195.68 296.20,196.24 297.70,195.95 299.20,196.09 300.70,196.83 302.20,196.71 303.70,197.21 305.20,196.64 306.70,197.05 308.20,196.33 309.70,197.52 311.20,196.74 312.70,197.11 314.20,197.22 315.70,197.82 317.20,197.35 318.70,198.03 320.20,197.66 321.70,197.24 323.20,198.06 324.70,197.38 326.20,198.41 327.70,197.83 329.20,197.63 330.70,198.61 332.20,197.96 333.70,198.18 335.20,198.23 336.70,198.74 338.20,198.08 339.70,198.62 341.20,198.49 342.70,199.41 344.20,198.54 345.70,199.39 347.20,199.09 348.70,199.44 350.20,199.68 351.70,199.88 353.20,199.22 354.70,199.36 356.20,199.24 357.70,200.28 359.20,199.33 360.70,199.34 362.20,199.82 363.70,199.92 365.20,200.31 366.70,199.34 368.20,199.57 369.70,199.52 371.20,200.04 372.70,199.91 374.20,199.88 375.70,200.48 377.20,200.23 378.70,200.49 380.20,200.63 381.70,199.83 383.20,200.66 384.70,200.04 386.20,199.64 387.70,200.70 389.20,199.75 390.70,199.67 392.20,200.02 393.70,200.05 395.20,200.88 396.70,200.79 398.20,200.28 399.70,200.43 401.20,200.83 402.70,200.80 404.20,200.63 405.70,200.48 407.20,200.03 408.70,200.20 410.20,200.71 411.70,200.64 413.20,200.92 414.70,201.05 416.20,201.15 417.70,200.24 419.20,200.12 420.70,201.13 422.20,200.75 423.70,200.30 425.20,200.93 426.70,200.43 428.20,200.42 429.70,200.60 431.20,200.80 432.70,201.01 434.20,200.30 435.70,201.12 437.20,201.00 438.70,200.83 440.20,201.09 441.70,201.26 443.20,200.33 444.70,200.91 446.20,201.17 447.70,201.22 449.20,201.17 450.70,200.62 452.20,201.55 453.70,201.34 455.20,200.68 456.70,200.92 458.20,201.55 459.70,200.65 461.20,200.89 462.70,201.55 464.20,201.48 465.70,200.68 467.20,201.28 468.70,200.83 470.20,201.20 471.70,201.32 473.20,200.55 474.70,200.67 476.20,200.66 477.70,200.72 479.20,200.44 480.70,200.56 482.20,200.89 483.70,200.90 485.20,200.51 486.70,201.22 488.20,201.76 489.70,201.42 491.20,201.27 492.70,201.79 494.20,201.58 495.70,201.37 497.20,201.84 498.70,201.39 500.20,202.29 501.70,201.77 503.20,202.13 504.70,202.95 506.20,202.82 507.70,203.01 509.20,202.88 510.70,202.98 512.20,203.17 513.70,203.59 515.20,202.77 516.70,203.56 518.20,203.11 519.70,203.16 521.20,203.95 522.70,203.79 524.20,204.19" stroke="#111" stroke-width="3.8" fill="none" stroke-linejoin="round" stroke-linecap="round" />
<circle cx="526.00" cy="242.30" r="0.9" fill="#f03030"/>
<text x="225.60" y="175.94" font-size="9.2" fill="#f01818" style="font-family:'Liberation Serif',serif;font-weight:bold" textLength="31.10" lengthAdjust="spacingAndGlyphs">150 F g<tspan baseline-shift="super" font-size="6.5">-1</tspan></text>
<line x1="224.40" y1="175.60" x2="218.80" y2="182.80" stroke="#f01818" stroke-width="1.0"/>
<polygon points="217.60,184.40 218.20,180.20 221.00,182.40" fill="#f01818" stroke="none" stroke-width="1" />
<circle cx="241.50" cy="222.30" r="1.3" fill="#f01818"/>
<text x="249.40" y="225.11" font-size="8.5" fill="#000" style="font-family:'Liberation Serif',serif;font-weight:bold" textLength="29.90" lengthAdjust="spacingAndGlyphs">ZSNIAC</text>
<circle cx="241.50" cy="232.10" r="1.3" fill="#111"/>
<text x="249.40" y="234.91" font-size="8.5" fill="#000" style="font-family:'Liberation Serif',serif;font-weight:bold" textLength="41.90" lengthAdjust="spacingAndGlyphs">Bare ZnIAC</text>
<text x="346.90" y="225.77" font-size="7.8" fill="#000" style="font-family:'Liberation Serif',serif;font-weight:bold" textLength="17.80" lengthAdjust="spacingAndGlyphs">2 A g</text>
<text x="365.10" y="221.55" font-size="5.0" fill="#000" style="font-family:'Liberation Serif',serif;font-weight:bold" textLength="4.80" lengthAdjust="spacingAndGlyphs">-1</text>
<rect x="31.00" y="274.50" width="152.20" height="106.10" stroke="#222" stroke-width="1" fill="none"/>
<text x="4.20" y="282.30" font-size="16" fill="#000" style="font-family:'Liberation Serif',serif;font-weight:bold" textLength="14.60" lengthAdjust="spacingAndGlyphs">(f)</text>
<line x1="29.20" y1="369.50" x2="31.00" y2="369.50" stroke="#222" stroke-width="0.8"/>
<text x="28.60" y="371.22" font-size="5.2" fill="#000" style="font-family:'Liberation Serif',serif;font-weight:bold" text-anchor="end">0</text>
<line x1="29.20" y1="356.55" x2="31.00" y2="356.55" stroke="#222" stroke-width="0.8"/>
<text x="28.60" y="358.26" font-size="5.2" fill="#000" style="font-family:'Liberation Serif',serif;font-weight:bold" text-anchor="end">30</text>
<line x1="29.20" y1="343.60" x2="31.00" y2="343.60" stroke="#222" stroke-width="0.8"/>
<text x="28.60" y="345.31" font-size="5.2" fill="#000" style="font-family:'Liberation Serif',serif;font-weight:bold" text-anchor="end">60</text>
<line x1="29.20" y1="330.65" x2="31.00" y2="330.65" stroke="#222" stroke-width="0.8"/>
<text x="28.60" y="332.36" font-size="5.2" fill="#000" style="font-family:'Liberation Serif',serif;font-weight:bold" text-anchor="end">90</text>
<line x1="29.20" y1="317.70" x2="31.00" y2="317.70" stroke="#222" stroke-width="0.8"/>
<text x="28.60" y="319.41" font-size="5.2" fill="#000" style="font-family:'Liberation Serif',serif;font-weight:bold" text-anchor="end">120</text>
<line x1="29.20" y1="304.75" x2="31.00" y2="304.75" stroke="#222" stroke-width="0.8"/>
<text x="28.60" y="306.46" font-size="5.2" fill="#000" style="font-family:'Liberation Serif',serif;font-weight:bold" text-anchor="end">150</text>
<line x1="29.20" y1="291.79" x2="31.00" y2="291.79" stroke="#222" stroke-width="0.8"/>
<text x="28.60" y="293.51" font-size="5.2" fill="#000" style="font-family:'Liberation Serif',serif;font-weight:bold" text-anchor="end">180</text>
<line x1="29.20" y1="278.84" x2="31.00" y2="278.84" stroke="#222" stroke-width="0.8"/>
<text x="28.60" y="280.56" font-size="5.2" fill="#000" style="font-family:'Liberation Serif',serif;font-weight:bold" text-anchor="end">210</text>
<line x1="30.00" y1="363.02" x2="31.00" y2="363.02" stroke="#222" stroke-width="0.6"/>
<line x1="30.00" y1="350.07" x2="31.00" y2="350.07" stroke="#222" stroke-width="0.6"/>
<line x1="30.00" y1="337.12" x2="31.00" y2="337.12" stroke="#222" stroke-width="0.6"/>
<line x1="30.00" y1="324.17" x2="31.00" y2="324.17" stroke="#222" stroke-width="0.6"/>
<line x1="30.00" y1="311.22" x2="31.00" y2="311.22" stroke="#222" stroke-width="0.6"/>
<line x1="30.00" y1="298.27" x2="31.00" y2="298.27" stroke="#222" stroke-width="0.6"/>
<line x1="30.00" y1="285.32" x2="31.00" y2="285.32" stroke="#222" stroke-width="0.6"/>
<line x1="30.00" y1="375.98" x2="31.00" y2="375.98" stroke="#222" stroke-width="0.6"/>
<line x1="46.40" y1="380.60" x2="46.40" y2="382.40" stroke="#222" stroke-width="0.8"/>
<text x="46.40" y="389.02" font-size="5.2" fill="#000" style="font-family:'Liberation Serif',serif;font-weight:bold" text-anchor="middle">0</text>
<line x1="77.30" y1="380.60" x2="77.30" y2="382.40" stroke="#222" stroke-width="0.8"/>
<text x="77.30" y="389.02" font-size="5.2" fill="#000" style="font-family:'Liberation Serif',serif;font-weight:bold" text-anchor="middle">50</text>
<line x1="108.20" y1="380.60" x2="108.20" y2="382.40" stroke="#222" stroke-width="0.8"/>
<text x="108.20" y="389.02" font-size="5.2" fill="#000" style="font-family:'Liberation Serif',serif;font-weight:bold" text-anchor="middle">100</text>
<line x1="139.10" y1="380.60" x2="139.10" y2="382.40" stroke="#222" stroke-width="0.8"/>
<text x="139.10" y="389.02" font-size="5.2" fill="#000" style="font-family:'Liberation Serif',serif;font-weight:bold" text-anchor="middle">150</text>
<line x1="170.00" y1="380.60" x2="170.00" y2="382.40" stroke="#222" stroke-width="0.8"/>
<text x="170.00" y="389.02" font-size="5.2" fill="#000" style="font-family:'Liberation Serif',serif;font-weight:bold" text-anchor="middle">200</text>
<line x1="30.95" y1="380.60" x2="30.95" y2="381.60" stroke="#222" stroke-width="0.6"/>
<line x1="61.85" y1="380.60" x2="61.85" y2="381.60" stroke="#222" stroke-width="0.6"/>
<line x1="92.75" y1="380.60" x2="92.75" y2="381.60" stroke="#222" stroke-width="0.6"/>
<line x1="123.65" y1="380.60" x2="123.65" y2="381.60" stroke="#222" stroke-width="0.6"/>
<line x1="154.55" y1="380.60" x2="154.55" y2="381.60" stroke="#222" stroke-width="0.6"/>
<text x="95.90" y="400.40" font-size="10" fill="#000" style="font-family:'Liberation Serif',serif;font-weight:bold" textLength="30.70" lengthAdjust="spacingAndGlyphs">Z' (ohm)</text>
<text transform="translate(14.84,327.20) rotate(-90)" x="0" y="0" font-size="8.6" fill="#000" style="font-family:'Liberation Serif',serif;font-weight:bold" text-anchor="middle" textLength="36.80" lengthAdjust="spacingAndGlyphs">-Z'' (ohm)</text>
<text x="35.50" y="282.31" font-size="5.5" fill="#000" style="font-family:'Liberation Serif',serif;font-weight:bold;font-style:italic" textLength="33.50" lengthAdjust="spacingAndGlyphs">After 50 cycles</text>
<polyline points="40.00,292.30 44.50,292.30" stroke="#222" stroke-width="0.7" fill="none" stroke-linejoin="round" stroke-linecap="round" />
<polyline points="44.50,292.30 46.63,293.90 48.77,290.70 50.90,293.90 53.03,290.70 55.17,293.90 57.30,292.30" stroke="#222" stroke-width="0.7" fill="none" stroke-linejoin="round" stroke-linecap="round" />
<polyline points="57.30,292.30 72.70,292.30" stroke="#222" stroke-width="0.7" fill="none" stroke-linejoin="round" stroke-linecap="round" />
<polyline points="72.70,292.30 74.83,293.90 76.97,290.70 79.10,293.90 81.23,290.70 83.37,293.90 85.50,292.30" stroke="#222" stroke-width="0.7" fill="none" stroke-linejoin="round" stroke-linecap="round" />
<polyline points="85.50,292.30 99.00,292.30" stroke="#222" stroke-width="0.7" fill="none" stroke-linejoin="round" stroke-linecap="round" />
<polyline points="68.20,292.30 68.20,301.40 90.40,301.40 90.40,292.30" stroke="#222" stroke-width="0.7" fill="none" stroke-linejoin="round" stroke-linecap="round" />
<polyline points="76.00,299.80 77.60,301.40 76.00,303.00" stroke="#222" stroke-width="0.6" fill="none" stroke-linejoin="round" stroke-linecap="round" />
<polyline points="78.40,299.80 80.00,301.40 78.40,303.00" stroke="#222" stroke-width="0.6" fill="none" stroke-linejoin="round" stroke-linecap="round" />
<circle cx="68.20" cy="292.30" r="1.4" fill="#111"/>
<polyline points="99.00,292.30 101.00,290.70 103.00,293.90 105.00,290.70 107.00,292.30" stroke="#222" stroke-width="0.6" fill="none" stroke-linejoin="round" stroke-linecap="round" />
<polyline points="107.00,292.30 110.00,292.30" stroke="#222" stroke-width="0.7" fill="none" stroke-linejoin="round" stroke-linecap="round" />
<text x="51.00" y="289.49" font-size="3.6" fill="#000" style="font-family:'Liberation Serif',serif;font-weight:bold" text-anchor="middle">R1</text>
<text x="79.00" y="289.49" font-size="3.6" fill="#000" style="font-family:'Liberation Serif',serif;font-weight:bold" text-anchor="middle">R2</text>
<text x="79.20" y="298.59" font-size="3.6" fill="#000" style="font-family:'Liberation Serif',serif;font-weight:bold" text-anchor="middle">CPE1</text>
<text x="103.00" y="289.49" font-size="3.6" fill="#000" style="font-family:'Liberation Serif',serif;font-weight:bold" text-anchor="middle">W1</text>
<circle cx="138.00" cy="281.00" r="1.2" fill="#111"/>
<text x="144.40" y="282.85" font-size="5.6" fill="#000" style="font-family:'Liberation Serif',serif;font-weight:bold" textLength="28.40" lengthAdjust="spacingAndGlyphs">Bare Zn|AC</text>
<circle cx="138.00" cy="287.70" r="1.2" fill="#f01818"/>
<text x="144.40" y="289.55" font-size="5.6" fill="#000" style="font-family:'Liberation Serif',serif;font-weight:bold" textLength="19.60" lengthAdjust="spacingAndGlyphs">ZSN|AC</text>
<line x1="132.00" y1="294.30" x2="142.70" y2="294.30" stroke="#2030e0" stroke-width="1.0"/>
<text x="144.40" y="296.15" font-size="5.6" fill="#000" style="font-family:'Liberation Serif',serif;font-weight:bold" textLength="31.40" lengthAdjust="spacingAndGlyphs">Fitting results</text>
<circle cx="49.60" cy="371.20" r="1.1" fill="#111"/>
<circle cx="50.16" cy="370.65" r="1.1" fill="#111"/>
<circle cx="50.96" cy="369.87" r="1.1" fill="#111"/>
<circle cx="51.92" cy="368.98" r="1.1" fill="#111"/>
<circle cx="53.00" cy="368.10" r="1.1" fill="#111"/>
<circle cx="54.14" cy="367.22" r="1.1" fill="#111"/>
<circle cx="55.38" cy="366.28" r="1.1" fill="#111"/>
<circle cx="56.81" cy="365.38" r="1.1" fill="#111"/>
<circle cx="58.50" cy="364.60" r="1.1" fill="#111"/>
<circle cx="60.56" cy="363.91" r="1.1" fill="#111"/>
<circle cx="62.92" cy="363.28" r="1.1" fill="#111"/>
<circle cx="65.39" cy="362.81" r="1.1" fill="#111"/>
<circle cx="67.80" cy="362.60" r="1.1" fill="#111"/>
<circle cx="70.10" cy="362.74" r="1.1" fill="#111"/>
<circle cx="72.40" cy="363.16" r="1.1" fill="#111"/>
<circle cx="74.70" cy="363.69" r="1.1" fill="#111"/>
<circle cx="77.00" cy="364.20" r="1.1" fill="#111"/>
<circle cx="79.45" cy="364.71" r="1.1" fill="#111"/>
<circle cx="81.99" cy="365.29" r="1.1" fill="#111"/>
<circle cx="84.37" cy="365.79" r="1.1" fill="#111"/>
<circle cx="86.30" cy="366.10" r="1.1" fill="#111"/>
<circle cx="87.65" cy="366.18" r="1.1" fill="#111"/>
<circle cx="88.57" cy="366.10" r="1.1" fill="#111"/>
<circle cx="89.29" cy="365.87" r="1.1" fill="#111"/>
<circle cx="90.00" cy="365.50" r="1.1" fill="#111"/>
<circle cx="90.73" cy="364.95" r="1.1" fill="#111"/>
<circle cx="91.38" cy="364.23" r="1.1" fill="#111"/>
<circle cx="91.96" cy="363.41" r="1.1" fill="#111"/>
<circle cx="92.50" cy="362.60" r="1.1" fill="#111"/>
<circle cx="93.02" cy="361.71" r="1.1" fill="#111"/>
<circle cx="93.51" cy="360.72" r="1.1" fill="#111"/>
<circle cx="93.91" cy="359.82" r="1.1" fill="#111"/>
<circle cx="94.20" cy="359.20" r="1.1" fill="#111"/>
<circle cx="95.60" cy="355.60" r="1.15" fill="#111"/>
<circle cx="97.00" cy="351.90" r="1.15" fill="#111"/>
<circle cx="98.90" cy="347.80" r="1.15" fill="#111"/>
<circle cx="100.70" cy="344.10" r="1.15" fill="#111"/>
<circle cx="102.60" cy="339.30" r="1.15" fill="#111"/>
<circle cx="104.40" cy="334.30" r="1.15" fill="#111"/>
<circle cx="106.70" cy="328.10" r="1.15" fill="#111"/>
<circle cx="109.10" cy="320.70" r="1.15" fill="#111"/>
<circle cx="111.90" cy="312.00" r="1.15" fill="#111"/>
<circle cx="115.00" cy="301.90" r="1.15" fill="#111"/>
<circle cx="92.50" cy="362.00" r="1.1" fill="#111"/>
<circle cx="92.81" cy="361.38" r="1.1" fill="#111"/>
<circle cx="93.26" cy="360.49" r="1.1" fill="#111"/>
<circle cx="93.76" cy="359.50" r="1.1" fill="#111"/>
<circle cx="94.20" cy="358.60" r="1.1" fill="#111"/>
<circle cx="94.60" cy="357.75" r="1.1" fill="#111"/>
<circle cx="95.01" cy="356.89" r="1.1" fill="#111"/>
<circle cx="95.36" cy="356.13" r="1.1" fill="#111"/>
<circle cx="95.60" cy="355.60" r="1.1" fill="#111"/>
<circle cx="48.00" cy="368.60" r="1.1" fill="#f01818"/>
<circle cx="48.99" cy="367.86" r="1.1" fill="#f01818"/>
<circle cx="50.39" cy="366.92" r="1.1" fill="#f01818"/>
<circle cx="51.82" cy="366.40" r="1.1" fill="#f01818"/>
<circle cx="53.36" cy="366.21" r="1.1" fill="#f01818"/>
<circle cx="54.80" cy="366.30" r="1.1" fill="#f01818"/>
<circle cx="55.94" cy="366.78" r="1.1" fill="#f01818"/>
<circle cx="56.96" cy="367.48" r="1.1" fill="#f01818"/>
<circle cx="58.06" cy="368.14" r="1.1" fill="#f01818"/>
<circle cx="59.22" cy="368.90" r="1.1" fill="#f01818"/>
<circle cx="60.40" cy="369.20" r="1.1" fill="#f01818"/>
<circle cx="61.66" cy="368.58" r="1.1" fill="#f01818"/>
<circle cx="62.92" cy="367.50" r="1.1" fill="#f01818"/>
<circle cx="64.03" cy="366.55" r="1.1" fill="#f01818"/>
<circle cx="65.01" cy="365.65" r="1.1" fill="#f01818"/>
<circle cx="65.90" cy="364.80" r="1.1" fill="#f01818"/>
<circle cx="66.68" cy="364.06" r="1.1" fill="#f01818"/>
<circle cx="67.41" cy="363.37" r="1.1" fill="#f01818"/>
<circle cx="68.23" cy="362.62" r="1.1" fill="#f01818"/>
<circle cx="69.16" cy="361.85" r="1.1" fill="#f01818"/>
<circle cx="70.00" cy="361.00" r="1.1" fill="#f01818"/>
<circle cx="70.64" cy="360.06" r="1.1" fill="#f01818"/>
<circle cx="71.19" cy="359.03" r="1.1" fill="#f01818"/>
<circle cx="71.87" cy="357.90" r="1.1" fill="#f01818"/>
<circle cx="72.70" cy="356.57" r="1.1" fill="#f01818"/>
<circle cx="73.30" cy="355.60" r="1.1" fill="#f01818"/>
<circle cx="74.80" cy="351.90" r="1.15" fill="#f01818"/>
<circle cx="76.10" cy="348.50" r="1.15" fill="#f01818"/>
<circle cx="78.00" cy="344.40" r="1.15" fill="#f01818"/>
<circle cx="79.40" cy="340.40" r="1.15" fill="#f01818"/>
<circle cx="81.50" cy="336.10" r="1.15" fill="#f01818"/>
<circle cx="83.10" cy="331.50" r="1.15" fill="#f01818"/>
<circle cx="84.40" cy="325.00" r="1.15" fill="#f01818"/>
<polyline points="50.20,369.60 50.40,369.40 50.64,369.14 50.93,368.84 51.26,368.49 51.63,368.13 52.04,367.75 52.50,367.37 53.00,367.00 53.53,366.63 54.10,366.23 54.70,365.82 55.34,365.41 56.04,365.00 56.79,364.60 57.61,364.23 58.50,363.90 59.48,363.58 60.56,363.25 61.71,362.93 62.92,362.64 64.15,362.38 65.39,362.18 66.62,362.05 67.80,362.00 68.95,362.06 70.10,362.21 71.25,362.44 72.40,362.72 73.55,363.03 74.70,363.34 75.85,363.64 77.00,363.90 78.20,364.15 79.45,364.42 80.73,364.70 81.99,364.97 83.22,365.23 84.37,365.44 85.40,365.60 86.30,365.70 87.04,365.73 87.64,365.72 88.14,365.67 88.56,365.57 88.92,365.43 89.27,365.26 89.62,365.05 90.00,364.80 90.41,364.48 90.83,364.07 91.24,363.59 91.63,363.09 91.99,362.60 92.32,362.15 92.59,361.77 92.80,361.50" stroke="#1a2a9a" stroke-width="1.5" fill="none" stroke-linejoin="round" stroke-linecap="round" />
<polyline points="48.30,368.90 48.51,368.72 48.78,368.46 49.11,368.16 49.47,367.82 49.86,367.49 50.27,367.17 50.69,366.90 51.10,366.70 51.51,366.54 51.92,366.39 52.34,366.26 52.77,366.17 53.23,366.11 53.72,366.11 54.24,366.17 54.80,366.30 55.41,366.57 56.07,367.01 56.77,367.54 57.49,368.11 58.22,368.65 58.96,369.08 59.69,369.36 60.40,369.40 61.12,369.18 61.86,368.74 62.62,368.14 63.37,367.44 64.09,366.69 64.77,365.97 65.38,365.32 65.90,364.80 66.34,364.39 66.71,364.01 67.03,363.67 67.29,363.36 67.52,363.09 67.70,362.86 67.86,362.66 68.00,362.50" stroke="#2030c0" stroke-width="1.0" fill="none" stroke-linejoin="round" stroke-linecap="round" />
<rect x="117.4" y="331.2" width="62.20" height="45.20" fill="#fff" stroke="#555" stroke-width="0.7"/>
<text x="121.60" y="340.92" font-size="4.6" fill="#000" style="font-family:'Liberation Serif',serif;font-weight:normal" textLength="24.70" lengthAdjust="spacingAndGlyphs">Before cycling</text>
<line x1="117.40" y1="339.40" x2="118.60" y2="339.40" stroke="#555" stroke-width="0.5"/>
<text x="117.00" y="340.65" font-size="3.8" fill="#000" style="font-family:'Liberation Serif',serif;font-weight:bold" text-anchor="end">40</text>
<line x1="117.40" y1="356.60" x2="118.60" y2="356.60" stroke="#555" stroke-width="0.5"/>
<text x="117.00" y="357.85" font-size="3.8" fill="#000" style="font-family:'Liberation Serif',serif;font-weight:bold" text-anchor="end">20</text>
<line x1="117.40" y1="376.10" x2="118.60" y2="376.10" stroke="#555" stroke-width="0.5"/>
<text x="117.00" y="377.35" font-size="3.8" fill="#000" style="font-family:'Liberation Serif',serif;font-weight:bold" text-anchor="end">0</text>
<line x1="118.50" y1="376.40" x2="118.50" y2="375.20" stroke="#555" stroke-width="0.5"/>
<text x="118.50" y="379.05" font-size="3.8" fill="#000" style="font-family:'Liberation Serif',serif;font-weight:bold" text-anchor="middle">0</text>
<line x1="142.90" y1="376.40" x2="142.90" y2="375.20" stroke="#555" stroke-width="0.5"/>
<text x="142.90" y="379.05" font-size="3.8" fill="#000" style="font-family:'Liberation Serif',serif;font-weight:bold" text-anchor="middle">20</text>
<line x1="168.50" y1="376.40" x2="168.50" y2="375.20" stroke="#555" stroke-width="0.5"/>
<text x="168.50" y="379.05" font-size="3.8" fill="#000" style="font-family:'Liberation Serif',serif;font-weight:bold" text-anchor="middle">40</text>
<line x1="130.70" y1="376.40" x2="130.70" y2="375.60" stroke="#555" stroke-width="0.4"/>
<line x1="155.70" y1="376.40" x2="155.70" y2="375.60" stroke="#555" stroke-width="0.4"/>
<text x="140.40" y="382.42" font-size="3.4" fill="#000" style="font-family:'Liberation Serif',serif;font-weight:normal" textLength="14.80" lengthAdjust="spacingAndGlyphs">Z' (ohm)</text>
<circle cx="121.10" cy="376.10" r="0.6" fill="#222"/>
<circle cx="121.75" cy="375.42" r="0.6" fill="#222"/>
<circle cx="122.67" cy="374.44" r="0.6" fill="#222"/>
<circle cx="123.73" cy="373.36" r="0.6" fill="#222"/>
<circle cx="124.80" cy="372.40" r="0.6" fill="#222"/>
<circle cx="125.87" cy="371.56" r="0.6" fill="#222"/>
<circle cx="127.01" cy="370.76" r="0.6" fill="#222"/>
<circle cx="128.16" cy="370.02" r="0.6" fill="#222"/>
<circle cx="129.30" cy="369.40" r="0.6" fill="#222"/>
<circle cx="130.30" cy="368.92" r="0.6" fill="#222"/>
<circle cx="131.22" cy="368.56" r="0.6" fill="#222"/>
<circle cx="132.29" cy="368.27" r="0.6" fill="#222"/>
<circle cx="133.70" cy="368.00" r="0.6" fill="#222"/>
<circle cx="135.57" cy="367.73" r="0.6" fill="#222"/>
<circle cx="137.77" cy="367.50" r="0.6" fill="#222"/>
<circle cx="140.16" cy="367.32" r="0.6" fill="#222"/>
<circle cx="142.60" cy="367.20" r="0.6" fill="#222"/>
<circle cx="145.13" cy="367.22" r="0.6" fill="#222"/>
<circle cx="147.80" cy="367.34" r="0.6" fill="#222"/>
<circle cx="150.47" cy="367.45" r="0.6" fill="#222"/>
<circle cx="153.00" cy="367.40" r="0.6" fill="#222"/>
<circle cx="155.30" cy="367.20" r="0.6" fill="#222"/>
<circle cx="157.46" cy="366.89" r="0.6" fill="#222"/>
<circle cx="159.61" cy="366.47" r="0.6" fill="#222"/>
<circle cx="161.90" cy="365.90" r="0.6" fill="#222"/>
<circle cx="164.45" cy="365.12" r="0.6" fill="#222"/>
<circle cx="167.16" cy="364.17" r="0.6" fill="#222"/>
<circle cx="169.81" cy="363.16" r="0.6" fill="#222"/>
<circle cx="172.20" cy="362.20" r="0.6" fill="#222"/>
<circle cx="174.39" cy="361.25" r="0.6" fill="#222"/>
<circle cx="176.44" cy="360.27" r="0.6" fill="#222"/>
<circle cx="178.18" cy="359.40" r="0.6" fill="#222"/>
<circle cx="179.40" cy="358.80" r="0.6" fill="#222"/>
<polyline points="121.10,376.10 121.38,375.81 121.75,375.42 122.18,374.95 122.67,374.44 123.19,373.90 123.73,373.36 124.27,372.85 124.80,372.40 125.32,371.98 125.87,371.56 126.43,371.15 127.01,370.76 127.58,370.38 128.16,370.02 128.74,369.69 129.30,369.40 129.82,369.14 130.30,368.92 130.76,368.73 131.22,368.56 131.72,368.41 132.29,368.27 132.94,368.14 133.70,368.00 134.59,367.86 135.57,367.73 136.64,367.61 137.77,367.50 138.95,367.40 140.16,367.32 141.38,367.25 142.60,367.20 143.84,367.19 145.13,367.22 146.46,367.28 147.80,367.34 149.14,367.41 150.47,367.45 151.76,367.45 153.00,367.40 154.17,367.31 155.30,367.20 156.39,367.06 157.46,366.89 158.53,366.70 159.61,366.47 160.73,366.20 161.90,365.90 163.14,365.54 164.45,365.12 165.80,364.66 167.16,364.17 168.50,363.66 169.81,363.16 171.05,362.66 172.20,362.20 173.30,361.74 174.39,361.25 175.44,360.75 176.44,360.27 177.36,359.81 178.18,359.40 178.87,359.06 179.40,358.80" stroke="#1a2aa0" stroke-width="1.4" fill="none" stroke-linejoin="round" stroke-linecap="round" />
<circle cx="121.10" cy="376.10" r="0.65" fill="#f01818"/>
<circle cx="122.22" cy="375.61" r="0.65" fill="#f01818"/>
<circle cx="123.79" cy="374.95" r="0.65" fill="#f01818"/>
<circle cx="125.26" cy="374.48" r="0.65" fill="#f01818"/>
<circle cx="126.65" cy="374.21" r="0.65" fill="#f01818"/>
<circle cx="128.04" cy="374.04" r="0.65" fill="#f01818"/>
<circle cx="129.41" cy="373.97" r="0.65" fill="#f01818"/>
<circle cx="130.75" cy="374.02" r="0.65" fill="#f01818"/>
<circle cx="132.20" cy="373.90" r="0.65" fill="#f01818"/>
<circle cx="133.77" cy="373.60" r="0.65" fill="#f01818"/>
<circle cx="135.46" cy="373.07" r="0.65" fill="#f01818"/>
<circle cx="137.35" cy="371.94" r="0.65" fill="#f01818"/>
<circle cx="139.37" cy="370.17" r="0.65" fill="#f01818"/>
<circle cx="141.71" cy="367.98" r="0.65" fill="#f01818"/>
<circle cx="144.61" cy="365.50" r="0.65" fill="#f01818"/>
<circle cx="148.03" cy="362.67" r="0.65" fill="#f01818"/>
<circle cx="151.50" cy="359.80" r="0.65" fill="#f01818"/>
<circle cx="155.15" cy="356.81" r="0.65" fill="#f01818"/>
<circle cx="158.68" cy="353.91" r="0.65" fill="#f01818"/>
<circle cx="160.97" cy="351.84" r="0.65" fill="#f01818"/>
<circle cx="161.81" cy="350.69" r="0.65" fill="#f01818"/>
<circle cx="162.02" cy="350.06" r="0.65" fill="#f01818"/>
<polyline points="121.10,376.10 121.39,375.98 121.76,375.81 122.22,375.61 122.72,375.39 123.25,375.16 123.79,374.95 124.31,374.75 124.80,374.60 125.26,374.48 125.72,374.38 126.19,374.29 126.65,374.21 127.11,374.15 127.58,374.09 128.04,374.04 128.50,374.00 128.96,373.97 129.41,373.97 129.85,373.99 130.30,374.01 130.75,374.02 131.22,374.01 131.70,373.98 132.20,373.90 132.71,373.80 133.24,373.71 133.77,373.60 134.31,373.47 134.87,373.30 135.46,373.07 136.07,372.77 136.70,372.40 137.35,371.94 138.01,371.41 138.68,370.82 139.37,370.17 140.11,369.47 140.88,368.74 141.71,367.98 142.60,367.20 143.57,366.38 144.61,365.50 145.72,364.59 146.86,363.64 148.03,362.67 149.20,361.70 150.37,360.74 151.50,359.80 152.66,358.84 153.89,357.84 155.15,356.81 156.40,355.79 157.59,354.82 158.68,353.91 159.63,353.09 160.40,352.40 160.97,351.84 161.37,351.37 161.64,350.99 161.81,350.69 161.90,350.44 161.96,350.23 162.02,350.06 162.10,349.90" stroke="#3040c0" stroke-width="0.7" fill="none" stroke-linejoin="round" stroke-linecap="round" stroke-dasharray="1.2,0.8"/>
<circle cx="162.10" cy="349.90" r="0.95" fill="#f01818"/>
<rect x="215.40" y="275.00" width="132.30" height="103.00" stroke="#222" stroke-width="1" fill="none"/>
<text x="189.80" y="283.00" font-size="16" fill="#000" style="font-family:'Liberation Serif',serif;font-weight:bold" textLength="16.90" lengthAdjust="spacingAndGlyphs">(g)</text>
<line x1="213.60" y1="378.00" x2="215.40" y2="378.00" stroke="#222" stroke-width="0.8"/>
<text x="213.20" y="379.72" font-size="5.2" fill="#000" style="font-family:'Liberation Serif',serif;font-weight:bold" text-anchor="end">0.0</text>
<line x1="213.60" y1="359.22" x2="215.40" y2="359.22" stroke="#222" stroke-width="0.8"/>
<text x="213.20" y="360.94" font-size="5.2" fill="#000" style="font-family:'Liberation Serif',serif;font-weight:bold" text-anchor="end">0.4</text>
<line x1="213.60" y1="340.44" x2="215.40" y2="340.44" stroke="#222" stroke-width="0.8"/>
<text x="213.20" y="342.16" font-size="5.2" fill="#000" style="font-family:'Liberation Serif',serif;font-weight:bold" text-anchor="end">0.8</text>
<line x1="213.60" y1="321.66" x2="215.40" y2="321.66" stroke="#222" stroke-width="0.8"/>
<text x="213.20" y="323.38" font-size="5.2" fill="#000" style="font-family:'Liberation Serif',serif;font-weight:bold" text-anchor="end">1.2</text>
<line x1="213.60" y1="302.88" x2="215.40" y2="302.88" stroke="#222" stroke-width="0.8"/>
<text x="213.20" y="304.60" font-size="5.2" fill="#000" style="font-family:'Liberation Serif',serif;font-weight:bold" text-anchor="end">1.6</text>
<line x1="213.60" y1="284.10" x2="215.40" y2="284.10" stroke="#222" stroke-width="0.8"/>
<text x="213.20" y="285.82" font-size="5.2" fill="#000" style="font-family:'Liberation Serif',serif;font-weight:bold" text-anchor="end">2.0</text>
<line x1="214.40" y1="368.61" x2="215.40" y2="368.61" stroke="#222" stroke-width="0.6"/>
<line x1="214.40" y1="349.83" x2="215.40" y2="349.83" stroke="#222" stroke-width="0.6"/>
<line x1="214.40" y1="331.05" x2="215.40" y2="331.05" stroke="#222" stroke-width="0.6"/>
<line x1="214.40" y1="312.27" x2="215.40" y2="312.27" stroke="#222" stroke-width="0.6"/>
<line x1="214.40" y1="293.49" x2="215.40" y2="293.49" stroke="#222" stroke-width="0.6"/>
<line x1="226.70" y1="378.00" x2="226.70" y2="379.80" stroke="#222" stroke-width="0.8"/>
<text x="226.70" y="384.52" font-size="5.2" fill="#000" style="font-family:'Liberation Serif',serif;font-weight:bold" text-anchor="middle">0</text>
<line x1="248.70" y1="378.00" x2="248.70" y2="379.80" stroke="#222" stroke-width="0.8"/>
<text x="248.70" y="384.52" font-size="5.2" fill="#000" style="font-family:'Liberation Serif',serif;font-weight:bold" text-anchor="middle">20</text>
<line x1="270.70" y1="378.00" x2="270.70" y2="379.80" stroke="#222" stroke-width="0.8"/>
<text x="270.70" y="384.52" font-size="5.2" fill="#000" style="font-family:'Liberation Serif',serif;font-weight:bold" text-anchor="middle">40</text>
<line x1="292.70" y1="378.00" x2="292.70" y2="379.80" stroke="#222" stroke-width="0.8"/>
<text x="292.70" y="384.52" font-size="5.2" fill="#000" style="font-family:'Liberation Serif',serif;font-weight:bold" text-anchor="middle">60</text>
<line x1="314.70" y1="378.00" x2="314.70" y2="379.80" stroke="#222" stroke-width="0.8"/>
<text x="314.70" y="384.52" font-size="5.2" fill="#000" style="font-family:'Liberation Serif',serif;font-weight:bold" text-anchor="middle">80</text>
<line x1="336.70" y1="378.00" x2="336.70" y2="379.80" stroke="#222" stroke-width="0.8"/>
<text x="336.70" y="384.52" font-size="5.2" fill="#000" style="font-family:'Liberation Serif',serif;font-weight:bold" text-anchor="middle">100</text>
<line x1="237.70" y1="378.00" x2="237.70" y2="379.00" stroke="#222" stroke-width="0.6"/>
<line x1="259.70" y1="378.00" x2="259.70" y2="379.00" stroke="#222" stroke-width="0.6"/>
<line x1="281.70" y1="378.00" x2="281.70" y2="379.00" stroke="#222" stroke-width="0.6"/>
<line x1="303.70" y1="378.00" x2="303.70" y2="379.00" stroke="#222" stroke-width="0.6"/>
<line x1="325.70" y1="378.00" x2="325.70" y2="379.00" stroke="#222" stroke-width="0.6"/>
<text x="236.50" y="397.00" font-size="8.5" fill="#000" style="font-family:'Liberation Serif',serif;font-weight:bold" textLength="90.50" lengthAdjust="spacingAndGlyphs">Specific Capacity (mAh g<tspan baseline-shift="super" font-size="5">-1</tspan>)</text>
<text transform="translate(204.31,330.00) rotate(-90)" x="0" y="0" font-size="8.2" fill="#000" style="font-family:'Liberation Serif',serif;font-weight:bold" text-anchor="middle" textLength="37.80" lengthAdjust="spacingAndGlyphs">Voltage (V)</text>
<line x1="220.50" y1="283.10" x2="231.40" y2="283.10" stroke="#f01818" stroke-width="1.1"/>
<text x="231.90" y="285.91" font-size="8.5" fill="#000" style="font-family:'Liberation Serif',serif;font-weight:bold" textLength="28.60" lengthAdjust="spacingAndGlyphs">ZSNIAC</text>
<line x1="220.50" y1="292.70" x2="231.40" y2="292.70" stroke="#222" stroke-width="1.1"/>
<text x="231.90" y="295.50" font-size="8.5" fill="#000" style="font-family:'Liberation Serif',serif;font-weight:bold" textLength="23.10" lengthAdjust="spacingAndGlyphs">ZnIAC</text>
<polyline points="226.70,366.26 226.97,365.57 227.31,364.65 227.72,363.56 228.18,362.34 228.69,361.04 229.24,359.71 229.83,358.38 230.44,357.11 231.10,355.83 231.83,354.47 232.61,353.08 233.42,351.67 234.25,350.28 235.08,348.95 235.91,347.71 236.71,346.59 237.49,345.60 238.25,344.72 239.01,343.92 239.78,343.17 240.55,342.47 241.34,341.77 242.14,341.05 242.98,340.30 243.83,339.54 244.70,338.79 245.57,338.07 246.47,337.33 247.38,336.58 248.33,335.80 249.32,334.98 250.35,334.10 251.41,333.17 252.50,332.21 253.61,331.20 254.76,330.17 255.95,329.10 257.18,328.00 258.47,326.86 259.81,325.70 261.25,324.46 262.80,323.14 264.41,321.77 266.07,320.37 267.72,318.99 269.34,317.64 270.90,316.36 272.35,315.18 273.69,314.09 274.95,313.04 276.15,312.04 277.31,311.09 278.45,310.19 279.61,309.34 280.79,308.55 282.03,307.81 283.28,307.15 284.51,306.58 285.74,306.08 286.99,305.62 288.29,305.18 289.66,304.75 291.12,304.31 292.70,303.82 294.40,303.31 296.19,302.82 298.07,302.33 300.03,301.84 302.04,301.33 304.11,300.79 306.20,300.21 308.32,299.59 310.61,298.88 313.15,298.06 315.81,297.17 318.48,296.28 321.03,295.41 323.32,294.63 325.25,293.97 326.69,293.49" stroke="#222" stroke-width="1.1" fill="none" stroke-linejoin="round" stroke-linecap="round" />
<polyline points="226.70,296.31 226.99,297.19 227.36,298.38 227.81,299.79 228.31,301.35 228.84,302.99 229.39,304.63 229.93,306.18 230.44,307.57 230.94,308.86 231.45,310.12 231.98,311.36 232.50,312.56 233.03,313.73 233.56,314.86 234.09,315.94 234.62,316.96 235.14,317.93 235.66,318.84 236.18,319.71 236.70,320.53 237.22,321.32 237.74,322.08 238.27,322.81 238.80,323.54 239.32,324.23 239.82,324.87 240.31,325.48 240.81,326.06 241.34,326.64 241.90,327.22 242.52,327.83 243.20,328.47 243.95,329.13 244.74,329.79 245.58,330.46 246.46,331.14 247.38,331.84 248.34,332.56 249.33,333.31 250.35,334.10 251.40,334.92 252.48,335.75 253.59,336.62 254.74,337.50 255.94,338.42 257.17,339.37 258.46,340.35 259.81,341.38 261.25,342.48 262.80,343.68 264.41,344.93 266.07,346.20 267.72,347.46 269.34,348.68 270.90,349.81 272.35,350.82 273.68,351.70 274.93,352.48 276.11,353.19 277.26,353.85 278.40,354.47 279.55,355.09 280.76,355.73 282.03,356.40 283.34,357.10 284.66,357.80 285.99,358.50 287.35,359.20 288.76,359.90 290.24,360.61 291.81,361.32 293.47,362.04 295.37,362.80 297.54,363.63 299.86,364.48 302.22,365.32 304.48,366.12 306.54,366.85 308.26,367.45 309.53,367.91" stroke="#222" stroke-width="1.1" fill="none" stroke-linejoin="round" stroke-linecap="round" />
<polyline points="226.70,367.67 227.12,366.99 227.64,366.10 228.26,365.03 228.96,363.84 229.75,362.57 230.61,361.27 231.54,359.98 232.53,358.75 233.61,357.53 234.82,356.25 236.11,354.94 237.46,353.62 238.85,352.30 240.25,351.03 241.64,349.80 242.98,348.66 244.30,347.59 245.61,346.58 246.94,345.62 248.26,344.69 249.58,343.80 250.91,342.91 252.22,342.03 253.54,341.14 254.80,340.28 255.98,339.46 257.13,338.67 258.30,337.88 259.52,337.07 260.85,336.23 262.32,335.32 263.99,334.34 265.93,333.24 268.12,332.04 270.49,330.77 272.95,329.47 275.41,328.16 277.81,326.90 280.04,325.70 282.03,324.62 283.75,323.66 285.27,322.82 286.65,322.05 287.95,321.31 289.22,320.58 290.52,319.80 291.92,318.96 293.47,318.00 295.16,316.91 296.95,315.71 298.80,314.44 300.70,313.14 302.62,311.82 304.54,310.54 306.45,309.31 308.32,308.19 310.16,307.13 311.99,306.09 313.82,305.10 315.64,304.14 317.47,303.23 319.29,302.38 321.12,301.58 322.95,300.86 324.82,300.22 326.74,299.65 328.69,299.15 330.62,298.70 332.52,298.29 334.35,297.91 336.08,297.55 337.69,297.20 339.22,296.85 340.72,296.53 342.15,296.23 343.51,295.96 344.74,295.72 345.84,295.50 346.76,295.32 347.48,295.18" stroke="#f01818" stroke-width="1.1" fill="none" stroke-linejoin="round" stroke-linecap="round" />
<polyline points="226.70,296.31 227.15,297.12 227.74,298.20 228.44,299.48 229.22,300.91 230.06,302.42 230.90,303.95 231.74,305.44 232.53,306.82 233.28,308.15 234.02,309.49 234.76,310.84 235.51,312.19 236.28,313.52 237.08,314.82 237.91,316.08 238.80,317.29 239.70,318.44 240.59,319.52 241.50,320.55 242.45,321.56 243.47,322.56 244.57,323.58 245.80,324.61 247.16,325.70 248.67,326.80 250.30,327.90 252.05,329.00 253.88,330.13 255.80,331.29 257.79,332.49 259.82,333.75 261.90,335.09 264.09,336.55 266.43,338.15 268.88,339.84 271.37,341.56 273.84,343.27 276.24,344.89 278.51,346.39 280.60,347.72 282.44,348.85 284.07,349.84 285.55,350.71 286.97,351.51 288.40,352.25 289.91,352.98 291.57,353.73 293.47,354.52 295.64,355.36 298.03,356.22 300.57,357.07 303.20,357.91 305.84,358.74 308.43,359.54 310.89,360.30 313.16,361.00 315.24,361.66 317.21,362.29 319.07,362.87 320.87,363.43 322.63,363.96 324.37,364.46 326.12,364.95 327.90,365.42 329.80,365.88 331.82,366.34 333.89,366.78 335.92,367.20 337.83,367.58 339.55,367.92 341.00,368.20 342.09,368.42" stroke="#f01818" stroke-width="1.1" fill="none" stroke-linejoin="round" stroke-linecap="round" />
<rect x="390.50" y="275.50" width="132.80" height="102.30" stroke="#222" stroke-width="1" fill="none"/>
<text x="350.40" y="282.60" font-size="16" fill="#000" style="font-family:'Liberation Serif',serif;font-weight:bold" textLength="19.00" lengthAdjust="spacingAndGlyphs">(h)</text>
<line x1="388.70" y1="373.20" x2="390.50" y2="373.20" stroke="#222" stroke-width="0.8"/>
<text x="388.20" y="374.92" font-size="5.2" fill="#000" style="font-family:'Liberation Serif',serif;font-weight:bold" text-anchor="end">0</text>
<line x1="388.70" y1="363.32" x2="390.50" y2="363.32" stroke="#222" stroke-width="0.8"/>
<text x="388.20" y="365.04" font-size="5.2" fill="#000" style="font-family:'Liberation Serif',serif;font-weight:bold" text-anchor="end">20</text>
<line x1="388.70" y1="353.44" x2="390.50" y2="353.44" stroke="#222" stroke-width="0.8"/>
<text x="388.20" y="355.16" font-size="5.2" fill="#000" style="font-family:'Liberation Serif',serif;font-weight:bold" text-anchor="end">40</text>
<line x1="388.70" y1="343.56" x2="390.50" y2="343.56" stroke="#222" stroke-width="0.8"/>
<text x="388.20" y="345.28" font-size="5.2" fill="#000" style="font-family:'Liberation Serif',serif;font-weight:bold" text-anchor="end">60</text>
<line x1="388.70" y1="333.68" x2="390.50" y2="333.68" stroke="#222" stroke-width="0.8"/>
<text x="388.20" y="335.40" font-size="5.2" fill="#000" style="font-family:'Liberation Serif',serif;font-weight:bold" text-anchor="end">80</text>
<line x1="388.70" y1="323.80" x2="390.50" y2="323.80" stroke="#222" stroke-width="0.8"/>
<text x="388.20" y="325.52" font-size="5.2" fill="#000" style="font-family:'Liberation Serif',serif;font-weight:bold" text-anchor="end">100</text>
<line x1="388.70" y1="313.92" x2="390.50" y2="313.92" stroke="#222" stroke-width="0.8"/>
<text x="388.20" y="315.64" font-size="5.2" fill="#000" style="font-family:'Liberation Serif',serif;font-weight:bold" text-anchor="end">120</text>
<line x1="388.70" y1="304.04" x2="390.50" y2="304.04" stroke="#222" stroke-width="0.8"/>
<text x="388.20" y="305.76" font-size="5.2" fill="#000" style="font-family:'Liberation Serif',serif;font-weight:bold" text-anchor="end">140</text>
<line x1="388.70" y1="294.16" x2="390.50" y2="294.16" stroke="#222" stroke-width="0.8"/>
<text x="388.20" y="295.88" font-size="5.2" fill="#000" style="font-family:'Liberation Serif',serif;font-weight:bold" text-anchor="end">160</text>
<line x1="388.70" y1="284.28" x2="390.50" y2="284.28" stroke="#222" stroke-width="0.8"/>
<text x="388.20" y="286.00" font-size="5.2" fill="#000" style="font-family:'Liberation Serif',serif;font-weight:bold" text-anchor="end">180</text>
<line x1="388.70" y1="274.40" x2="390.50" y2="274.40" stroke="#222" stroke-width="0.8"/>
<text x="388.20" y="276.12" font-size="5.2" fill="#000" style="font-family:'Liberation Serif',serif;font-weight:bold" text-anchor="end">200</text>
<line x1="389.50" y1="368.26" x2="390.50" y2="368.26" stroke="#222" stroke-width="0.6"/>
<line x1="389.50" y1="358.38" x2="390.50" y2="358.38" stroke="#222" stroke-width="0.6"/>
<line x1="389.50" y1="348.50" x2="390.50" y2="348.50" stroke="#222" stroke-width="0.6"/>
<line x1="389.50" y1="338.62" x2="390.50" y2="338.62" stroke="#222" stroke-width="0.6"/>
<line x1="389.50" y1="328.74" x2="390.50" y2="328.74" stroke="#222" stroke-width="0.6"/>
<line x1="389.50" y1="318.86" x2="390.50" y2="318.86" stroke="#222" stroke-width="0.6"/>
<line x1="389.50" y1="308.98" x2="390.50" y2="308.98" stroke="#222" stroke-width="0.6"/>
<line x1="389.50" y1="299.10" x2="390.50" y2="299.10" stroke="#222" stroke-width="0.6"/>
<line x1="389.50" y1="289.22" x2="390.50" y2="289.22" stroke="#222" stroke-width="0.6"/>
<line x1="389.50" y1="279.34" x2="390.50" y2="279.34" stroke="#222" stroke-width="0.6"/>
<line x1="419.50" y1="377.80" x2="419.50" y2="379.60" stroke="#222" stroke-width="0.8"/>
<text x="419.50" y="385.72" font-size="5.2" fill="#000" style="font-family:'Liberation Serif',serif;font-weight:bold" text-anchor="middle">20</text>
<line x1="457.70" y1="377.80" x2="457.70" y2="379.60" stroke="#222" stroke-width="0.8"/>
<text x="457.70" y="385.72" font-size="5.2" fill="#000" style="font-family:'Liberation Serif',serif;font-weight:bold" text-anchor="middle">40</text>
<line x1="495.90" y1="377.80" x2="495.90" y2="379.60" stroke="#222" stroke-width="0.8"/>
<text x="495.90" y="385.72" font-size="5.2" fill="#000" style="font-family:'Liberation Serif',serif;font-weight:bold" text-anchor="middle">60</text>
<line x1="400.40" y1="377.80" x2="400.40" y2="378.80" stroke="#222" stroke-width="0.6"/>
<line x1="438.60" y1="377.80" x2="438.60" y2="378.80" stroke="#222" stroke-width="0.6"/>
<line x1="476.80" y1="377.80" x2="476.80" y2="378.80" stroke="#222" stroke-width="0.6"/>
<line x1="515.00" y1="377.80" x2="515.00" y2="378.80" stroke="#222" stroke-width="0.6"/>
<text x="428.30" y="394.61" font-size="8.5" fill="#000" style="font-family:'Liberation Serif',serif;font-weight:bold" textLength="57.70" lengthAdjust="spacingAndGlyphs">Cycle number (n)</text>
<text transform="translate(374.94,328.80) rotate(-90)" x="0" y="0" font-size="8.0" fill="#000" style="font-family:'Liberation Serif',serif;font-weight:bold" text-anchor="middle" textLength="92.00" lengthAdjust="spacingAndGlyphs">Specific Capacity (mAh g<tspan baseline-shift="super" font-size="5">-1</tspan>)</text>
<circle cx="475.90" cy="293.60" r="1.2" fill="#f01818"/>
<text x="482.70" y="295.50" font-size="8.5" fill="#000" style="font-family:'Liberation Serif',serif;font-weight:bold" textLength="29.60" lengthAdjust="spacingAndGlyphs">ZSNIAC</text>
<circle cx="475.90" cy="303.50" r="1.2" fill="#111"/>
<text x="482.70" y="306.11" font-size="8.5" fill="#000" style="font-family:'Liberation Serif',serif;font-weight:bold" textLength="29.00" lengthAdjust="spacingAndGlyphs">Bare Zn</text>
<polyline points="391.00,323.59 393.80,327.44 395.35,327.62 396.90,327.91 398.45,328.54 400.00,329.01 401.63,329.02 403.27,329.15 404.90,329.35 406.53,329.67 408.17,330.16 409.80,330.30" stroke="#f01818" stroke-width="2.5" fill="none" stroke-linejoin="round" stroke-linecap="round" />
<polyline points="411.50,332.25 413.20,332.58 414.90,332.82 416.60,333.27 418.30,333.62 420.00,333.36 421.70,333.57 423.40,334.15 425.10,334.33 426.80,334.09 428.50,334.35 430.20,334.60" stroke="#f01818" stroke-width="2.5" fill="none" stroke-linejoin="round" stroke-linecap="round" />
<polyline points="431.80,336.81 433.44,336.87 435.08,337.08 436.72,337.27 438.36,337.32 440.00,337.38 441.52,337.51 443.03,337.66 444.55,337.75 446.07,338.13 447.58,338.28 449.10,338.30" stroke="#f01818" stroke-width="2.5" fill="none" stroke-linejoin="round" stroke-linecap="round" />
<polyline points="450.70,339.58 452.31,339.94 453.92,339.99 455.53,339.89 457.14,340.06 458.75,339.99 460.36,340.45 461.97,340.36 463.58,340.20 465.19,340.34 466.80,340.70 469.00,341.84 470.54,342.01 472.07,341.76 473.61,342.05 475.15,342.05 476.68,341.70 478.22,341.94 479.75,341.75 481.29,342.00 482.83,342.05 484.36,342.05 485.90,341.90" stroke="#f01818" stroke-width="2.5" fill="none" stroke-linejoin="round" stroke-linecap="round" />
<polyline points="487.40,333.27 488.80,330.70 490.42,331.07 492.04,331.11 493.66,330.99 495.28,331.11 496.90,331.39 498.52,331.24 500.14,331.60 501.76,331.49 503.38,331.59 505.00,331.76 506.50,331.92 508.00,332.11 509.50,331.87 511.00,332.31 512.50,332.16 514.00,332.30 515.50,332.57 517.00,332.70 518.50,332.76 520.00,333.00 521.50,332.75 523.00,333.00" stroke="#f01818" stroke-width="2.5" fill="none" stroke-linejoin="round" stroke-linecap="round" />
<polyline points="391.00,338.71 392.50,341.88 394.50,343.08 396.03,343.17 397.56,343.34 399.09,343.76 400.62,343.92 402.15,344.01 403.68,344.27 405.21,344.33 406.74,344.22 408.27,344.37 409.80,344.60" stroke="#111" stroke-width="2.5" fill="none" stroke-linejoin="round" stroke-linecap="round" />
<polyline points="412.00,346.81 413.52,346.61 415.03,347.02 416.55,346.89 418.07,347.01 419.58,347.37 421.10,347.33 422.62,347.85 424.13,347.96 425.65,347.88 427.17,347.88 428.68,347.98 430.20,348.30" stroke="#111" stroke-width="2.5" fill="none" stroke-linejoin="round" stroke-linecap="round" />
<polyline points="431.80,350.40 433.37,350.54 434.95,350.59 436.52,350.89 438.09,350.92 439.66,351.17 441.24,350.97 442.81,351.08 444.38,351.36 445.95,351.54 447.53,351.55 449.10,351.80" stroke="#111" stroke-width="2.5" fill="none" stroke-linejoin="round" stroke-linecap="round" />
<polyline points="450.70,352.38 452.31,352.21 453.92,352.31 455.53,352.44 457.14,352.61 458.75,352.69 460.36,352.54 461.97,352.62 463.58,352.91 465.19,352.97 466.80,352.86 468.90,352.35 471.00,352.28 473.00,353.67 474.50,352.99 476.00,352.37 478.00,353.24 480.00,353.60 481.97,353.11 483.93,353.18 485.90,353.10" stroke="#111" stroke-width="2.5" fill="none" stroke-linejoin="round" stroke-linecap="round" />
<polyline points="487.40,346.66 488.80,344.90 490.42,344.81 492.04,345.19 493.66,345.23 495.28,345.09 496.90,344.94 498.52,345.13 500.14,345.01 501.76,345.47 503.38,345.05 505.00,345.19 506.50,345.48 508.00,345.20 509.50,345.23 511.00,345.25 512.50,345.34 514.00,345.57 515.50,345.76 517.00,345.47 518.50,345.51 520.00,345.85 521.50,345.72 523.00,345.80" stroke="#111" stroke-width="2.5" fill="none" stroke-linejoin="round" stroke-linecap="round" />
<text x="391.60" y="323.58" font-size="6.3" fill="#000" style="font-family:'Liberation Serif',serif;font-weight:bold" textLength="19.70" lengthAdjust="spacingAndGlyphs">0.2 A/g</text>
<text x="411.00" y="331.38" font-size="6.3" fill="#000" style="font-family:'Liberation Serif',serif;font-weight:bold" textLength="18.50" lengthAdjust="spacingAndGlyphs">0.4 A/g</text>
<text x="431.30" y="335.28" font-size="6.3" fill="#000" style="font-family:'Liberation Serif',serif;font-weight:bold" textLength="13.40" lengthAdjust="spacingAndGlyphs">1 A/g</text>
<text x="451.50" y="339.58" font-size="6.3" fill="#000" style="font-family:'Liberation Serif',serif;font-weight:bold" textLength="13.90" lengthAdjust="spacingAndGlyphs">2 A/g</text>
<text x="471.20" y="340.38" font-size="6.3" fill="#000" style="font-family:'Liberation Serif',serif;font-weight:bold" textLength="13.80" lengthAdjust="spacingAndGlyphs">4 A/g</text>
<text x="499.50" y="328.68" font-size="6.3" fill="#000" style="font-family:'Liberation Serif',serif;font-weight:bold" textLength="17.50" lengthAdjust="spacingAndGlyphs">0.2A/g</text>
</svg>
</body></html>
